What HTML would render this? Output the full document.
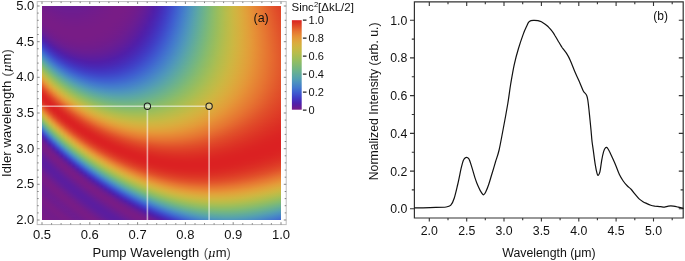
<!DOCTYPE html>
<html><head><meta charset="utf-8"><title>Figure</title>
<style>
html,body{margin:0;padding:0;background:#fff}
#fig{position:relative;width:685px;height:261px;overflow:hidden;background:#fff}
#hm{position:absolute;left:42px;top:6px;width:239px;height:214px}
#hm i{position:absolute;left:0;width:239px;height:1px;display:block}
</style></head><body><div id="fig"><div id="hm"><i style="top:0px;background:linear-gradient(90deg,#731c8a,#701c8d,#6e1d8f,#6c1d91,#6a1d92,#691d93,#691d93,#691d93,#691d93,#6a1d92,#6b1d91,#6c1d90,#6d1d8f,#6f1c8e,#711c8c,#721c8b,#741c89,#761c88,#771c87,#781c86,#781c86,#781c86,#761c88,#741c8a,#701c8d,#6b1d91,#651d96,#5d1d9d,#541ea5,#4d23ae,#482bb7,#4335c0,#4042c7,#3f52cc,#3f61d0,#4272ce,#4681c9,#4b8fc1,#529bb5,#5ba5a6,#65ad97,#70b387,#7cb878,#8bbb6a,#98bd5d,#a6be55,#b4bc4c,#c0ba47,#ccb742,#d5b13f,#dca93c,#e1a03a,#e49638,#e68b35,#e67f33,#e67431,#e5682f,#e35c2d,#e1522a,#e04929,#df4127)"></i><i style="top:1px;background:linear-gradient(90deg,#741c8a,#711c8c,#6f1c8e,#6d1d90,#6b1d91,#6a1d92,#6a1d92,#6a1d92,#6a1d92,#6b1d92,#6b1d91,#6d1d90,#6e1d8f,#701c8d,#711c8c,#731c8a,#741c89,#761c88,#771c87,#781c86,#781c86,#771c87,#761c88,#731c8a,#701c8d,#6b1d91,#651d97,#5d1d9e,#531ea6,#4d23ae,#472cb7,#4236c0,#4043c8,#3f52cd,#4062cf,#4272ce,#4681c8,#4b90c0,#539bb5,#5ba6a6,#65ad97,#70b487,#7db877,#8bbb6a,#98bd5d,#a6be55,#b4bc4c,#c0ba47,#ccb742,#d5b13f,#dca93c,#e1a03a,#e49638,#e68b35,#e68034,#e67531,#e5692f,#e35d2d,#e1532a,#e04a29,#df4227)"></i><i style="top:2px;background:linear-gradient(90deg,#741c89,#721c8b,#6f1c8d,#6e1d8f,#6c1d90,#6b1d91,#6b1d92,#6a1d92,#6b1d92,#6b1d91,#6c1d90,#6d1d8f,#6f1c8e,#701c8d,#721c8c,#731c8a,#751c89,#761c88,#771c87,#781c86,#781c86,#771c87,#761c88,#731c8a,#6f1c8e,#6a1d92,#641d98,#5c1d9e,#521ea7,#4c24af,#472cb8,#4237c1,#4044c8,#3f53cd,#4063cf,#4273cd,#4682c8,#4c90c0,#539cb4,#5ba6a6,#65ad96,#70b487,#7db877,#8bbb6a,#99bd5d,#a6be55,#b4bc4c,#c0ba47,#ccb742,#d4b13f,#dcaa3c,#e0a13a,#e49738,#e68c35,#e68034,#e67531,#e5692f,#e35e2d,#e1532a,#e04a29,#df4227)"></i><i style="top:3px;background:linear-gradient(90deg,#751c89,#731c8b,#701c8d,#6e1c8e,#6d1d90,#6c1d91,#6b1d91,#6b1d91,#6b1d91,#6c1d90,#6d1d90,#6e1d8f,#6f1c8e,#711c8c,#721c8b,#741c8a,#751c88,#761c87,#771c87,#781c86,#781c86,#771c87,#751c88,#731c8b,#6f1c8e,#6a1d93,#631d98,#5b1d9f,#521ea7,#4c24b0,#462db9,#4238c1,#4045c8,#3f54cd,#4064cf,#4274cd,#4682c8,#4c90c0,#539cb4,#5ba6a5,#65ad96,#70b486,#7db877,#8bbb6a,#99bd5d,#a6be55,#b4bc4c,#c0ba47,#ccb742,#d4b13f,#dbaa3c,#e0a13a,#e49738,#e68c36,#e68134,#e67631,#e56a2f,#e35f2d,#e1542b,#e04b29,#df4327)"></i><i style="top:4px;background:linear-gradient(90deg,#761c88,#731c8a,#711c8c,#6f1c8e,#6e1d8f,#6d1d90,#6c1d90,#6c1d90,#6c1d90,#6d1d90,#6d1d8f,#6e1c8e,#701c8d,#711c8c,#731c8b,#741c89,#751c88,#771c87,#781c86,#781c86,#781c86,#771c87,#751c89,#721c8b,#6e1c8e,#691d93,#621d99,#5a1ea0,#511ea8,#4b25b0,#462eb9,#4239c2,#4046c9,#3f55cd,#4065cf,#4275cd,#4783c8,#4c91bf,#539cb3,#5ca6a5,#65ae96,#71b486,#7db877,#8bbb6a,#99bd5d,#a6be55,#b4bc4c,#c0ba47,#ccb742,#d4b140,#dbaa3c,#e0a13a,#e49838,#e68c36,#e68134,#e67632,#e56b2f,#e35f2d,#e2552b,#e04b29,#df4328)"></i><i style="top:5px;background:linear-gradient(90deg,#761c87,#741c89,#721c8b,#701c8d,#6f1c8e,#6e1d8f,#6d1d90,#6d1d90,#6d1d90,#6d1d8f,#6e1d8f,#6f1c8e,#701c8d,#721c8c,#731c8a,#741c89,#761c88,#771c87,#781c86,#781c86,#781c86,#771c87,#751c89,#721c8b,#6e1d8f,#681d94,#621d9a,#591ea1,#501fa9,#4b26b1,#462fba,#4239c2,#4047c9,#3f56ce,#4066cf,#4275cd,#4784c7,#4c91bf,#549db3,#5ca7a4,#66ae95,#71b486,#7db877,#8bbc69,#99bd5d,#a6be55,#b4bc4c,#c0ba47,#ccb742,#d4b140,#dbaa3d,#e0a23a,#e49838,#e68d36,#e68234,#e67732,#e56b2f,#e3602d,#e2552b,#e04c29,#df4428)"></i><i style="top:6px;background:linear-gradient(90deg,#771c87,#751c89,#731c8b,#711c8c,#6f1c8d,#6e1c8e,#6e1d8f,#6e1d8f,#6e1d8f,#6e1d8f,#6f1c8e,#701c8d,#711c8c,#721c8b,#741c8a,#751c89,#761c88,#771c87,#781c86,#781c86,#781c86,#761c87,#741c89,#711c8c,#6d1d8f,#681d94,#611d9a,#591ea1,#501faa,#4a26b2,#452fbb,#423ac3,#4048c9,#3f57ce,#4066cf,#4376cd,#4784c7,#4d92be,#549db3,#5ca7a4,#66ae95,#71b486,#7db877,#8bbc69,#99bd5d,#a6be55,#b4bd4d,#c0bb47,#ccb742,#d4b140,#dbaa3d,#e0a23b,#e49838,#e68d36,#e68234,#e67732,#e56c30,#e4612d,#e2562b,#e04d29,#e04528)"></i><i style="top:7px;background:linear-gradient(90deg,#771c87,#751c88,#741c8a,#721c8b,#701c8d,#6f1c8e,#6f1c8e,#6e1c8e,#6e1c8e,#6f1c8e,#6f1c8d,#701c8d,#711c8c,#731c8b,#741c8a,#751c88,#761c87,#771c87,#781c86,#781c86,#771c86,#761c88,#741c89,#711c8c,#6d1d90,#671d95,#601d9b,#581ea2,#4f20aa,#4a27b3,#4530bb,#413bc3,#3f49ca,#3f58ce,#4067cf,#4377cd,#4785c7,#4d92be,#549eb2,#5ca7a4,#66ae94,#71b485,#7eb976,#8bbc69,#99bd5d,#a6be55,#b4bd4d,#c0bb47,#cbb742,#d4b140,#dbab3d,#e0a23b,#e49938,#e68e36,#e68334,#e67832,#e56d30,#e4612e,#e2572b,#e14d29,#e04528)"></i><i style="top:8px;background:linear-gradient(90deg,#781c86,#761c88,#741c89,#731c8b,#711c8c,#701c8d,#6f1c8e,#6f1c8e,#6f1c8e,#6f1c8d,#701c8d,#711c8c,#721c8b,#731c8a,#741c89,#761c88,#771c87,#771c86,#781c86,#781c86,#771c87,#761c88,#741c8a,#701c8d,#6c1d91,#661d96,#5f1d9c,#571ea3,#4f21ab,#4928b3,#4531bc,#413cc4,#3f4aca,#3f59ce,#4068cf,#4378cd,#4886c6,#4d93be,#549eb2,#5da7a3,#67ae94,#72b485,#7eb976,#8cbc69,#99bd5d,#a6be55,#b4bd4d,#c0bb47,#cbb742,#d3b240,#dbab3d,#e0a23b,#e39939,#e68e36,#e68334,#e67832,#e56d30,#e4622e,#e2572b,#e14e29,#e04628)"></i><i style="top:9px;background:linear-gradient(90deg,#781c86,#771c87,#751c89,#731c8a,#721c8b,#711c8c,#701c8d,#701c8d,#701c8d,#701c8d,#711c8c,#721c8c,#731c8b,#741c8a,#751c89,#761c88,#771c87,#781c86,#781c86,#781c86,#771c87,#761c88,#731c8a,#701c8d,#6b1d91,#651d96,#5e1d9c,#561ea4,#4e21ac,#4928b4,#4432bd,#413dc5,#3f4bca,#3f5acf,#4169ce,#4379cd,#4886c6,#4d93bd,#559eb1,#5da8a3,#67ae94,#72b485,#7eb976,#8cbc69,#99bd5d,#a6be54,#b4bd4d,#c0bb47,#cbb742,#d3b240,#dbab3d,#e0a33b,#e39a39,#e68f36,#e68434,#e67932,#e56e30,#e4632e,#e2582c,#e14e2a,#e04628)"></i><i style="top:10px;background:linear-gradient(90deg,#781c86,#771c87,#761c88,#741c89,#731c8b,#721c8c,#711c8c,#701c8d,#701c8d,#711c8c,#711c8c,#721c8b,#731c8a,#741c89,#751c88,#761c88,#771c87,#781c86,#781c86,#781c86,#771c87,#751c88,#731c8b,#6f1c8e,#6b1d92,#651d97,#5d1d9d,#551ea5,#4e22ad,#4829b5,#4433be,#413ec5,#3f4ccb,#3f5bcf,#416ace,#4379cd,#4887c5,#4e94bd,#559fb1,#5da8a2,#67af93,#72b584,#7eb976,#8cbc69,#99bd5d,#a6be54,#b4bd4d,#bfbb47,#cbb742,#d3b240,#dbab3d,#e0a33b,#e39a39,#e68f36,#e68434,#e67932,#e56e30,#e4632e,#e2592c,#e14f2a,#e04728)"></i><i style="top:11px;background:linear-gradient(90deg,#781c86,#771c86,#761c88,#751c89,#731c8a,#721c8b,#721c8c,#711c8c,#711c8c,#711c8c,#721c8b,#731c8b,#741c8a,#751c89,#761c88,#761c87,#771c87,#781c86,#781c86,#781c86,#771c87,#751c89,#721c8b,#6f1c8e,#6a1d92,#641d98,#5d1d9e,#541ea6,#4d22ad,#482ab6,#4333be,#413fc6,#3f4dcb,#3f5ccf,#416bce,#437acc,#4888c5,#4e94bc,#559fb0,#5ea8a2,#68af93,#72b584,#7fb975,#8cbc68,#99bd5d,#a7be54,#b4bd4d,#bfbb47,#cbb742,#d3b240,#daab3d,#dfa33b,#e39a39,#e68f36,#e68534,#e67a32,#e56f30,#e4642e,#e2592c,#e1502a,#e04728)"></i><i style="top:12px;background:linear-gradient(90deg,#781c86,#781c86,#771c87,#751c88,#741c89,#731c8a,#721c8b,#721c8b,#721c8b,#721c8b,#731c8b,#731c8a,#741c89,#751c89,#761c88,#771c87,#771c86,#781c86,#781c86,#781c86,#761c87,#751c89,#721c8b,#6e1d8f,#691d93,#631d98,#5c1d9f,#531ea6,#4d23ae,#482bb6,#4334bf,#4040c6,#3f4ecb,#3f5dd0,#416cce,#447bcc,#4988c5,#4e95bc,#56a0b0,#5ea8a1,#68af92,#73b583,#7fb975,#8cbc68,#99bd5c,#a7be54,#b4bd4d,#bfbb47,#cbb742,#d3b240,#daab3d,#dfa33b,#e39a39,#e69036,#e68534,#e67a32,#e57030,#e4642e,#e25a2c,#e1502a,#e04828)"></i><i style="top:13px;background:linear-gradient(90deg,#781c86,#781c86,#771c87,#761c88,#751c89,#741c8a,#731c8a,#731c8b,#731c8b,#731c8b,#731c8a,#741c8a,#751c89,#751c88,#761c88,#771c87,#781c86,#781c86,#781c86,#771c87,#761c88,#741c89,#711c8c,#6d1d8f,#681d94,#621d99,#5b1ea0,#521ea7,#4c24af,#472cb7,#4335c0,#4041c7,#3f4fcc,#3f5ed0,#416dce,#447ccc,#4989c4,#4f95bb,#56a0af,#5ea9a0,#68af92,#73b583,#7fb975,#8dbc68,#9abd5c,#a7be54,#b4bd4d,#bfbb47,#cbb743,#d3b240,#daac3d,#dfa33b,#e39b39,#e69036,#e68535,#e67b32,#e67030,#e4652e,#e35a2c,#e1512a,#e04929)"></i><i style="top:14px;background:linear-gradient(90deg,#771c87,#781c86,#771c86,#761c87,#751c88,#741c89,#741c8a,#731c8a,#731c8a,#731c8a,#741c8a,#741c89,#751c89,#761c88,#771c87,#771c87,#781c86,#781c86,#781c86,#771c87,#761c88,#741c8a,#711c8c,#6d1d90,#681d94,#611d9a,#5a1ea0,#511ea8,#4c24b0,#472cb8,#4236c0,#4042c7,#3f50cc,#3f5fd0,#416ece,#447ccb,#498ac4,#4f96bb,#56a0ae,#5fa9a0,#69af91,#73b583,#80b974,#8dbc68,#9abd5c,#a7be54,#b4bd4d,#bfbb47,#cbb743,#d3b240,#daac3d,#dfa43b,#e39b39,#e69036,#e68635,#e67b33,#e67130,#e4662e,#e35b2c,#e1512a,#e04929)"></i><i style="top:15px;background:linear-gradient(90deg,#771c87,#781c86,#781c86,#771c87,#761c88,#751c89,#741c89,#741c8a,#741c8a,#741c8a,#741c89,#751c89,#751c88,#761c88,#771c87,#771c86,#781c86,#781c86,#781c86,#771c87,#751c88,#731c8a,#701c8d,#6c1d90,#671d95,#601d9b,#591ea1,#501fa9,#4b25b1,#462db9,#4237c1,#4043c8,#3f51cc,#3f60d0,#416fce,#457dcb,#498ac3,#4f97ba,#57a1ae,#5fa99f,#69b091,#74b582,#80b974,#8dbc68,#9abd5c,#a7be54,#b4bc4c,#bfbb47,#cbb743,#d3b240,#daac3d,#dfa43b,#e39b39,#e69136,#e68635,#e67c33,#e67131,#e4662f,#e35c2c,#e1522a,#e04a29)"></i><i style="top:16px;background:linear-gradient(90deg,#761c88,#781c86,#781c86,#771c87,#761c87,#761c88,#751c89,#751c89,#741c89,#741c89,#751c89,#751c88,#761c88,#761c87,#771c87,#781c86,#781c86,#781c86,#781c86,#771c87,#751c89,#731c8b,#701c8d,#6b1d91,#661d96,#5f1d9b,#581ea2,#5020aa,#4b26b2,#462eba,#4238c2,#4044c8,#3f52cd,#3f61d0,#4270ce,#457eca,#4a8bc3,#4f97ba,#57a1ad,#5fa99f,#69b090,#74b582,#80b974,#8dbc67,#9abd5c,#a7be54,#b4bc4c,#bfbb47,#cbb743,#d3b240,#daac3d,#dfa43b,#e39b39,#e59137,#e68635,#e67c33,#e67231,#e4672f,#e35c2c,#e1532a,#e04a29)"></i><i style="top:17px;background:linear-gradient(90deg,#751c88,#781c86,#781c86,#781c86,#771c87,#761c88,#751c88,#751c89,#751c89,#751c89,#751c88,#761c88,#761c88,#771c87,#771c87,#781c86,#781c86,#781c86,#771c87,#761c87,#751c89,#721c8b,#6f1c8e,#6b1d92,#651d97,#5e1d9c,#571ea3,#4f20ab,#4a27b2,#452fbb,#4239c2,#4045c8,#3f54cd,#4062cf,#4271ce,#457fca,#4a8cc3,#5098b9,#57a2ac,#60aa9e,#6ab090,#74b581,#81b973,#8ebc67,#9abd5c,#a7be54,#b4bc4c,#bfbb47,#cab743,#d3b240,#daac3d,#dfa43b,#e39c39,#e59137,#e68735,#e67c33,#e67231,#e4672f,#e35d2d,#e1532a,#e04b29)"></i><i style="top:18px;background:linear-gradient(90deg,#741c89,#771c87,#781c86,#781c86,#771c87,#771c87,#761c88,#761c88,#751c88,#751c88,#761c88,#761c88,#771c87,#771c87,#781c86,#781c86,#781c86,#781c86,#771c87,#761c88,#741c89,#721c8c,#6e1d8f,#6a1d92,#641d97,#5d1d9d,#551ea4,#4f21ac,#4927b3,#4530bb,#423ac3,#4047c9,#3f55cd,#4063cf,#4272ce,#4580c9,#4a8dc2,#5098b9,#58a2ac,#60aa9e,#6ab08f,#75b681,#81b973,#8ebc67,#9bbd5c,#a7be54,#b4bc4c,#bfbb47,#cab743,#d3b240,#daac3d,#dfa43b,#e39c39,#e59237,#e68735,#e67d33,#e67331,#e5682f,#e35d2d,#e1542b,#e04b29)"></i><i style="top:19px;background:linear-gradient(90deg,#731c8a,#771c87,#781c86,#781c86,#781c86,#771c87,#761c87,#761c88,#761c88,#761c88,#761c88,#761c87,#771c87,#771c87,#781c86,#781c86,#781c86,#781c86,#771c87,#761c88,#741c8a,#711c8c,#6d1d8f,#691d93,#631d98,#5c1d9e,#541ea5,#4e22ac,#4928b4,#4431bc,#413bc4,#4048c9,#3f56ce,#4064cf,#4273cd,#4680c9,#4a8ec2,#5199b8,#58a2ab,#60aa9d,#6ab18f,#75b680,#81ba73,#8ebc67,#9bbd5b,#a8be54,#b4bc4c,#bfbb47,#cab743,#d3b240,#daac3d,#dfa43b,#e39c39,#e59237,#e68835,#e67d33,#e67331,#e5682f,#e35e2d,#e2542b,#e04c29)"></i><i style="top:20px;background:linear-gradient(90deg,#721c8b,#761c88,#781c86,#781c86,#781c86,#771c87,#771c87,#771c87,#761c87,#761c87,#771c87,#771c87,#771c87,#781c86,#781c86,#781c86,#781c86,#781c86,#771c87,#751c88,#731c8a,#701c8d,#6d1d90,#681d94,#621d99,#5b1d9f,#531ea6,#4d22ad,#4829b5,#4432bd,#413dc4,#3f49ca,#3f57ce,#4065cf,#4274cd,#4681c8,#4b8ec1,#5199b7,#59a3aa,#61aa9c,#6bb18e,#75b680,#82ba72,#8ebc66,#9bbd5b,#a8be54,#b4bc4c,#bfbb47,#cab743,#d2b240,#daac3d,#dfa53b,#e29c39,#e59237,#e68835,#e67e33,#e67431,#e5692f,#e35e2d,#e2552b,#e04c29)"></i><i style="top:21px;background:linear-gradient(90deg,#701c8d,#751c89,#771c87,#781c86,#781c86,#781c86,#771c87,#771c87,#771c87,#771c87,#771c87,#771c87,#771c87,#781c86,#781c86,#781c86,#781c86,#771c87,#761c87,#751c89,#731c8b,#701c8d,#6c1d91,#671d95,#611d9a,#5a1ea0,#521ea7,#4d23ae,#482ab6,#4333be,#413ec5,#3f4aca,#3f58ce,#4067cf,#4275cd,#4682c8,#4b8fc1,#519ab7,#59a3aa,#61ab9c,#6bb18e,#76b67f,#82ba72,#8fbc66,#9bbd5b,#a8be53,#b5bc4c,#bfbb47,#cab743,#d2b240,#daac3d,#dfa53b,#e29c39,#e59237,#e68835,#e67e33,#e67431,#e5692f,#e35f2d,#e2552b,#e14d29)"></i><i style="top:22px;background:linear-gradient(90deg,#6e1c8e,#741c8a,#771c87,#781c86,#781c86,#781c86,#781c86,#771c87,#771c87,#771c87,#771c87,#771c87,#781c86,#781c86,#781c86,#781c86,#781c86,#771c87,#761c88,#741c89,#721c8b,#6f1c8e,#6b1d91,#661d96,#601d9b,#591ea1,#511ea8,#4c24af,#472bb7,#4334bf,#413fc6,#3f4ccb,#3f59cf,#4068cf,#4376cd,#4783c8,#4b90c0,#529ab6,#59a4a9,#62ab9b,#6cb18d,#76b67f,#82ba72,#8fbc66,#9cbd5b,#a8be53,#b5bc4c,#c0bb47,#cab743,#d2b240,#daac3d,#dfa53b,#e29d39,#e59337,#e68835,#e67e33,#e67531,#e56a2f,#e3602d,#e2562b,#e14d29)"></i><i style="top:23px;background:linear-gradient(90deg,#6c1d90,#731c8b,#761c88,#771c86,#781c86,#781c86,#781c86,#781c86,#771c87,#771c87,#771c86,#781c86,#781c86,#781c86,#781c86,#781c86,#781c86,#771c87,#761c88,#741c8a,#721c8c,#6e1c8e,#6a1d92,#651d96,#5f1d9c,#581ea2,#501fa9,#4c25b0,#472cb8,#4335c0,#4040c6,#3f4dcb,#3f5bcf,#4169ce,#4377cd,#4784c7,#4c91c0,#529bb5,#5aa4a8,#62ab9a,#6cb28c,#77b67e,#83ba71,#8fbc65,#9cbd5b,#a8be53,#b5bc4c,#c0bb47,#cab743,#d2b240,#daac3d,#dea53b,#e29d39,#e59337,#e68935,#e67f33,#e67531,#e56a2f,#e4602d,#e2562b,#e14e29)"></i><i style="top:24px;background:linear-gradient(90deg,#6a1d92,#711c8c,#751c89,#771c87,#781c86,#781c86,#781c86,#781c86,#781c86,#781c86,#781c86,#781c86,#781c86,#781c86,#781c86,#781c86,#771c87,#771c87,#751c88,#731c8a,#711c8c,#6e1d8f,#691d93,#641d97,#5e1d9d,#571ea3,#5020aa,#4b26b1,#462db9,#4236c1,#4041c7,#3f4ecb,#3f5ccf,#416ace,#4378cd,#4785c7,#4c91bf,#539cb4,#5aa5a7,#63ac9a,#6db28c,#77b67e,#83ba71,#90bc65,#9cbd5b,#a9be53,#b5bc4c,#c0bb47,#cbb743,#d2b240,#d9ac3d,#dea53b,#e29d39,#e59337,#e68935,#e67f33,#e67531,#e56b2f,#e4612d,#e2572b,#e14e2a)"></i><i style="top:25px;background:linear-gradient(90deg,#671d94,#6f1c8d,#741c89,#761c87,#781c86,#781c86,#781c86,#781c86,#781c86,#781c86,#781c86,#781c86,#781c86,#781c86,#781c86,#781c86,#771c87,#761c88,#751c89,#731c8b,#701c8d,#6d1d90,#681d94,#631d98,#5d1d9e,#551ea4,#4f21ab,#4a27b2,#462eba,#4238c1,#4043c8,#3f50cc,#3f5dd0,#416cce,#4379cd,#4886c6,#4d92be,#539cb4,#5ba5a7,#63ac99,#6db28b,#78b77d,#84ba70,#90bc65,#9cbd5b,#a9be53,#b5bc4c,#c0ba47,#cbb743,#d2b240,#d9ac3d,#dea53b,#e29d39,#e59337,#e68935,#e67f33,#e67631,#e56b2f,#e4612e,#e2572b,#e14f2a)"></i><i style="top:26px;background:linear-gradient(90deg,#651d97,#6e1d8f,#731c8a,#761c88,#771c87,#781c86,#781c86,#781c86,#781c86,#781c86,#781c86,#781c86,#781c86,#781c86,#781c86,#771c86,#771c87,#761c88,#741c89,#721c8b,#6f1c8d,#6c1d91,#671d94,#621d99,#5c1d9f,#541ea5,#4e21ac,#4927b3,#452fbb,#4239c2,#4044c8,#3f51cc,#3f5fd0,#416dce,#447acc,#4887c5,#4d93be,#549db3,#5ba6a6,#64ac98,#6eb28a,#78b77d,#84ba70,#91bc64,#9dbd5a,#a9be53,#b5bc4c,#c0ba47,#cbb743,#d2b240,#d9ad3d,#dea53b,#e29d39,#e59437,#e68a35,#e68034,#e67631,#e56c30,#e4622e,#e2582c,#e14f2a)"></i><i style="top:27px;background:linear-gradient(90deg,#621d9a,#6c1d91,#711c8c,#751c89,#771c87,#781c86,#781c86,#781c86,#781c86,#781c86,#781c86,#781c86,#781c86,#781c86,#781c86,#771c87,#761c87,#751c88,#741c8a,#721c8c,#6f1c8e,#6b1d91,#661d95,#611d9a,#5a1ea0,#531ea6,#4e22ad,#4928b4,#4531bc,#423ac3,#4045c8,#3f53cd,#3f60d0,#416ece,#447bcc,#4888c5,#4d93bd,#549eb2,#5ba6a5,#64ad97,#6eb38a,#79b77c,#85bb6f,#91bc64,#9dbd5a,#aabd52,#b6bc4c,#c0ba47,#cbb743,#d2b240,#d9ad3d,#dea53b,#e29d39,#e59437,#e68a35,#e68034,#e67631,#e56c30,#e4622e,#e2582c,#e1502a)"></i><i style="top:28px;background:linear-gradient(90deg,#5e1d9d,#691d93,#701c8d,#741c8a,#761c88,#771c87,#781c86,#781c86,#781c86,#781c86,#781c86,#781c86,#781c86,#781c86,#771c87,#771c87,#761c88,#751c89,#731c8a,#711c8c,#6e1d8f,#6a1d92,#651d96,#601d9b,#591ea1,#521ea8,#4d23ae,#4829b5,#4432bd,#413bc4,#4047c9,#3f54cd,#3f61d0,#426fce,#447dcb,#4989c4,#4e94bc,#559eb1,#5ca7a4,#65ad97,#6fb389,#79b77b,#85bb6f,#91bc64,#9dbd5a,#aabd52,#b6bc4c,#c0ba47,#cbb742,#d2b240,#d9ad3d,#dea53b,#e29d3a,#e59437,#e68a35,#e68034,#e67732,#e56c30,#e4622e,#e2592c,#e1502a)"></i><i style="top:29px;background:linear-gradient(90deg,#5b1ea0,#671d95,#6e1d8f,#731c8b,#751c88,#771c87,#771c87,#781c86,#781c86,#781c86,#781c86,#781c86,#781c86,#781c86,#771c87,#771c87,#761c88,#741c89,#721c8b,#701c8d,#6d1d90,#691d93,#641d97,#5f1d9c,#581ea2,#511fa9,#4c24af,#482bb6,#4433be,#413dc4,#4048c9,#3f55ce,#4063cf,#4271ce,#457ecb,#498ac4,#4e95bc,#559fb0,#5ca7a3,#65ad96,#6fb388,#7ab77b,#86bb6e,#92bc63,#9ebd5a,#aabd52,#b6bc4b,#c0ba47,#cbb742,#d2b240,#d9ad3d,#dea53b,#e29d3a,#e59437,#e68a35,#e68134,#e67732,#e56d30,#e4632e,#e2592c,#e1512a)"></i><i style="top:30px;background:linear-gradient(90deg,#571ea3,#641d98,#6c1d90,#711c8c,#741c89,#761c88,#771c87,#771c87,#781c86,#781c86,#781c86,#781c86,#781c86,#771c87,#771c87,#761c88,#751c89,#741c8a,#721c8b,#6f1c8e,#6c1d90,#681d94,#631d98,#5d1d9d,#571ea3,#501faa,#4b25b0,#472cb7,#4334bf,#413ec5,#3f4aca,#3f57ce,#4064cf,#4272ce,#457fca,#498bc3,#4f96bb,#569fb0,#5da8a3,#66ae95,#70b388,#7ab77a,#86bb6e,#92bc63,#9ebd59,#aabd52,#b6bc4b,#c1ba47,#cbb742,#d2b240,#d9ad3d,#dea53b,#e29d3a,#e59437,#e68a35,#e68134,#e67732,#e56d30,#e4632e,#e25a2c,#e1512a)"></i><i style="top:31px;background:linear-gradient(90deg,#521ea7,#611d9a,#6a1d92,#701c8d,#731c8a,#751c88,#761c87,#771c87,#771c87,#781c86,#781c86,#771c86,#771c87,#771c87,#761c87,#761c88,#751c89,#731c8a,#711c8c,#6e1c8e,#6b1d91,#671d95,#621d99,#5c1d9e,#551ea4,#4f20ab,#4b26b1,#472db9,#4335c0,#403fc6,#3f4ccb,#3f58ce,#4066cf,#4273cd,#4580c9,#4a8cc3,#4f97ba,#56a0af,#5da8a2,#66ae94,#70b487,#7bb87a,#87bb6d,#93bc63,#9fbd59,#abbd52,#b7bc4b,#c1ba47,#cbb742,#d3b240,#d9ad3d,#dea53b,#e29d3a,#e59437,#e68b35,#e68134,#e67732,#e56d30,#e4642e,#e35a2c,#e1512a)"></i><i style="top:32px;background:linear-gradient(90deg,#4f20aa,#5d1d9d,#671d95,#6e1d8f,#721c8b,#741c89,#761c88,#771c87,#771c87,#771c87,#771c87,#771c87,#771c87,#771c87,#761c88,#751c89,#741c8a,#721c8b,#701c8d,#6d1d8f,#6a1d92,#661d96,#611d9a,#5b1ea0,#541ea6,#4e21ac,#4a27b3,#462eba,#4237c1,#4041c7,#3f4dcb,#3f5acf,#4067cf,#4275cd,#4681c9,#4a8dc2,#5097b9,#57a1ae,#5ea8a1,#67ae94,#71b486,#7bb879,#87bb6d,#93bc62,#9fbe59,#abbd51,#b7bc4b,#c1ba47,#cbb742,#d3b240,#d9ad3d,#dea53b,#e29e3a,#e59437,#e68b35,#e68134,#e67832,#e56e30,#e4642e,#e35a2c,#e1522a)"></i><i style="top:33px;background:linear-gradient(90deg,#4d23ae,#5a1ea1,#651d97,#6c1d91,#701c8d,#731c8a,#751c89,#761c88,#761c87,#771c87,#771c87,#771c87,#771c87,#761c88,#751c88,#751c89,#731c8a,#721c8c,#6f1c8e,#6c1d90,#691d93,#651d97,#5f1d9b,#591ea1,#521ea7,#4e22ad,#4928b4,#452fbb,#4238c2,#4042c7,#3f4fcc,#3f5bcf,#4169ce,#4376cd,#4682c8,#4b8ec2,#5098b9,#57a1ad,#5fa9a0,#68af93,#71b485,#7cb878,#88bb6c,#94bc62,#9fbe59,#acbd51,#b7bc4b,#c1ba46,#cbb742,#d3b240,#d9ac3d,#dea53b,#e29e3a,#e59537,#e68b35,#e68134,#e67832,#e56e30,#e4642e,#e35b2c,#e1522a)"></i><i style="top:34px;background:linear-gradient(90deg,#4a26b2,#561ea4,#621d99,#6a1d93,#6f1c8e,#721c8b,#741c8a,#751c88,#761c88,#761c88,#761c87,#761c87,#761c88,#761c88,#751c89,#741c8a,#731c8b,#711c8c,#6e1c8e,#6b1d91,#681d94,#631d98,#5e1d9d,#581ea2,#511ea8,#4d23ae,#4829b5,#4531bc,#423ac2,#4044c8,#3f50cc,#3f5dd0,#416ace,#4377cd,#4783c7,#4b8fc1,#5199b8,#58a2ac,#5fa99f,#68af92,#72b485,#7cb878,#88bb6c,#94bc61,#a0be58,#acbd51,#b7bc4b,#c1ba46,#ccb742,#d3b240,#d9ac3d,#dea53b,#e29e3a,#e59537,#e68b35,#e68234,#e67832,#e56e30,#e4652e,#e35b2c,#e1532a)"></i><i style="top:35px;background:linear-gradient(90deg,#482ab6,#511ea8,#5e1d9c,#671d95,#6d1d90,#711c8d,#731c8a,#741c89,#751c88,#761c88,#761c88,#761c88,#751c88,#751c89,#741c89,#731c8a,#721c8b,#701c8d,#6d1d8f,#6a1d92,#671d95,#621d99,#5d1d9e,#561ea3,#501fa9,#4c24af,#482ab6,#4432bd,#413bc3,#4046c9,#3f52cd,#3f5ed0,#416cce,#4379cd,#4784c7,#4c90c0,#519ab7,#58a3ab,#60aa9e,#69b091,#72b584,#7db877,#89bb6b,#95bc61,#a0be58,#acbd51,#b8bc4b,#c2ba46,#ccb742,#d3b240,#daac3d,#dea53b,#e29e3a,#e59537,#e68b35,#e68234,#e67832,#e56f30,#e4652e,#e35c2c,#e1532a)"></i><i style="top:36px;background:linear-gradient(90deg,#462eba,#4f21ab,#5b1d9f,#641d97,#6b1d92,#6f1c8e,#721c8c,#731c8a,#741c89,#751c89,#751c89,#751c89,#751c89,#741c89,#731c8a,#721c8b,#711c8c,#6f1c8e,#6c1d90,#691d93,#651d96,#611d9a,#5b1d9f,#551ea5,#4f20ab,#4b25b1,#472cb7,#4333be,#413cc4,#4047c9,#3f54cd,#3f60d0,#416dce,#437acc,#4885c6,#4c91bf,#529bb6,#59a3aa,#60aa9d,#6ab090,#73b583,#7eb976,#8abb6b,#95bd60,#a1be58,#adbd50,#b8bc4a,#c2ba46,#ccb742,#d3b240,#daac3d,#dea53b,#e29e3a,#e59537,#e68b35,#e68234,#e67932,#e56f30,#e4652e,#e35c2c,#e1532b)"></i><i style="top:37px;background:linear-gradient(90deg,#4333be,#4c24af,#571ea3,#621d9a,#691d93,#6d1d8f,#701c8d,#721c8b,#731c8a,#741c89,#741c89,#741c89,#741c89,#741c8a,#731c8b,#711c8c,#701c8d,#6e1d8f,#6b1d91,#681d94,#641d97,#5f1d9c,#5a1ea0,#531ea6,#4e21ac,#4a26b2,#472db9,#4335bf,#413ec5,#3f49ca,#3f55cd,#4062cf,#416fce,#447bcc,#4887c6,#4d92be,#539bb5,#59a4a9,#61ab9c,#6ab08f,#74b582,#7fb975,#8abb6a,#96bd60,#a1be58,#adbd50,#b8bc4a,#c2ba46,#ccb742,#d3b240,#daac3d,#dea53b,#e29e3a,#e59537,#e68b35,#e68234,#e67932,#e56f30,#e4662e,#e35c2d,#e1542b)"></i><i style="top:38px;background:linear-gradient(90deg,#4238c2,#4a27b3,#531ea6,#5e1d9c,#661d96,#6b1d91,#6f1c8e,#711c8c,#721c8b,#731c8a,#731c8a,#731c8a,#731c8a,#731c8b,#721c8b,#711c8d,#6f1c8e,#6d1d90,#6a1d92,#671d95,#631d99,#5e1d9d,#581ea2,#521ea7,#4e22ad,#4927b3,#462eba,#4236c0,#4040c6,#3f4bca,#3f57ce,#4063cf,#4270ce,#447ccb,#4888c5,#4d93be,#539cb4,#5aa5a8,#62ab9b,#6bb18e,#74b581,#7fb975,#8bbb6a,#96bd5f,#a2be57,#aebd50,#b9bc4a,#c2ba46,#ccb742,#d3b240,#daac3d,#dea53b,#e29e3a,#e59537,#e68b35,#e68234,#e67932,#e57030,#e4662f,#e35d2d,#e1542b)"></i><i style="top:39px;background:linear-gradient(90deg,#413ec5,#482bb7,#501faa,#5b1d9f,#631d98,#691d93,#6d1d90,#6f1c8e,#711c8c,#721c8b,#721c8b,#731c8b,#721c8b,#721c8b,#711c8c,#6f1c8d,#6e1d8f,#6c1d91,#691d93,#651d96,#611d9a,#5c1d9e,#571ea3,#501fa9,#4d23ae,#4929b5,#4530bb,#4238c1,#4041c7,#3f4dcb,#3f59ce,#4065cf,#4272ce,#457eca,#4989c4,#4e94bd,#549db3,#5ba5a7,#62ac9a,#6cb18d,#75b680,#80b974,#8cbc69,#97bd5f,#a2be57,#aebd4f,#b9bc4a,#c3ba46,#ccb742,#d3b240,#daac3d,#dea53b,#e29e3a,#e59537,#e68b35,#e68234,#e67932,#e57030,#e4662f,#e35d2d,#e2542b)"></i><i style="top:40px;background:linear-gradient(90deg,#4044c8,#452fbb,#4e22ad,#571ea3,#601d9b,#671d95,#6b1d91,#6e1d8f,#701c8d,#711c8c,#711c8c,#711c8c,#711c8c,#711c8c,#701c8d,#6e1c8e,#6d1d90,#6a1d92,#671d94,#641d98,#601d9b,#5b1ea0,#551ea5,#5020aa,#4c24b0,#482ab6,#4431bc,#4239c2,#4043c8,#3f4fcc,#3f5acf,#4067cf,#4273cd,#457fca,#498ac4,#4e95bc,#549eb2,#5ba6a5,#63ac99,#6cb28c,#76b680,#81b973,#8cbc68,#98bd5e,#a3be57,#afbd4f,#b9bc4a,#c3ba46,#cdb742,#d3b240,#daac3d,#dea53b,#e29e3a,#e59537,#e68c35,#e68234,#e67932,#e67030,#e4662f,#e35d2d,#e2552b)"></i><i style="top:41px;background:linear-gradient(90deg,#3f4bca,#4334bf,#4b25b1,#531ea6,#5d1d9d,#641d97,#691d93,#6c1d90,#6e1d8f,#6f1c8e,#701c8d,#701c8d,#701c8d,#701c8d,#6f1c8e,#6d1d8f,#6b1d91,#691d93,#661d96,#621d99,#5e1d9d,#591ea1,#531ea6,#4f21ab,#4b26b1,#472cb7,#4433be,#413bc3,#4045c8,#3f51cc,#3f5ccf,#4169ce,#4275cd,#4680c9,#4a8cc3,#4f96bb,#559fb0,#5ca7a4,#64ad98,#6db28b,#77b67f,#81ba73,#8dbc68,#98bd5e,#a3be56,#afbd4f,#babc4a,#c3ba45,#cdb642,#d4b140,#daac3d,#dea53b,#e29d3a,#e59537,#e68c35,#e68234,#e67932,#e67030,#e4672f,#e35d2d,#e2552b)"></i><i style="top:42px;background:linear-gradient(90deg,#3f53cd,#4239c2,#4929b5,#501faa,#5a1ea0,#611d9a,#661d95,#6a1d92,#6c1d90,#6e1d8f,#6f1c8e,#6f1c8e,#6f1c8e,#6e1c8e,#6d1d8f,#6c1d91,#6a1d92,#681d94,#651d97,#611d9a,#5c1d9e,#571ea2,#511ea8,#4e22ad,#4a27b3,#462db9,#4334bf,#413dc4,#4047c9,#3f52cd,#3f5ed0,#416ace,#4377cd,#4682c8,#4a8dc2,#4f97ba,#56a0af,#5da7a3,#65ad97,#6eb28a,#77b67e,#82ba72,#8ebc67,#99bd5d,#a4be56,#b0bd4f,#babc49,#c4ba45,#cdb642,#d4b140,#daac3d,#dfa53b,#e29d3a,#e59537,#e68c35,#e68334,#e67932,#e67030,#e4672f,#e35e2d,#e2552b)"></i><i style="top:43px;background:linear-gradient(90deg,#3f5acf,#413fc6,#462db9,#4e22ad,#561ea4,#5e1d9d,#641d98,#681d94,#6a1d92,#6c1d90,#6d1d8f,#6e1d8f,#6d1d8f,#6d1d90,#6c1d91,#6a1d92,#691d93,#661d96,#631d98,#5f1d9c,#5b1d9f,#561ea4,#501fa9,#4d23ae,#4928b4,#462fba,#4336c0,#413ec5,#3f49ca,#3f54cd,#3f60d0,#416cce,#4378cd,#4783c7,#4b8ec1,#5098b9,#56a1ae,#5da8a2,#65ad96,#6eb389,#78b77d,#83ba71,#8ebc67,#99bd5c,#a5be56,#b0bd4e,#bbbc49,#c4b945,#cdb642,#d4b140,#daac3d,#dfa53b,#e29d3a,#e59537,#e68c35,#e68334,#e67a32,#e67030,#e4672f,#e35e2d,#e2552b)"></i><i style="top:44px;background:linear-gradient(90deg,#4062cf,#4045c8,#4432bd,#4b25b1,#521ea7,#5b1d9f,#611d9a,#651d96,#681d94,#6a1d92,#6c1d91,#6c1d90,#6c1d90,#6b1d91,#6a1d92,#691d93,#671d95,#641d97,#611d9a,#5e1d9d,#591ea1,#541ea6,#4f20ab,#4c24b0,#482ab5,#4530bb,#4238c1,#4040c7,#3f4bca,#3f56ce,#4062cf,#416ece,#437acd,#4785c7,#4b90c0,#5199b8,#57a1ad,#5ea8a1,#66ae95,#6fb388,#79b77c,#84ba70,#8fbc66,#9abd5c,#a5be55,#b1bd4e,#bbbc49,#c4b945,#ceb642,#d4b140,#daab3d,#dfa53b,#e29d39,#e59537,#e68c35,#e68334,#e67a32,#e67130,#e4672f,#e35e2d,#e2562b)"></i><i style="top:45px;background:linear-gradient(90deg,#416ace,#3f4ccb,#4236c0,#4928b4,#4f20ab,#571ea3,#5e1d9d,#631d98,#661d95,#681d94,#6a1d92,#6a1d92,#6a1d92,#6a1d92,#691d93,#671d94,#651d96,#631d98,#601d9b,#5c1d9f,#571ea3,#521ea7,#4e21ac,#4b26b1,#472bb7,#4432bd,#4239c2,#4042c7,#3f4dcb,#3f58ce,#4064cf,#4270ce,#447bcc,#4886c6,#4c91bf,#519ab7,#58a2ac,#5fa9a0,#67af93,#70b387,#7ab77b,#85bb6f,#90bc65,#9bbd5b,#a6be55,#b1bd4e,#bbbb49,#c5b945,#ceb641,#d4b13f,#daab3d,#dfa43b,#e29d39,#e59537,#e68b35,#e68334,#e67a32,#e67130,#e4672f,#e35e2d,#e2562b)"></i><i style="top:46px;background:linear-gradient(90deg,#4272ce,#3f53cd,#413cc4,#472db8,#4d23ae,#531ea6,#5b1d9f,#601d9b,#641d98,#661d95,#681d94,#691d93,#691d93,#681d94,#671d95,#661d96,#641d98,#611d9a,#5e1d9d,#5a1ea0,#551ea4,#501fa9,#4d23ae,#4a27b3,#472db8,#4333be,#413bc3,#4044c8,#3f4fcc,#3f5acf,#4066cf,#4272ce,#447dcb,#4887c5,#4d92be,#529bb5,#59a3aa,#60aa9e,#68af92,#71b486,#7bb87a,#86bb6e,#91bc64,#9cbd5b,#a7be54,#b2bd4e,#bcbb49,#c5b945,#ceb641,#d5b13f,#dbab3d,#dfa43b,#e29d39,#e59437,#e68b35,#e68334,#e67a32,#e67130,#e5672f,#e35e2d,#e2562b)"></i><i style="top:47px;background:linear-gradient(90deg,#4379cd,#3f5bcf,#4042c7,#4531bc,#4b26b2,#501fa9,#571ea2,#5d1d9d,#611d9a,#641d97,#661d96,#671d95,#671d95,#661d95,#651d96,#641d97,#621d99,#5f1d9c,#5c1d9f,#581ea2,#531ea6,#4f20aa,#4c24af,#4928b4,#462eba,#4335c0,#413dc5,#4046c9,#3f51cc,#3f5ccf,#4068cf,#4273cd,#457eca,#4989c4,#4d93bd,#539cb4,#59a4a9,#60aa9d,#69b091,#72b485,#7bb879,#86bb6e,#91bc64,#9cbd5b,#a7be54,#b2bd4d,#bcbb49,#c6b945,#ceb541,#d5b13f,#dbab3d,#dfa43b,#e29d39,#e59437,#e68b35,#e68334,#e67a32,#e67130,#e5672f,#e35f2d,#e2562b)"></i><i style="top:48px;background:linear-gradient(90deg,#4680c9,#4062cf,#4048c9,#4336c0,#4829b5,#4e22ac,#541ea6,#5a1ea0,#5e1d9c,#611d9a,#631d98,#641d97,#651d97,#641d97,#641d98,#621d99,#601d9b,#5d1d9d,#5a1ea0,#561ea4,#511ea8,#4e21ac,#4b25b1,#482ab6,#4530bb,#4237c1,#403fc6,#3f49ca,#3f53cd,#3f5ed0,#416ace,#4275cd,#4680c9,#498ac3,#4e94bc,#549db3,#5aa5a8,#61ab9c,#6ab090,#72b584,#7cb878,#87bb6d,#92bc63,#9dbd5a,#a8be53,#b3bd4d,#bdbb48,#c6b944,#cfb541,#d5b03f,#dbab3d,#dfa43b,#e29d39,#e59437,#e68b35,#e68234,#e67a32,#e67130,#e5682f,#e35f2d,#e2562b)"></i><i style="top:49px;background:linear-gradient(90deg,#4888c5,#416ace,#3f50cc,#413bc3,#462db9,#4c25b0,#501fa9,#571ea3,#5b1d9f,#5f1d9c,#611d9a,#621d99,#631d99,#621d99,#621d9a,#601d9b,#5e1d9d,#5b1d9f,#581ea2,#541ea6,#501faa,#4d23ae,#4a27b2,#472cb8,#4432bd,#4239c2,#4041c7,#3f4bca,#3f55ce,#3f60d0,#416cce,#4377cd,#4681c8,#4a8cc3,#4f95bb,#549eb2,#5ba6a6,#62ab9b,#6bb18f,#73b583,#7db877,#88bb6c,#93bc62,#9ebd5a,#a9be53,#b4bd4d,#bdbb48,#c7b944,#cfb541,#d5b03f,#dbaa3d,#dfa43b,#e29d39,#e59437,#e68b35,#e68234,#e67a32,#e67130,#e5682f,#e35f2d,#e2562b)"></i><i style="top:50px;background:linear-gradient(90deg,#4b8fc1,#4272ce,#3f57ce,#4040c7,#4432bd,#4928b4,#4e21ac,#531ea6,#581ea2,#5c1d9e,#5e1d9c,#601d9b,#601d9b,#601d9b,#5f1d9b,#5e1d9d,#5c1d9f,#591ea1,#561ea4,#521ea8,#4f21ab,#4c24af,#4928b4,#462eb9,#4334bf,#413bc3,#4043c8,#3f4dcb,#3f57ce,#4062cf,#416ece,#4379cd,#4783c7,#4a8ec2,#4f97ba,#559fb0,#5ca6a5,#63ac99,#6bb18d,#74b581,#7eb976,#89bb6b,#94bc61,#9fbd59,#aabd52,#b4bc4c,#bebb48,#c7b844,#cfb541,#d5b03f,#dbaa3d,#dfa43b,#e29c39,#e59437,#e68b35,#e68234,#e67a32,#e67130,#e5682f,#e35f2d,#e2572b)"></i><i style="top:51px;background:linear-gradient(90deg,#4f96bb,#437acd,#3f5ed0,#4047c9,#4236c0,#472bb7,#4c24af,#501fa9,#551ea5,#591ea1,#5c1d9f,#5d1d9d,#5e1d9d,#5e1d9d,#5d1d9d,#5c1d9f,#5a1ea1,#571ea3,#531ea6,#501fa9,#4e22ad,#4b26b1,#482ab6,#452fbb,#4336c0,#413dc4,#4046c9,#3f50cc,#3f5acf,#4065cf,#4270ce,#447bcc,#4785c7,#4b8fc1,#5098b9,#56a0af,#5ca7a3,#64ad98,#6cb28c,#75b680,#7fb975,#8abb6a,#95bc61,#9fbe59,#aabd52,#b5bc4c,#bebb48,#c8b844,#cfb541,#d6b03f,#dbaa3c,#dfa33b,#e29c39,#e59437,#e68b35,#e68234,#e67a32,#e67130,#e5682f,#e35f2d,#e2572b)"></i><i style="top:52px;background:linear-gradient(90deg,#539cb5,#4681c9,#4066cf,#3f4ecb,#413cc4,#452fbb,#4a27b3,#4e22ac,#511ea8,#561ea4,#591ea1,#5a1ea0,#5b1d9f,#5b1d9f,#5b1ea0,#591ea1,#571ea3,#541ea5,#511ea8,#4f21ab,#4c24af,#4a27b3,#472cb8,#4431bd,#4238c1,#403fc6,#4048c9,#3f52cd,#3f5ccf,#4067cf,#4272ce,#447ccb,#4886c6,#4c90c0,#5199b8,#57a1ad,#5da8a2,#65ad96,#6db28b,#76b67f,#80b974,#8bbc69,#96bd60,#a0be58,#abbd51,#b6bc4c,#bfbb47,#c8b844,#d0b441,#d6af3f,#dbaa3c,#dfa33b,#e39c39,#e59337,#e68b35,#e68234,#e67932,#e67130,#e5682f,#e35f2d,#e2572b)"></i><i style="top:53px;background:linear-gradient(90deg,#57a1ad,#4888c5,#416dce,#3f55cd,#4041c7,#4334bf,#482bb6,#4c24b0,#4f20ab,#521ea7,#551ea4,#571ea2,#591ea1,#591ea1,#581ea2,#571ea3,#551ea5,#521ea7,#5020aa,#4e22ad,#4b25b1,#4929b5,#462eb9,#4333be,#423ac3,#4041c7,#3f4aca,#3f54cd,#3f5ed0,#4169ce,#4274cd,#457eca,#4888c5,#4d92be,#529ab6,#58a2ac,#5ea9a1,#66ae95,#6eb389,#77b67e,#81ba73,#8cbc69,#97bd5f,#a1be58,#acbd51,#b6bc4b,#bfbb47,#c9b843,#d0b441,#d6af3f,#dca93c,#e0a33b,#e39c39,#e59337,#e68a35,#e68234,#e67932,#e67130,#e5682f,#e35f2d,#e2572b)"></i><i style="top:54px;background:linear-gradient(90deg,#5ca7a5,#4b8fc1,#4275cd,#3f5ccf,#4048c9,#4239c2,#462fba,#4a27b3,#4d23ae,#5020aa,#521ea7,#541ea5,#561ea4,#561ea4,#551ea4,#541ea5,#521ea7,#501fa9,#4e21ac,#4c24af,#4a27b3,#482bb7,#4530bb,#4335c0,#413cc4,#4044c8,#3f4dcb,#3f56ce,#3f61d0,#416bce,#4376cd,#4680c9,#498ac4,#4d93bd,#539bb5,#59a3aa,#5fa99f,#67ae94,#6fb388,#78b77d,#82ba72,#8dbc68,#97bd5e,#a2be57,#adbd50,#b7bc4b,#c0ba47,#c9b843,#d0b441,#d7af3e,#dca93c,#e0a23b,#e39c39,#e59337,#e68a35,#e68234,#e67932,#e67130,#e5682f,#e35f2d,#e2572b)"></i><i style="top:55px;background:linear-gradient(90deg,#61ab9c,#4f96bb,#447ccb,#4063cf,#3f4fcc,#413ec5,#4433be,#482bb7,#4b26b1,#4e22ad,#5020aa,#511ea8,#521ea7,#531ea6,#531ea7,#511ea8,#501fa9,#4f21ab,#4d23ae,#4b25b1,#4929b5,#472db8,#4432bd,#4238c1,#413ec5,#4046c9,#3f50cc,#3f59cf,#4063cf,#416ece,#4378cd,#4682c8,#4a8cc3,#4e95bc,#549db3,#59a4a9,#60aa9e,#68af92,#70b487,#79b77b,#84ba70,#8ebc67,#98bd5d,#a3be57,#aebd50,#b8bc4b,#c1ba47,#cab843,#d1b441,#d7af3e,#dca93c,#e0a23b,#e39b39,#e59337,#e68a35,#e68234,#e67932,#e67130,#e5682f,#e35f2d,#e2572b)"></i><i style="top:56px;background:linear-gradient(90deg,#67af93,#539cb5,#4783c7,#416bce,#3f55ce,#4044c8,#4237c1,#462fba,#4928b4,#4c25b0,#4e22ad,#4f20ab,#501fa9,#501fa9,#501fa9,#5020aa,#4f21ab,#4d22ad,#4c25b0,#4a27b3,#482bb6,#462fba,#4334bf,#423ac3,#4041c7,#3f49ca,#3f52cd,#3f5bcf,#4065cf,#4270ce,#437acc,#4784c7,#4a8dc2,#4f96bb,#549eb2,#5aa5a7,#61ab9c,#69b091,#71b485,#7ab77a,#85bb6f,#8fbc66,#99bd5d,#a4be56,#afbd4f,#b8bc4a,#c1ba46,#cab843,#d1b341,#d7ae3e,#dca93c,#e0a23b,#e39b39,#e59237,#e68a35,#e68134,#e67932,#e67030,#e5672f,#e35f2d,#e2572b)"></i><i style="top:57px;background:linear-gradient(90deg,#6eb28a,#57a1ad,#498bc3,#4273cd,#3f5cd0,#3f4aca,#413cc4,#4433be,#472cb8,#4a27b3,#4c24b0,#4d22ad,#4e21ac,#4f21ab,#4f21ab,#4e21ac,#4d23ae,#4c24af,#4a26b2,#4829b5,#472db8,#4431bc,#4236c0,#413cc4,#4043c8,#3f4ccb,#3f55cd,#3f5ed0,#4068cf,#4272ce,#447ccb,#4885c6,#4b8fc1,#5097b9,#559fb0,#5ba6a5,#62ab9a,#6ab08f,#72b584,#7cb879,#86bb6e,#90bc65,#9abd5c,#a5be56,#afbd4f,#b9bc4a,#c2ba46,#cbb742,#d2b340,#d8ae3e,#dca83c,#e0a23a,#e39b39,#e59237,#e68a35,#e68134,#e67932,#e67030,#e5672f,#e35f2d,#e2572b)"></i><i style="top:58px;background:linear-gradient(90deg,#74b581,#5ca7a5,#4c91bf,#437acc,#4064cf,#3f51cc,#4042c7,#4237c1,#4530bb,#482bb6,#4a27b3,#4c25b0,#4d23af,#4d23ae,#4d23ae,#4d23af,#4c25b0,#4b26b2,#4928b4,#472bb7,#452fba,#4333be,#4239c2,#413fc6,#4046c9,#3f4ecb,#3f57ce,#3f60d0,#416ace,#4274cd,#457eca,#4887c5,#4c91c0,#5199b8,#56a0ae,#5ca7a4,#63ac99,#6bb18e,#73b582,#7db877,#87bb6d,#91bc64,#9bbd5b,#a6be55,#b0bd4e,#babc4a,#c2ba46,#ccb742,#d2b340,#d8ae3e,#dda83c,#e0a13a,#e39a39,#e59237,#e68935,#e68134,#e67932,#e67030,#e4672f,#e35f2d,#e2572b)"></i><i style="top:59px;background:linear-gradient(90deg,#7cb878,#61ab9c,#5098b9,#4681c9,#416bce,#3f58ce,#4048c9,#413cc4,#4334bf,#462eba,#482ab6,#4a27b3,#4b26b1,#4b25b1,#4b25b0,#4b25b1,#4a27b2,#4928b4,#482bb6,#462eb9,#4431bd,#4336c0,#413bc3,#4041c7,#3f49ca,#3f51cc,#3f5acf,#4063cf,#416dce,#4377cd,#4680c9,#4989c4,#4d92be,#529ab6,#57a1ad,#5da8a2,#64ad97,#6cb28c,#75b681,#7eb976,#88bb6c,#92bc63,#9cbd5b,#a7be54,#b1bd4e,#bbbc49,#c3ba46,#ccb742,#d2b240,#d8ad3e,#dda73c,#e0a13a,#e39a39,#e59137,#e68935,#e68134,#e67832,#e67030,#e4672f,#e35f2d,#e2572b)"></i><i style="top:60px;background:linear-gradient(90deg,#84bb70,#67ae94,#549db2,#4888c5,#4273cd,#3f5fd0,#3f4ecb,#4041c7,#4238c2,#4432bd,#462eb9,#482ab6,#4928b4,#4927b3,#4a27b3,#4928b4,#4929b5,#482bb6,#462db9,#4530bb,#4334bf,#4238c2,#413ec5,#4044c8,#3f4ccb,#3f54cd,#3f5cd0,#4066cf,#426fce,#4379cd,#4682c8,#4a8bc3,#4e94bd,#539cb5,#58a3ab,#5ea9a0,#66ae96,#6db28b,#76b680,#7fb975,#89bb6b,#93bc62,#9dbd5a,#a8be54,#b2bd4d,#bbbb49,#c4b945,#cdb742,#d3b240,#d9ad3e,#dda73c,#e1a13a,#e39939,#e59137,#e68935,#e68034,#e67832,#e57030,#e4672f,#e35f2d,#e2572b)"></i><i style="top:61px;background:linear-gradient(90deg,#8dbc68,#6db28b,#58a3ab,#4b8fc1,#437acc,#4066cf,#3f55cd,#4047c9,#413dc5,#4336c0,#4431bc,#462eb9,#472cb7,#482ab6,#482ab6,#482ab6,#472bb7,#462db9,#4530bb,#4433be,#4236c0,#413bc3,#4040c7,#4047c9,#3f4fcc,#3f57ce,#3f5fd0,#4068cf,#4272ce,#447bcc,#4784c7,#4a8dc2,#4f95bb,#549db3,#59a4a9,#5fa99f,#67ae94,#6fb389,#77b67e,#81b973,#8bbb6a,#95bc61,#9fbd59,#a9be53,#b3bd4d,#bcbb49,#c5b945,#cdb642,#d3b240,#d9ad3d,#dda73c,#e1a03a,#e39939,#e69136,#e68835,#e68034,#e67832,#e56f30,#e4672f,#e35e2d,#e2572b)"></i><i style="top:62px;background:linear-gradient(90deg,#96bd60,#74b582,#5da8a2,#4f95bb,#4681c9,#416dce,#3f5ccf,#3f4ecb,#4042c7,#413bc3,#4335c0,#4431bc,#462fba,#462db9,#472db8,#462db9,#462eba,#4530bb,#4432bd,#4335c0,#4239c2,#413ec5,#4043c8,#3f4aca,#3f52cc,#3f5acf,#4062cf,#416bce,#4275cd,#457dcb,#4886c6,#4b8fc1,#4f97ba,#559eb1,#5aa5a7,#61aa9d,#68af92,#70b387,#78b77c,#82ba72,#8cbc69,#96bd60,#a0be59,#aabd52,#b4bd4d,#bdbb48,#c5b945,#ceb642,#d4b140,#d9ac3d,#dea63c,#e1a03a,#e49938,#e69036,#e68835,#e68034,#e67832,#e56f30,#e4662f,#e35e2d,#e2562b)"></i><i style="top:63px;background:linear-gradient(90deg,#9ebd59,#7bb879,#62ac9a,#529bb5,#4888c5,#4275cd,#4063cf,#3f54cd,#4048c9,#403fc6,#4239c2,#4335c0,#4432bd,#4531bc,#4530bb,#4530bb,#4531bc,#4433be,#4335c0,#4238c2,#413cc4,#4041c7,#4047c9,#3f4dcb,#3f55cd,#3f5cd0,#4065cf,#416ece,#4377cd,#4580c9,#4988c5,#4c91bf,#5099b8,#56a0af,#5ba6a5,#62ab9b,#69b090,#71b486,#7ab77b,#83ba71,#8dbc68,#97bd5f,#a1be58,#abbd52,#b5bc4c,#bebb48,#c6b944,#ceb541,#d4b140,#daac3d,#dea63b,#e19f3a,#e49838,#e69036,#e68735,#e67f33,#e67732,#e56f30,#e4662f,#e35e2d,#e2562b)"></i><i style="top:64px;background:linear-gradient(90deg,#a7be54,#84ba70,#69b091,#57a1ae,#4b8fc1,#447ccc,#416ace,#3f5bcf,#3f4fcc,#4045c8,#413ec5,#4239c2,#4336c0,#4334bf,#4333be,#4333be,#4334bf,#4336c0,#4238c1,#413bc3,#403fc6,#4044c8,#3f4aca,#3f51cc,#3f58ce,#3f5fd0,#4068cf,#4271ce,#437acd,#4682c8,#498ac3,#4d93be,#529ab6,#57a1ad,#5ca7a3,#63ac99,#6bb18f,#72b584,#7bb879,#85bb6f,#8ebc66,#98bd5e,#a2be57,#acbd51,#b6bc4c,#bebb48,#c7b844,#cfb541,#d5b13f,#daac3d,#dea53b,#e19f3a,#e49838,#e68f36,#e68735,#e67f33,#e67732,#e56e30,#e4662f,#e35e2d,#e2562b)"></i><i style="top:65px;background:linear-gradient(90deg,#b1bd4e,#8cbc68,#6fb388,#5ba6a6,#4e95bc,#4682c8,#4271ce,#3f61d0,#3f55cd,#3f4bca,#4043c8,#413dc5,#423ac3,#4238c1,#4237c1,#4236c1,#4237c1,#4239c2,#413bc3,#413ec5,#4042c7,#4047c9,#3f4dcb,#3f54cd,#3f5bcf,#4063cf,#416bce,#4273cd,#447ccb,#4784c7,#4a8dc2,#4e94bc,#539cb5,#58a2ab,#5ea8a1,#64ad97,#6cb18d,#74b582,#7cb878,#86bb6e,#90bc65,#99bd5c,#a3be57,#adbd50,#b7bc4b,#bfbb47,#c8b844,#cfb541,#d5b03f,#daab3d,#dea53b,#e19e3a,#e49738,#e68f36,#e68735,#e67f33,#e67732,#e56e30,#e4662e,#e35d2d,#e2562b)"></i><i style="top:66px;background:linear-gradient(90deg,#babc4a,#95bc61,#76b67f,#60aa9d,#529bb6,#4989c4,#4378cd,#4068cf,#3f5bcf,#3f51cc,#4048c9,#4042c7,#413ec5,#413cc4,#423ac3,#423ac3,#413bc3,#413cc4,#413ec5,#4041c7,#4046c9,#3f4bca,#3f51cc,#3f57ce,#3f5ed0,#4066cf,#416ece,#4376cd,#457eca,#4886c6,#4b8fc1,#4f96bb,#549db3,#59a4a9,#5fa99f,#66ae95,#6db28b,#75b681,#7eb976,#87bb6d,#91bc64,#9bbd5c,#a4be56,#afbd4f,#b8bc4b,#c0ba47,#c9b843,#d0b441,#d6b03f,#dbab3d,#dfa53b,#e29e3a,#e49638,#e68e36,#e68635,#e67e33,#e67631,#e56e30,#e4652e,#e35d2d,#e2562b)"></i><i style="top:67px;background:linear-gradient(90deg,#c1ba46,#9ebd5a,#7db877,#66ae95,#56a0af,#4b90c0,#457fca,#426fce,#4062cf,#3f57ce,#3f4ecb,#4048c9,#4043c8,#4040c6,#413ec5,#413ec5,#413ec5,#4040c6,#4042c7,#4045c8,#3f49ca,#3f4fcc,#3f54cd,#3f5acf,#3f61d0,#4169ce,#4271ce,#4379cd,#4681c9,#4989c4,#4c91bf,#5098b9,#559fb1,#5aa5a7,#60aa9d,#67af93,#6fb389,#76b67f,#7fb975,#89bb6b,#92bc63,#9cbd5b,#a6be55,#b0bd4f,#b9bc4a,#c1ba46,#cab843,#d0b441,#d6af3f,#dbaa3d,#dfa43b,#e29d3a,#e49638,#e68e36,#e68635,#e67e33,#e67631,#e56d30,#e4652e,#e35d2d,#e2552b)"></i><i style="top:68px;background:linear-gradient(90deg,#cab843,#a6be54,#86bb6e,#6cb28c,#5aa5a7,#4f96bb,#4785c6,#4376cd,#4169ce,#3f5dd0,#3f54cd,#3f4dcb,#4048c9,#4045c8,#4043c8,#4042c7,#4042c7,#4044c8,#4046c9,#3f49ca,#3f4dcb,#3f52cd,#3f58ce,#3f5ed0,#4065cf,#416cce,#4274cd,#447ccc,#4783c7,#4a8bc3,#4d93be,#519ab7,#56a0af,#5ba6a5,#61ab9b,#69af91,#70b387,#78b77d,#81b973,#8abb6a,#94bc62,#9dbd5a,#a7be54,#b1bd4e,#babc4a,#c2ba46,#cbb743,#d1b441,#d7af3e,#dbaa3c,#dfa33b,#e29d39,#e49538,#e68d36,#e68534,#e67d33,#e67531,#e56d30,#e4652e,#e35d2d,#e2552b)"></i><i style="top:69px;background:linear-gradient(90deg,#d1b441,#b0bd4f,#8ebc67,#73b584,#5fa99f,#539bb5,#4a8cc3,#447dcb,#426fce,#4064cf,#3f5acf,#3f53cd,#3f4ecb,#3f4aca,#4047c9,#4046c9,#4047c9,#4048c9,#3f4aca,#3f4dcb,#3f51cc,#3f56ce,#3f5bcf,#3f61d0,#4068cf,#426fce,#4377cd,#457eca,#4886c6,#4a8ec2,#4e95bc,#529bb5,#57a2ac,#5da7a3,#63ac99,#6ab08f,#71b485,#79b77b,#82ba72,#8cbc69,#95bd60,#9fbd59,#a8be53,#b2bd4d,#bbbc49,#c3ba46,#cbb742,#d1b340,#d7ae3e,#dca93c,#dfa33b,#e29c39,#e59537,#e68d36,#e68534,#e67d33,#e67531,#e56c30,#e4642e,#e35c2c,#e2552b)"></i><i style="top:70px;background:linear-gradient(90deg,#d7af3e,#b9bc4a,#97bd5f,#7ab77b,#65ad96,#57a1ae,#4d92be,#4783c7,#4376cd,#416ace,#3f60d0,#3f59ce,#3f53cd,#3f4fcc,#3f4ccb,#3f4bca,#3f4bca,#3f4ccb,#3f4ecb,#3f51cc,#3f55cd,#3f59cf,#3f5fd0,#4065cf,#416cce,#4272ce,#437acd,#4681c9,#4988c5,#4b90c0,#4f97ba,#549db3,#59a3aa,#5ea8a1,#64ad97,#6bb18d,#73b583,#7bb879,#84ba70,#8dbc67,#97bd5f,#a0be58,#aabd52,#b3bd4d,#bcbb49,#c4b945,#ccb742,#d2b340,#d8ae3e,#dca83c,#e0a23b,#e39c39,#e59437,#e68c36,#e68434,#e67c33,#e67431,#e56c30,#e4642e,#e35c2c,#e2542b)"></i><i style="top:71px;background:linear-gradient(90deg,#dca93c,#c0ba47,#9fbe59,#82ba72,#6bb18e,#5ba6a6,#5098b9,#498ac4,#447dcb,#4271ce,#4067cf,#3f5fd0,#3f59ce,#3f54cd,#3f52cc,#3f50cc,#3f50cc,#3f51cc,#3f53cd,#3f55ce,#3f59cf,#3f5dd0,#4062cf,#4068cf,#416fce,#4276cd,#447dcb,#4783c7,#498bc3,#4d92be,#5099b8,#559fb1,#5aa5a8,#5fa99f,#66ae95,#6db28b,#74b581,#7db877,#86bb6e,#8fbc66,#98bd5e,#a1be58,#abbd51,#b4bc4c,#bdbb48,#c5b945,#cdb642,#d3b240,#d8ae3e,#dda83c,#e0a23a,#e39b39,#e59337,#e68b35,#e68434,#e67c33,#e67431,#e56b2f,#e4632e,#e35b2c,#e2542b)"></i><i style="top:72px;background:linear-gradient(90deg,#e0a23b,#c9b843,#a8be53,#8abb6a,#71b485,#60aa9e,#549db2,#4c90c0,#4783c8,#4377cd,#416dce,#4065cf,#3f5ed0,#3f5acf,#3f57ce,#3f55cd,#3f55cd,#3f55cd,#3f57ce,#3f59cf,#3f5dd0,#3f61d0,#4066cf,#416cce,#4272ce,#4379cd,#457fca,#4886c6,#4a8dc2,#4e94bd,#529ab6,#56a0ae,#5ba6a5,#61ab9c,#67af93,#6eb389,#76b67f,#7eb976,#87bb6d,#91bc65,#9abd5c,#a3be57,#adbd51,#b6bc4c,#bebb48,#c6b944,#ceb642,#d3b240,#d9ad3e,#dda73c,#e0a13a,#e39b39,#e59337,#e68b35,#e68334,#e67b32,#e67331,#e56b2f,#e4632e,#e35b2c,#e1542b)"></i><i style="top:73px;background:linear-gradient(90deg,#e39b39,#d0b441,#b2bd4e,#92bc63,#78b77d,#65ad96,#58a3ab,#4f96bb,#4989c4,#457ecb,#4274cd,#416bce,#4064cf,#3f5fd0,#3f5ccf,#3f5acf,#3f59cf,#3f5acf,#3f5bcf,#3f5ed0,#3f61d0,#4065cf,#416ace,#4270ce,#4376cd,#447ccb,#4682c8,#4989c4,#4b90c0,#4f96bb,#539cb4,#58a2ac,#5da7a3,#62ac9a,#69b091,#70b487,#78b77d,#80b974,#89bb6b,#92bc63,#9bbd5b,#a4be56,#aebd50,#b7bc4b,#bfbb47,#c7b844,#ceb541,#d4b140,#d9ac3d,#dda73c,#e1a03a,#e39a39,#e59237,#e68a35,#e68234,#e67a32,#e67331,#e56a2f,#e4622e,#e35a2c,#e1532b)"></i><i style="top:74px;background:linear-gradient(90deg,#e59237,#d6b03f,#babc4a,#9bbd5c,#80b974,#6bb18e,#5ca7a3,#529bb5,#4b90c1,#4784c7,#437acc,#4271ce,#416ace,#4065cf,#3f61d0,#3f5fd0,#3f5ed0,#3f5ed0,#3f60d0,#4062cf,#4065cf,#4169ce,#416ece,#4273cd,#4379cd,#457fca,#4785c6,#4a8cc3,#4d92be,#5098b9,#559eb1,#59a4a9,#5ea9a1,#64ad98,#6bb18e,#72b485,#79b77b,#82ba72,#8bbb6a,#94bc62,#9dbd5a,#a6be55,#afbd4f,#b8bc4a,#c0ba47,#c8b844,#cfb541,#d5b13f,#daac3d,#dea63b,#e1a03a,#e39939,#e59137,#e68935,#e68234,#e67a32,#e67231,#e56a2f,#e4622e,#e25a2c,#e1532a)"></i><i style="top:75px;background:linear-gradient(90deg,#e68835,#dbaa3d,#c2ba46,#a3be56,#88bb6c,#71b485,#61ab9b,#56a1ae,#4e95bc,#498ac4,#4580c9,#4378cd,#4270ce,#416bce,#4067cf,#4064cf,#4063cf,#4063cf,#4064cf,#4067cf,#416ace,#416dce,#4272ce,#4377cd,#447ccb,#4682c8,#4888c5,#4b8fc1,#4e94bc,#529ab6,#56a0af,#5ba5a7,#60aa9e,#66ae95,#6cb28c,#73b583,#7bb879,#84ba70,#8dbc68,#95bd60,#9ebd59,#a7be54,#b1bd4e,#b9bc4a,#c1ba46,#c9b843,#d0b441,#d5b03f,#daab3d,#dea53b,#e19f3a,#e49838,#e69136,#e68935,#e68134,#e67932,#e67131,#e5692f,#e4612e,#e2592c,#e1522a)"></i><i style="top:76px;background:linear-gradient(90deg,#e67f33,#dfa43b,#cab843,#adbd51,#90bc65,#78b77d,#67af93,#5ba5a7,#529ab6,#4c90c0,#4886c6,#457dcb,#4376cd,#4271ce,#416dce,#416ace,#4068cf,#4068cf,#4169ce,#416bce,#416ece,#4271ce,#4376cd,#447bcc,#4580c9,#4785c6,#4a8bc3,#4c91bf,#4f97ba,#539cb4,#57a2ac,#5ca7a4,#61ab9c,#67af93,#6eb38a,#75b680,#7db877,#86bb6e,#8ebc67,#97bd5f,#a0be58,#a9be53,#b2bd4d,#bbbc49,#c2ba46,#cab743,#d1b441,#d6af3f,#dbab3d,#dfa53b,#e19e3a,#e49738,#e69036,#e68835,#e68034,#e67832,#e67130,#e5682f,#e4612d,#e2592c,#e1522a)"></i><i style="top:77px;background:linear-gradient(90deg,#e67531,#e29c39,#d1b441,#b5bc4c,#98bd5d,#80b974,#6db28b,#5fa99f,#56a0b0,#4f95bb,#4a8cc3,#4783c8,#447ccb,#4377cd,#4272ce,#416fce,#416ece,#416dce,#416ece,#4270ce,#4272ce,#4276cd,#437acd,#457eca,#4783c8,#4888c5,#4b8ec2,#4d93bd,#5199b8,#559eb1,#59a3aa,#5ea8a2,#63ac99,#69b090,#70b387,#77b67e,#7fb975,#87bb6d,#90bc65,#99bd5d,#a1be58,#abbd52,#b4bd4d,#bcbb49,#c3ba45,#ccb742,#d1b340,#d7af3e,#dbaa3c,#dfa43b,#e29e3a,#e49738,#e68f36,#e68735,#e67f33,#e67832,#e67030,#e5682f,#e3602d,#e2582c,#e1512a)"></i><i style="top:78px;background:linear-gradient(90deg,#e56a2f,#e59437,#d7af3e,#bdbb48,#a1be58,#88bb6c,#73b583,#64ad97,#5aa4a8,#529bb6,#4c91bf,#4989c4,#4682c8,#447ccb,#4378cd,#4275cd,#4273cd,#4272ce,#4273cd,#4274cd,#4377cd,#437acd,#457dcb,#4681c8,#4886c6,#4a8bc3,#4c91bf,#4f96bb,#529bb5,#56a0af,#5aa5a7,#5fa99f,#65ad97,#6bb18e,#72b485,#79b77c,#81b973,#89bb6b,#92bc63,#9bbd5c,#a3be57,#acbd51,#b5bc4c,#bdbb48,#c5b945,#cdb742,#d2b340,#d7ae3e,#dca93c,#dfa33b,#e29d39,#e49638,#e68e36,#e68635,#e67f33,#e67732,#e56f30,#e4672f,#e35f2d,#e2582c,#e1512a)"></i><i style="top:79px;background:linear-gradient(90deg,#e35f2d,#e68a35,#dca93c,#c5b945,#aabd52,#90bc65,#7ab77a,#6ab08f,#5ea8a1,#56a0b0,#4f97ba,#4b8fc1,#4887c5,#4681c8,#447dcb,#437acc,#4378cd,#4377cd,#4377cd,#4379cd,#447bcc,#457dcb,#4681c9,#4785c7,#4989c4,#4b8fc1,#4d93bd,#5098b9,#549db2,#58a2ac,#5ca7a4,#61ab9c,#67ae94,#6db28b,#73b583,#7bb87a,#83ba71,#8bbc69,#94bc62,#9cbd5b,#a5be55,#aebd50,#b7bc4b,#bebb48,#c6b944,#cdb642,#d3b240,#d8ae3e,#dca83c,#e0a23b,#e29c39,#e59537,#e68d36,#e68535,#e67e33,#e67631,#e56e30,#e4662f,#e35f2d,#e2572b,#e1502a)"></i><i style="top:80px;background:linear-gradient(90deg,#e2552b,#e68134,#e0a33b,#cdb642,#b3bd4d,#98bd5e,#82ba72,#70b387,#63ac99,#5aa4a9,#539cb4,#4e94bd,#4a8dc2,#4887c6,#4682c8,#457fca,#447dcb,#447ccb,#447ccb,#447dcb,#457fca,#4681c9,#4784c7,#4988c5,#4a8dc2,#4c91bf,#4f96bb,#529bb6,#569fb0,#59a4a9,#5ea8a1,#63ac99,#69b091,#6fb389,#75b680,#7db877,#85bb6f,#8dbc67,#96bd60,#9ebd5a,#a7be54,#b0bd4f,#b8bc4a,#c0bb47,#c7b844,#ceb541,#d4b140,#d9ad3d,#dda73c,#e0a23a,#e39b39,#e59437,#e68c36,#e68534,#e67d33,#e67631,#e56d30,#e4662e,#e35e2d,#e2562b,#e1502a)"></i><i style="top:81px;background:linear-gradient(90deg,#e04b29,#e67732,#e39c39,#d3b240,#bbbc49,#a0be58,#89bb6b,#76b67f,#68af92,#5ea8a1,#56a0ae,#5199b8,#4d92be,#4a8cc3,#4887c5,#4784c7,#4681c8,#4680c9,#4680c9,#4681c9,#4683c8,#4785c6,#4888c5,#4a8cc3,#4c90c0,#4e94bc,#5099b8,#549db3,#57a2ad,#5ba6a6,#60aa9e,#65ad97,#6bb18f,#71b486,#77b67e,#7fb975,#87bb6d,#8fbc66,#98bd5e,#a0be58,#a9be53,#b1bd4e,#babc4a,#c1ba46,#c9b843,#cfb541,#d5b13f,#daac3d,#dda73c,#e0a13a,#e39b39,#e59337,#e68b35,#e68434,#e67c33,#e67531,#e56d30,#e4652e,#e35d2d,#e2562b,#e14f2a)"></i><i style="top:82px;background:linear-gradient(90deg,#df4328,#e56c30,#e59337,#d9ad3e,#c2ba46,#a9be53,#91bc64,#7db877,#6eb38a,#62ac9a,#5aa5a7,#549eb2,#4f97ba,#4c91bf,#4a8dc2,#4989c4,#4886c6,#4785c6,#4785c7,#4785c6,#4887c6,#4989c4,#4a8cc3,#4b8fc1,#4d93bd,#4f97ba,#529bb5,#569fb0,#59a4a9,#5da8a3,#62ab9b,#67ae94,#6db28c,#73b584,#7ab77b,#81ba73,#89bb6b,#91bc64,#99bd5c,#a2be57,#abbd52,#b3bd4d,#bbbc49,#c2ba46,#cab843,#d0b441,#d5b03f,#daab3d,#dea63b,#e1a03a,#e39939,#e59237,#e68a35,#e68334,#e67b33,#e67431,#e56c30,#e4642e,#e35c2d,#e2552b,#e14f2a)"></i><i style="top:83px;background:linear-gradient(90deg,#de3b26,#e4612e,#e68935,#dda73c,#cbb743,#b2bd4e,#99bd5d,#85bb6f,#74b582,#68af92,#5ea9a0,#58a2ac,#539cb4,#4f96bb,#4c92bf,#4b8ec2,#4a8bc3,#498ac4,#4989c4,#498ac4,#498bc3,#4a8dc2,#4b90c0,#4d93be,#4f96bb,#519ab7,#549eb2,#57a2ad,#5ba6a6,#5fa99f,#63ac98,#69b091,#6fb389,#75b681,#7cb878,#83ba71,#8bbc69,#93bc62,#9bbd5b,#a4be56,#acbd51,#b5bc4c,#bcbb48,#c4b945,#ccb742,#d1b341,#d6af3f,#dbab3d,#dea53b,#e19f3a,#e49838,#e69136,#e68935,#e68234,#e67a32,#e67331,#e56b2f,#e4632e,#e35b2c,#e2542b,#e14e29)"></i><i style="top:84px;background:linear-gradient(90deg,#dd3525,#e2572b,#e68033,#e1a03a,#d1b441,#babc4a,#a2be57,#8dbc68,#7bb87a,#6db28b,#63ac99,#5ba6a5,#56a0af,#529bb6,#4f96bb,#4d93be,#4c90c0,#4b8fc1,#4b8ec2,#4b8ec2,#4b8fc1,#4c91bf,#4d93be,#4f96bb,#5199b8,#539cb4,#56a0af,#59a4a9,#5da7a3,#61aa9c,#66ae95,#6bb18e,#71b486,#77b67e,#7eb976,#86bb6e,#8dbc67,#95bd60,#9dbd5a,#a6be55,#aebd4f,#b6bc4b,#bebb48,#c5b945,#cdb742,#d2b340,#d7af3e,#dbaa3c,#dfa43b,#e29e3a,#e49738,#e69036,#e68835,#e68134,#e67932,#e67231,#e56a2f,#e4622e,#e35b2c,#e1542b,#e14d29)"></i><i style="top:85px;background:linear-gradient(90deg,#dc2f24,#e14d29,#e67631,#e49938,#d7af3e,#c1ba46,#aabd52,#94bc61,#82ba72,#73b583,#68af92,#60aa9e,#5aa4a8,#559fb0,#529bb6,#5097ba,#4e94bc,#4d93be,#4d92be,#4d92be,#4d93be,#4e94bc,#4f96bb,#5199b8,#539cb4,#559fb0,#58a2ab,#5ba6a6,#5fa9a0,#63ac99,#68af92,#6db28b,#73b583,#79b77b,#80b974,#88bb6c,#90bc65,#98bd5e,#9fbe59,#a8be54,#b0bd4e,#b8bc4a,#bfbb47,#c7b944,#ceb642,#d3b240,#d8ae3e,#dca93c,#dfa33b,#e29d39,#e49638,#e68f36,#e68735,#e68034,#e67832,#e67130,#e5692f,#e4612e,#e25a2c,#e1532a,#e04d29)"></i><i style="top:86px;background:linear-gradient(90deg,#dc2a23,#e04528,#e56b2f,#e68f36,#dca93c,#cab843,#b3bd4d,#9cbd5b,#89bb6b,#79b77b,#6eb28a,#64ad97,#5ea8a1,#59a3aa,#559fb0,#529bb5,#5099b8,#4f97ba,#4f96bb,#4f96bb,#4f96ba,#5098b9,#5199b7,#539cb4,#559eb1,#57a1ad,#5aa5a8,#5da8a2,#61aa9c,#65ad96,#6ab18f,#6fb388,#75b680,#7cb879,#83ba71,#8abb6a,#92bc63,#9abd5c,#a1be58,#aabd52,#b2bd4d,#babc4a,#c1ba47,#c8b843,#cfb541,#d4b140,#d9ad3d,#dda83c,#e0a23b,#e29c39,#e59537,#e68e36,#e68635,#e67f33,#e67732,#e57030,#e5682f,#e4602d,#e2592c,#e1522a,#e04c29)"></i><i style="top:87px;background:linear-gradient(90deg,#db2623,#de3d26,#e4612d,#e68635,#dfa33b,#d0b441,#bbbc49,#a4be56,#91bc64,#80b974,#73b583,#6ab090,#62ab9b,#5ca7a3,#59a3aa,#569fb0,#539db3,#529bb6,#519ab7,#5199b7,#519ab7,#529bb5,#539cb3,#559fb1,#57a1ad,#59a4a9,#5ca7a4,#5fa99f,#63ac99,#68af93,#6db28c,#72b485,#78b77d,#7eb976,#85bb6f,#8dbc68,#94bc61,#9cbd5b,#a4be56,#acbd51,#b4bc4c,#bbbb49,#c2ba46,#cab843,#d0b441,#d5b03f,#daac3d,#dda73c,#e0a13a,#e39b39,#e59437,#e68c36,#e68534,#e67e33,#e67632,#e56f30,#e4672f,#e35f2d,#e2582c,#e1512a,#e04b29)"></i><i style="top:88px;background:linear-gradient(90deg,#db2322,#dd3625,#e2562b,#e67c33,#e39c39,#d6b03f,#c2ba46,#adbd50,#99bd5d,#88bb6c,#7ab77b,#6fb388,#67ae94,#61aa9d,#5ca7a4,#59a3aa,#57a1ae,#559fb1,#549db2,#549db3,#549db3,#559eb1,#56a0af,#57a1ad,#59a4a9,#5ba6a5,#5ea9a0,#62ab9b,#66ae95,#6ab08f,#6fb389,#74b582,#7ab77a,#81b973,#88bb6c,#8fbc66,#97bd5f,#9ebd5a,#a6be55,#aebd4f,#b6bc4c,#bdbb48,#c4b945,#ccb742,#d1b441,#d6b03f,#dbab3d,#dea63b,#e1a03a,#e39a39,#e59337,#e68b35,#e68434,#e67c33,#e67531,#e56d30,#e4662e,#e35e2d,#e2572b,#e1502a,#e04b29)"></i><i style="top:89px;background:linear-gradient(90deg,#db2222,#dc3024,#e04d29,#e67331,#e59337,#dbab3d,#cab843,#b5bc4c,#a1be58,#8fbc66,#80b974,#75b681,#6cb18d,#65ad96,#60aa9e,#5ca7a4,#5aa4a8,#58a2ac,#57a1ad,#56a0ae,#56a1ae,#57a1ad,#58a2ab,#5aa4a9,#5ba6a5,#5ea8a1,#61aa9d,#64ad97,#68af92,#6db28c,#71b485,#77b67e,#7db877,#83ba71,#8abb6a,#92bc64,#99bd5d,#a0be58,#a8be53,#b0bd4e,#b8bc4b,#bfbb47,#c6b944,#cdb642,#d2b340,#d7af3e,#dbaa3d,#dfa53b,#e19f3a,#e49938,#e59137,#e68a35,#e68334,#e67b33,#e67431,#e56c30,#e4652e,#e35d2d,#e2562b,#e1502a,#e04a29)"></i><i style="top:90px;background:linear-gradient(90deg,#db2122,#dc2b23,#df4428,#e5682f,#e68a35,#dfa43b,#d0b441,#bdbb48,#a9be53,#97bd5f,#88bb6d,#7bb87a,#71b486,#6ab08f,#64ad97,#60aa9e,#5da8a3,#5ba6a6,#5aa4a8,#59a4a9,#59a4a9,#5aa4a8,#5ba5a7,#5ca7a4,#5ea8a1,#60aa9d,#63ac99,#67ae94,#6bb18e,#6fb388,#74b582,#79b77b,#7fb975,#86bb6e,#8dbc68,#94bc61,#9bbd5b,#a3be57,#abbd52,#b2bd4d,#babc4a,#c0ba47,#c8b844,#ceb641,#d3b240,#d8ae3e,#dca93c,#dfa43b,#e29e3a,#e49738,#e69036,#e68935,#e68234,#e67a32,#e67331,#e56b2f,#e4632e,#e35c2c,#e2552b,#e14f2a,#e04929)"></i><i style="top:91px;background:linear-gradient(90deg,#db2222,#db2723,#de3d26,#e35d2d,#e68134,#e29d3a,#d6b03f,#c4b945,#b1bd4e,#9ebd59,#8fbc66,#82ba72,#77b67e,#6fb389,#69b091,#64ad98,#61aa9d,#5ea9a0,#5da8a3,#5ca7a4,#5ca7a4,#5ca7a4,#5da8a2,#5fa9a0,#61aa9d,#63ac99,#66ae95,#6ab090,#6db28b,#72b485,#77b67f,#7cb878,#82ba72,#89bb6b,#90bc65,#97bd5f,#9ebd5a,#a5be55,#adbd50,#b4bc4c,#bbbb49,#c2ba46,#c9b843,#cfb541,#d4b140,#d9ad3d,#dda83c,#e0a23b,#e29d39,#e49638,#e68f36,#e68735,#e68034,#e67932,#e67231,#e56a2f,#e4622e,#e35b2c,#e2542b,#e14e29,#e04828)"></i><i style="top:92px;background:linear-gradient(90deg,#db2422,#db2422,#dd3625,#e1532a,#e67732,#e49538,#dbaa3d,#ccb742,#b9bc4a,#a6be55,#96bd5f,#89bb6c,#7db877,#74b582,#6eb28a,#69b091,#65ad97,#62ab9b,#60aa9d,#5fa99f,#5fa99f,#5fa99f,#60aa9e,#61ab9b,#63ac99,#66ae95,#69b091,#6cb28c,#70b487,#74b581,#79b77b,#7fb975,#85bb6f,#8cbc69,#92bc63,#99bd5d,#a0be58,#a7be54,#afbd4f,#b7bc4b,#bdbb48,#c4b945,#cbb742,#d0b441,#d5b03f,#daac3d,#dda73c,#e0a13a,#e39c39,#e59537,#e68d36,#e68635,#e67f33,#e67832,#e67030,#e5692f,#e4612e,#e25a2c,#e1532a,#e14d29,#e04728)"></i><i style="top:93px;background:linear-gradient(90deg,#db2723,#db2222,#dc3024,#e04a29,#e56d30,#e68c36,#dfa43b,#d2b340,#c0ba47,#afbd4f,#9ebd5a,#90bc65,#84ba70,#7ab77a,#73b584,#6db28b,#69b091,#66ae95,#64ad98,#63ac9a,#62ab9a,#62ac9a,#63ac99,#65ad97,#67ae94,#69b091,#6cb18d,#6fb388,#73b583,#77b67e,#7cb878,#82ba72,#88bb6c,#8ebc66,#95bc61,#9cbd5b,#a3be57,#aabd52,#b2bd4e,#b9bc4a,#bfbb47,#c6b944,#cdb742,#d2b340,#d6af3f,#dbab3d,#dea63b,#e1a03a,#e39a39,#e59337,#e68c36,#e68534,#e67e33,#e67732,#e56f30,#e4672f,#e3602d,#e2592c,#e1522a,#e04c29,#e04728)"></i><i style="top:94px;background:linear-gradient(90deg,#dc2b23,#db2122,#dc2b23,#df4227,#e4632e,#e68334,#e29e3a,#d7af3e,#c8b844,#b6bc4b,#a5be55,#97bd5f,#8bbb6a,#80b974,#78b77d,#72b584,#6eb28a,#6ab18f,#68af92,#67ae94,#66ae95,#66ae95,#67ae94,#68af92,#6ab090,#6cb28d,#6fb389,#72b584,#76b67f,#7ab77a,#7fb975,#85bb6f,#8bbc69,#91bc64,#98bd5e,#9ebd59,#a5be55,#adbd50,#b4bd4d,#bbbc49,#c1ba46,#c8b844,#ceb641,#d3b240,#d7ae3e,#dcaa3c,#dfa43b,#e19f3a,#e49938,#e59237,#e68a35,#e68334,#e67c33,#e67531,#e56d30,#e4662f,#e35f2d,#e2572b,#e1512a,#e04b29,#e04628)"></i><i style="top:95px;background:linear-gradient(90deg,#dc3124,#db2122,#db2723,#de3b26,#e2582c,#e67a32,#e49538,#dca93c,#ceb541,#bebb48,#adbd50,#9ebd5a,#92bc64,#87bb6d,#7eb976,#77b67e,#72b584,#6fb389,#6cb28c,#6bb18f,#6ab090,#6ab090,#6ab08f,#6bb18e,#6db28b,#6fb388,#72b485,#75b680,#79b77c,#7eb876,#83ba71,#88bb6c,#8ebc67,#94bc61,#9abd5c,#a1be58,#a8be54,#afbd4f,#b6bc4b,#bdbb48,#c3ba46,#cab843,#cfb541,#d4b140,#d9ad3e,#dca83c,#dfa33b,#e29e3a,#e49738,#e69036,#e68935,#e68234,#e67b32,#e67431,#e56c30,#e4652e,#e35d2d,#e2562b,#e1502a,#e04a29,#e04528)"></i><i style="top:96px;background:linear-gradient(90deg,#dd3725,#db2322,#db2422,#dd3425,#e14f2a,#e67030,#e68d36,#dfa33b,#d4b140,#c5b945,#b5bc4c,#a6be55,#99bd5d,#8ebc67,#85bb6f,#7db877,#77b67e,#73b583,#71b486,#6fb389,#6eb28a,#6db28b,#6eb28a,#6fb389,#70b487,#72b584,#75b680,#79b77c,#7cb878,#81b973,#86bb6e,#8bbc69,#91bc64,#97bd5f,#9dbd5a,#a4be56,#abbd52,#b2bd4e,#b8bc4a,#bfbb48,#c5b945,#ccb742,#d1b441,#d5b03f,#daac3d,#dda73c,#e0a23b,#e29c39,#e49638,#e68f36,#e68735,#e68034,#e67932,#e67231,#e56b2f,#e4632e,#e35c2c,#e2552b,#e14f2a,#e04929,#df4428)"></i><i style="top:97px;background:linear-gradient(90deg,#df3f27,#db2623,#db2222,#dc2f24,#e04628,#e4652e,#e68434,#e29c39,#d9ad3d,#ccb742,#bcbb49,#aebd50,#a0be59,#94bc61,#8bbc69,#83ba71,#7db877,#78b77c,#75b680,#73b583,#72b485,#71b486,#71b485,#72b584,#74b582,#76b67f,#79b77c,#7cb878,#80b974,#84bb70,#89bb6b,#8fbc66,#94bc61,#9abd5c,#a0be58,#a6be54,#aebd50,#b4bc4c,#bbbc49,#c1ba47,#c7b844,#cdb642,#d2b340,#d6af3f,#dbab3d,#dea63b,#e1a03a,#e39b39,#e59437,#e68d36,#e68635,#e67f33,#e67832,#e67130,#e5692f,#e4622e,#e35b2c,#e1542b,#e14e29,#e04828,#df4328)"></i><i style="top:98px;background:linear-gradient(90deg,#e04828,#dc2a23,#db2122,#dc2a23,#df3e27,#e35b2c,#e67a32,#e59437,#dda73c,#d2b340,#c3ba46,#b5bc4c,#a7be54,#9bbd5b,#92bc64,#89bb6b,#83ba71,#7eb976,#7ab77a,#78b77d,#76b67f,#75b680,#75b680,#76b67f,#78b77d,#7ab77b,#7cb878,#80b974,#84ba70,#88bb6c,#8dbc68,#92bc63,#97bd5f,#9dbd5a,#a3be57,#a9be53,#b0bd4e,#b7bc4b,#bdbb48,#c3ba46,#c9b843,#cfb541,#d3b240,#d8ae3e,#dca93c,#dfa43b,#e19f3a,#e39939,#e59237,#e68b35,#e68434,#e67d33,#e67632,#e56f30,#e5682f,#e4602d,#e2592c,#e1522a,#e04d29,#e04728,#df4227)"></i><i style="top:99px;background:linear-gradient(90deg,#e1532a,#dc2f24,#db2122,#db2623,#de3826,#e1512a,#e67130,#e68b35,#e0a13a,#d7af3e,#cbb743,#bcbb49,#afbd4f,#a2be57,#98bd5e,#90bc65,#89bb6b,#84ba70,#7fb975,#7cb878,#7bb87a,#7ab77b,#7ab77b,#7ab77a,#7bb879,#7eb876,#80b974,#83ba71,#87bb6d,#8bbc69,#90bc65,#95bd60,#9abd5c,#a0be58,#a6be55,#adbd51,#b3bd4d,#b9bc4a,#bfbb47,#c5b945,#cbb742,#d0b441,#d5b13f,#d9ad3d,#dca83c,#dfa33b,#e29e3a,#e49738,#e69136,#e68a35,#e68334,#e67c33,#e67531,#e56d30,#e4662f,#e35f2d,#e2582b,#e1512a,#e04b29,#e04628,#df4127)"></i><i style="top:100px;background:linear-gradient(90deg,#e35f2d,#dd3625,#db2322,#db2322,#dc3224,#e04929,#e4662f,#e68334,#e39a39,#dbaa3c,#d0b441,#c3ba46,#b6bc4c,#aabd52,#9fbd59,#96bd5f,#8fbc66,#89bb6b,#85bb6f,#82ba72,#80b974,#7eb976,#7eb976,#7fb975,#80b974,#82ba72,#84ba70,#87bb6d,#8bbb6a,#8fbc66,#94bc62,#98bd5d,#9ebd5a,#a3be57,#a9be53,#b0bd4f,#b6bc4c,#bbbb49,#c1ba46,#c7b844,#cdb642,#d2b340,#d6af3f,#daac3d,#dda73c,#e0a23a,#e29c39,#e49638,#e68f36,#e68835,#e68134,#e67a32,#e67331,#e56c30,#e4642e,#e35d2d,#e2562b,#e1502a,#e04a29,#e04528,#df4027)"></i><i style="top:101px;background:linear-gradient(90deg,#e56c30,#df3d27,#db2623,#db2222,#dc2c24,#df4127,#e35c2d,#e67932,#e59237,#dfa43b,#d5b03f,#cab843,#bdbb48,#b1bd4e,#a6be55,#9dbd5a,#95bd60,#8fbc66,#8bbb6a,#87bb6d,#85bb6f,#83ba71,#83ba71,#83ba71,#84ba70,#86bb6e,#88bb6c,#8bbc69,#8fbc66,#93bc63,#97bd5f,#9cbd5b,#a1be58,#a6be55,#acbd51,#b2bd4d,#b8bc4a,#bebb48,#c3ba45,#cab843,#cfb541,#d3b240,#d7ae3e,#dbaa3d,#dea53b,#e1a03a,#e39b39,#e59437,#e68d36,#e68635,#e67f33,#e67932,#e67231,#e56a2f,#e4632e,#e35c2c,#e2552b,#e14f2a,#e04929,#df4428,#df3f27)"></i><i style="top:102px;background:linear-gradient(90deg,#e67832,#e04628,#dc2a23,#db2122,#db2823,#de3a26,#e1522a,#e67030,#e68935,#e29d3a,#daac3d,#d0b441,#c3ba45,#b8bc4b,#adbd50,#a3be56,#9cbd5b,#95bd60,#90bc65,#8dbc68,#8abb6a,#88bb6c,#88bb6c,#88bb6c,#89bb6c,#8abb6a,#8cbc68,#8fbc66,#93bc63,#96bd5f,#9bbd5c,#9fbe59,#a4be56,#aabd52,#b0bd4f,#b5bc4c,#bbbc49,#c0ba47,#c6b944,#ccb742,#d0b441,#d5b13f,#d9ad3d,#dca93c,#dfa43b,#e19e3a,#e49938,#e59237,#e68b35,#e68534,#e67e33,#e67732,#e57030,#e5682f,#e4612e,#e25a2c,#e1532b,#e14d29,#e04828,#df4327,#df3e27)"></i><i style="top:103px;background:linear-gradient(90deg,#e68434,#e1502a,#dc2f24,#db2222,#db2523,#dd3425,#e04a29,#e4662e,#e68034,#e49638,#dea63b,#d5b13f,#cab743,#bebb48,#b4bc4c,#aabd52,#a2be57,#9bbd5b,#96bd5f,#92bc63,#8fbc66,#8ebc67,#8dbc68,#8dbc68,#8dbc67,#8fbc66,#91bc64,#93bc62,#96bd5f,#9abd5c,#9ebd5a,#a2be57,#a8be54,#adbd50,#b3bd4d,#b8bc4a,#bdbb48,#c3ba46,#c8b843,#ceb642,#d2b340,#d6af3f,#daac3d,#dda73c,#e0a23b,#e29d39,#e49738,#e69036,#e68935,#e68334,#e67c33,#e67531,#e56e30,#e4662f,#e35f2d,#e2582c,#e1522a,#e04c29,#e04728,#df4227,#de3d26)"></i><i style="top:104px;background:linear-gradient(90deg,#e69036,#e35c2c,#dd3525,#db2322,#db2222,#dc2e24,#df4227,#e35c2c,#e67732,#e68e36,#e1a03a,#daac3d,#d0b441,#c5b945,#bbbc49,#b1bd4e,#a9be53,#a1be58,#9cbd5b,#98bd5e,#95bc61,#93bc63,#92bc64,#91bc64,#92bc63,#93bc62,#95bc61,#97bd5e,#9abd5c,#9ebd5a,#a2be57,#a6be55,#abbd51,#b0bd4e,#b6bc4c,#bbbc49,#c0ba47,#c5b945,#cbb742,#cfb541,#d3b240,#d8ae3e,#dbaa3d,#dea53b,#e1a03a,#e39b39,#e59537,#e68e36,#e68835,#e68134,#e67a32,#e67331,#e56c30,#e4652e,#e35e2d,#e2572b,#e1502a,#e04b29,#e04528,#df4127,#de3c26)"></i><i style="top:105px;background:linear-gradient(90deg,#e39c39,#e5682f,#de3d26,#db2723,#db2122,#dc2923,#de3b26,#e1522a,#e56d30,#e68534,#e49938,#dda73c,#d5b13f,#ccb742,#c1ba47,#b8bc4b,#b0bd4f,#a8be53,#a2be57,#9ebd5a,#9abd5c,#98bd5e,#97bd5f,#96bd5f,#96bd5f,#98bd5e,#99bd5d,#9bbd5b,#9ebd59,#a2be57,#a5be55,#aabd52,#afbd4f,#b4bd4d,#b9bc4a,#bdbb48,#c2ba46,#c8b844,#cdb642,#d1b341,#d5b03f,#d9ad3d,#dca83c,#dfa43b,#e19f3a,#e39939,#e59337,#e68c36,#e68635,#e67f33,#e67832,#e67131,#e56a2f,#e4632e,#e35c2c,#e2552b,#e14f2a,#e04929,#df4428,#df3f27,#de3b26)"></i><i style="top:106px;background:linear-gradient(90deg,#dea53b,#e67531,#e04628,#dc2b23,#db2122,#db2623,#dd3525,#e04a29,#e4632e,#e67c33,#e69136,#e0a13a,#daac3d,#d1b441,#c7b844,#bebb48,#b6bc4c,#afbd4f,#a8be53,#a3be56,#a0be59,#9dbd5a,#9cbd5b,#9bbd5b,#9bbd5b,#9cbd5b,#9dbd5a,#a0be59,#a2be57,#a6be55,#a9be53,#aebd50,#b2bd4d,#b7bc4b,#bbbb49,#c0ba47,#c5b945,#cbb743,#cfb541,#d3b240,#d7af3e,#daab3d,#dda73c,#e0a23b,#e29d39,#e49738,#e69136,#e68a35,#e68434,#e67d33,#e67632,#e56f30,#e5682f,#e4612e,#e25a2c,#e1532b,#e14d29,#e04828,#df4328,#df3e27,#de3a26)"></i><i style="top:107px;background:linear-gradient(90deg,#d8ad3e,#e68134,#e1502a,#dc3024,#db2222,#db2322,#dc2f24,#df4227,#e25a2c,#e67331,#e68835,#e39b39,#dda73c,#d5b03f,#cdb642,#c4b945,#bcbb49,#b5bc4c,#afbd4f,#aabd52,#a5be55,#a3be57,#a1be58,#a0be58,#a0be58,#a1be58,#a2be57,#a4be56,#a6be54,#aabd52,#aebd50,#b1bd4e,#b6bc4c,#babc4a,#bebb48,#c3ba46,#c8b844,#cdb642,#d1b441,#d5b13f,#d8ad3e,#dca93c,#dea53b,#e1a03a,#e39b39,#e49538,#e68f36,#e68835,#e68234,#e67b32,#e67531,#e56d30,#e4662f,#e35f2d,#e2582c,#e1522a,#e04c29,#e04728,#df4227,#df3d27,#de3926)"></i><i style="top:108px;background:linear-gradient(90deg,#d0b441,#e68d36,#e35b2c,#dd3725,#db2523,#db2222,#dc2a23,#de3b26,#e1502a,#e5692f,#e68034,#e59337,#e0a13a,#daac3d,#d2b340,#cbb743,#c2ba46,#bbbc49,#b5bc4c,#b0bd4f,#acbd51,#a8be53,#a6be55,#a5be55,#a5be56,#a5be55,#a6be54,#a8be53,#abbd52,#aebd50,#b1bd4e,#b5bc4c,#b9bc4a,#bdbb48,#c1ba46,#c6b944,#cbb742,#cfb541,#d3b240,#d6af3f,#daac3d,#dda83c,#dfa33b,#e29e3a,#e39939,#e59337,#e68d36,#e68635,#e68033,#e67932,#e67231,#e56b2f,#e4642e,#e35d2d,#e2562b,#e1502a,#e04b29,#e04528,#df4027,#de3c26,#de3826)"></i><i style="top:109px;background:linear-gradient(90deg,#c7b944,#e39939,#e5682f,#df3e27,#dc2823,#db2122,#db2623,#dd3525,#e04828,#e3602d,#e67732,#e68b35,#e39b39,#dea63c,#d7af3e,#d0b441,#c8b844,#c1ba47,#bbbc49,#b6bc4c,#b1bd4e,#aebd4f,#acbd51,#aabd52,#aabd52,#aabd52,#abbd51,#adbd50,#afbd4f,#b2bd4d,#b5bc4c,#b9bc4a,#bcbb49,#c0ba47,#c4b945,#c9b843,#cdb642,#d1b441,#d4b13f,#d8ae3e,#dbaa3d,#dea63b,#e0a13a,#e29d39,#e49738,#e69136,#e68a35,#e68434,#e67d33,#e67732,#e67030,#e5692f,#e4622e,#e35b2c,#e2542b,#e14e2a,#e04929,#df4428,#df3f27,#de3b26,#dd3725)"></i><i style="top:110px;background:linear-gradient(90deg,#bbbb49,#e0a33b,#e67531,#e04728,#dc2d24,#db2222,#db2422,#dc2f24,#df4127,#e2562b,#e56e30,#e68234,#e59337,#e0a13a,#dbaa3d,#d4b140,#ceb641,#c7b944,#c0ba47,#bbbc49,#b7bc4b,#b4bd4d,#b1bd4e,#b0bd4f,#afbd4f,#afbd4f,#b0bd4e,#b2bd4e,#b3bd4d,#b6bc4c,#b9bc4a,#bcbb49,#bfbb47,#c3ba46,#c7b844,#ccb742,#cfb541,#d3b240,#d6af3f,#daac3d,#dca83c,#dfa43b,#e19f3a,#e39b39,#e59437,#e68e36,#e68835,#e68234,#e67b33,#e67531,#e56e30,#e4672f,#e3602d,#e2592c,#e1532a,#e14d29,#e04828,#df4327,#df3e27,#de3a26,#dd3625)"></i><i style="top:111px;background:linear-gradient(90deg,#afbd4f,#daac3d,#e68134,#e1512a,#dd3325,#db2322,#db2222,#dc2a23,#de3a26,#e14d29,#e4642e,#e67a32,#e68c35,#e39b39,#dea53b,#d9ad3e,#d2b340,#cdb742,#c6b944,#c0ba47,#bcbb49,#b9bc4a,#b7bc4b,#b5bc4c,#b4bc4c,#b4bd4d,#b5bc4c,#b6bc4c,#b8bc4b,#babc4a,#bcbb49,#bfbb47,#c3ba46,#c6b944,#cbb743,#ceb641,#d1b340,#d5b13f,#d8ae3e,#dbaa3d,#dea63c,#e0a23b,#e29d3a,#e49838,#e59237,#e68c36,#e68635,#e67f33,#e67932,#e67331,#e56b2f,#e4652e,#e35e2d,#e2572b,#e1512a,#e04b29,#e04628,#df4127,#de3d26,#de3926,#dd3525)"></i><i style="top:112px;background:linear-gradient(90deg,#a2be57,#d2b240,#e68d36,#e35d2d,#de3926,#db2623,#db2122,#db2723,#dd3425,#e04628,#e35b2c,#e67130,#e68334,#e59337,#e19f3a,#dca83c,#d7af3e,#d1b441,#ccb742,#c6b944,#c1ba46,#bebb48,#bcbb49,#babc4a,#b9bc4a,#b9bc4a,#b9bc4a,#babc4a,#bcbb49,#bdbb48,#c0ba47,#c3ba46,#c6b944,#cab843,#cdb642,#d0b441,#d3b240,#d7af3e,#daac3d,#dca83c,#dfa43b,#e1a03a,#e39b39,#e49638,#e69036,#e68a35,#e68334,#e67d33,#e67732,#e67030,#e5692f,#e4622e,#e35b2c,#e2552b,#e14f2a,#e04a29,#e04428,#df4027,#de3b26,#dd3725,#dd3425)"></i><i style="top:113px;background:linear-gradient(90deg,#95bc61,#cab843,#e49938,#e56a2f,#df4127,#dc2a23,#db2122,#db2422,#dc2f24,#df3f27,#e1522a,#e5682f,#e67b33,#e68b35,#e39939,#dfa33b,#dbab3d,#d5b03f,#d0b441,#ccb742,#c7b844,#c3ba46,#c0ba47,#bebb48,#bdbb48,#bdbb48,#bdbb48,#bebb48,#bfbb47,#c1ba46,#c3ba45,#c6b944,#cab843,#cdb642,#d0b441,#d2b240,#d5b03f,#d9ad3e,#dbaa3c,#dea63c,#e0a23b,#e29e3a,#e49938,#e59337,#e68d36,#e68735,#e68134,#e67b32,#e67531,#e56e30,#e4672f,#e3602d,#e2592c,#e1532a,#e14d29,#e04828,#df4328,#df3e27,#de3a26,#dd3625,#dd3325)"></i><i style="top:114px;background:linear-gradient(90deg,#88bb6c,#bebb48,#e0a23b,#e67732,#e04b29,#dc3024,#db2322,#db2222,#dc2a23,#de3826,#e04a29,#e35e2d,#e67331,#e68434,#e59237,#e29e3a,#dea63b,#d9ac3d,#d4b13f,#d0b441,#ccb742,#c9b843,#c5b945,#c3ba46,#c2ba46,#c1ba46,#c1ba46,#c2ba46,#c3ba46,#c5b945,#c7b844,#cab843,#cdb642,#cfb541,#d2b340,#d5b13f,#d8ae3e,#daab3d,#dda83c,#dfa43b,#e1a03a,#e39c39,#e49638,#e69136,#e68b35,#e68534,#e67f33,#e67832,#e67231,#e56b2f,#e4642e,#e35e2d,#e2572b,#e1512a,#e04b29,#e04628,#df4127,#de3d26,#de3926,#dd3525,#dc3224)"></i><i style="top:115px;background:linear-gradient(90deg,#7bb879,#b2bd4d,#dbab3d,#e68334,#e2552b,#dd3625,#db2523,#db2122,#db2623,#dd3225,#df4227,#e2552b,#e5692f,#e67b33,#e68a35,#e49738,#e0a13a,#dda83c,#d9ad3e,#d4b140,#d0b441,#cdb642,#cbb743,#c8b843,#c7b944,#c6b944,#c6b944,#c6b944,#c7b844,#c9b843,#cbb742,#cdb642,#cfb541,#d2b340,#d4b140,#d7af3e,#daac3d,#dca93c,#dea63b,#e0a23a,#e29e3a,#e39939,#e59437,#e68e36,#e68835,#e68234,#e67c33,#e67631,#e56f30,#e5692f,#e4622e,#e35b2c,#e2552b,#e14f2a,#e04a29,#e04528,#df4027,#de3c26,#de3826,#dd3425,#dc3124)"></i><i style="top:116px;background:linear-gradient(90deg,#70b387,#a5be55,#d3b240,#e68f36,#e4622e,#df3d27,#dc2923,#db2122,#db2422,#dc2d24,#de3c26,#e14d29,#e4602d,#e67331,#e68334,#e69036,#e39b39,#e0a33b,#dca93c,#d8ae3e,#d4b13f,#d1b340,#cfb541,#cdb642,#ccb742,#cbb743,#cab843,#cbb743,#ccb742,#cdb642,#ceb541,#d0b441,#d2b340,#d4b140,#d6af3f,#d9ad3d,#dbaa3d,#dda73c,#dfa33b,#e19f3a,#e39b39,#e49638,#e69136,#e68b35,#e68535,#e68033,#e67a32,#e67431,#e56d30,#e4662f,#e35f2d,#e2592c,#e1532a,#e14d29,#e04828,#df4328,#df3e27,#de3a26,#dd3625,#dd3325,#dc3024)"></i><i style="top:117px;background:linear-gradient(90deg,#66ae95,#98bd5e,#cab843,#e39a39,#e56e30,#e04628,#dc2e24,#db2322,#db2222,#dc2923,#dd3625,#e04528,#e2572b,#e56a2f,#e67b32,#e68835,#e59437,#e29e3a,#dfa43b,#dcaa3c,#d8ad3e,#d5b03f,#d3b240,#d1b441,#cfb541,#ceb541,#ceb641,#ceb541,#cfb541,#d0b441,#d1b441,#d2b240,#d4b13f,#d6af3f,#d9ad3e,#dbab3d,#dda83c,#dfa43b,#e0a13a,#e29d39,#e49938,#e59337,#e68e36,#e68835,#e68334,#e67d33,#e67732,#e67130,#e56a2f,#e4642e,#e35d2d,#e2572b,#e1512a,#e04b29,#e04628,#df4127,#de3d26,#de3926,#dd3525,#dc3224,#dc2f24)"></i><i style="top:118px;background:linear-gradient(90deg,#5ca7a3,#8bbc69,#bfbb48,#dfa43b,#e67b32,#e1502a,#dd3425,#db2523,#db2122,#db2623,#dc3024,#df3e27,#e14f2a,#e4612e,#e67331,#e68134,#e68d36,#e49738,#e19f3a,#dea53b,#dcaa3c,#d9ad3d,#d6af3f,#d4b140,#d3b240,#d2b340,#d1b341,#d1b340,#d2b340,#d2b240,#d4b140,#d5b03f,#d7af3e,#d9ad3e,#dbab3d,#dca83c,#dea53b,#e0a23b,#e29e3a,#e39b39,#e49638,#e69136,#e68b35,#e68635,#e68034,#e67a32,#e67531,#e56e30,#e5672f,#e4612e,#e35a2c,#e2542b,#e14e2a,#e04929,#e04428,#df4027,#de3b26,#dd3725,#dd3425,#dc3124,#dc2e24)"></i><i style="top:119px;background:linear-gradient(90deg,#559eb1,#7eb976,#b3bd4d,#daac3d,#e68635,#e35b2c,#de3b26,#dc2923,#db2122,#db2322,#dc2c24,#de3826,#e04728,#e2582c,#e56a2f,#e67932,#e68635,#e69136,#e39a39,#e1a03a,#dea53b,#dca93c,#daac3d,#d8ae3e,#d6af3f,#d5b03f,#d4b13f,#d4b13f,#d5b13f,#d5b03f,#d6af3f,#d8ae3e,#d9ad3d,#dbab3d,#dca83c,#dea63b,#e0a33b,#e19f3a,#e39c39,#e49738,#e59337,#e68e36,#e68835,#e68334,#e67d33,#e67832,#e67231,#e56b2f,#e4652e,#e35e2d,#e2582c,#e1522a,#e04c29,#e04728,#df4327,#df3e27,#de3a26,#dd3625,#dd3325,#dc2f24,#dc2c24)"></i><i style="top:120px;background:linear-gradient(90deg,#4e94bc,#72b584,#a6be55,#d2b340,#e59237,#e5682f,#df4328,#dc2d24,#db2322,#db2222,#db2823,#dd3325,#df4027,#e1502a,#e4612e,#e67130,#e67e33,#e68935,#e59337,#e39b39,#e1a03a,#dfa53b,#dda83c,#dbab3d,#daac3d,#d8ad3e,#d8ae3e,#d7ae3e,#d8ae3e,#d8ae3e,#d9ad3d,#daac3d,#dbaa3c,#dda83c,#dea63b,#dfa33b,#e1a03a,#e29d39,#e49938,#e59437,#e69036,#e68a35,#e68535,#e68034,#e67a32,#e67531,#e56f30,#e5682f,#e4622e,#e35b2c,#e2552b,#e1502a,#e04a29,#e04528,#df4127,#de3c26,#de3826,#dd3525,#dc3124,#dc2e24,#dc2b23)"></i><i style="top:121px;background:linear-gradient(90deg,#4988c5,#68af92,#99bd5d,#c9b843,#e29d3a,#e67531,#e04d29,#dd3325,#db2523,#db2122,#db2523,#dc2e24,#de3a26,#e04828,#e2582c,#e5682f,#e67732,#e68234,#e68c36,#e59537,#e39b39,#e1a03a,#dfa43b,#dda73c,#dca93c,#dbaa3d,#dbab3d,#daab3d,#daab3d,#dbab3d,#dbaa3c,#dca93c,#dda73c,#dea53b,#e0a33b,#e1a03a,#e29d39,#e39a39,#e49638,#e59137,#e68c36,#e68735,#e68234,#e67d33,#e67832,#e67231,#e56b2f,#e4652e,#e35f2d,#e2592c,#e1532a,#e14d29,#e04828,#df4328,#df3f27,#de3b26,#dd3725,#dd3325,#dc3024,#dc2d24,#dc2a23)"></i><i style="top:122px;background:linear-gradient(90deg,#447ccb,#5ea9a0,#8cbc69,#bdbb48,#dea63c,#e68034,#e2572b,#de3a26,#dc2923,#db2122,#db2222,#dc2923,#dd3425,#df4227,#e1502a,#e3602d,#e56e30,#e67b32,#e68534,#e68e36,#e49538,#e39b39,#e19f3a,#e0a23b,#dfa53b,#dea63c,#dda73c,#dda83c,#dda83c,#dda83c,#dda73c,#dea63b,#dfa43b,#e0a23b,#e1a03a,#e29d39,#e39a39,#e49638,#e59237,#e68e36,#e68935,#e68434,#e67f33,#e67a32,#e67531,#e56f30,#e5682f,#e4622e,#e35c2c,#e2562b,#e1502a,#e04b29,#e04628,#df4227,#df3d27,#de3926,#dd3525,#dd3225,#dc2f24,#dc2c24,#dc2a23)"></i><i style="top:123px;background:linear-gradient(90deg,#416ece,#57a1ae,#7fb975,#b1bd4e,#d7ae3e,#e68c36,#e4632e,#df4227,#dc2d24,#db2322,#db2122,#db2623,#dc2f24,#de3b26,#e04929,#e2572b,#e4662f,#e67431,#e67e33,#e68735,#e68f36,#e49538,#e39b39,#e29e3a,#e1a13a,#e0a23b,#dfa43b,#dfa43b,#dfa53b,#dfa43b,#dfa43b,#e0a23b,#e0a13a,#e19f3a,#e29d39,#e39a39,#e49738,#e59337,#e68f36,#e68a35,#e68635,#e68134,#e67c33,#e67732,#e67131,#e56b2f,#e4652e,#e35f2d,#e2592c,#e1532b,#e14e29,#e04929,#df4428,#df4027,#de3c26,#de3826,#dd3425,#dc3124,#dc2e24,#dc2b23,#dc2923)"></i><i style="top:124px;background:linear-gradient(90deg,#3f60d0,#4f97ba,#73b583,#a4be56,#cfb541,#e49838,#e67030,#e04b29,#dd3325,#db2623,#db2122,#db2322,#dc2b23,#dd3625,#df4227,#e14f2a,#e35e2d,#e56b2f,#e67732,#e68034,#e68835,#e68f36,#e59537,#e39939,#e29c39,#e29e3a,#e1a03a,#e1a13a,#e0a13a,#e0a13a,#e1a03a,#e19f3a,#e29e3a,#e39c39,#e39939,#e49638,#e59337,#e68f36,#e68b35,#e68735,#e68334,#e67e33,#e67932,#e67431,#e56e30,#e5682f,#e4622e,#e35c2c,#e2562b,#e1512a,#e04c29,#e04728,#df4227,#df3e27,#de3a26,#dd3625,#dd3325,#dc2f24,#dc2d24,#dc2a23,#db2823)"></i><i style="top:125px;background:linear-gradient(90deg,#3f52cd,#4a8bc3,#69b091,#97bd5f,#c5b945,#e0a23a,#e67c33,#e2552b,#de3a26,#dc2923,#db2222,#db2222,#db2723,#dc3124,#de3c26,#e04828,#e2552b,#e4632e,#e56f30,#e67932,#e68234,#e68935,#e68f36,#e59337,#e49738,#e39a39,#e39c39,#e29d39,#e29d39,#e29d39,#e29d39,#e39c39,#e39a39,#e49838,#e49538,#e59337,#e68f36,#e68c35,#e68835,#e68434,#e67f33,#e67a32,#e67631,#e67030,#e56b2f,#e4652e,#e35f2d,#e2592c,#e1542b,#e14e2a,#e04929,#e04528,#df4027,#de3c26,#de3826,#dd3525,#dc3124,#dc2e24,#dc2b23,#dc2923,#db2723)"></i><i style="top:126px;background:linear-gradient(90deg,#4044c8,#457fca,#5fa99f,#8abb6a,#babc4a,#dbaa3d,#e68835,#e4612e,#df4127,#dc2e24,#db2422,#db2122,#db2422,#dc2c24,#dd3625,#df4227,#e14e29,#e35b2c,#e4672f,#e67231,#e67b32,#e68234,#e68835,#e68d36,#e59137,#e59437,#e49738,#e49838,#e49938,#e49938,#e49838,#e49738,#e49638,#e59437,#e59137,#e68f36,#e68b35,#e68835,#e68434,#e68034,#e67c33,#e67732,#e67231,#e56d30,#e4672f,#e4622e,#e35c2c,#e2562b,#e1512a,#e04c29,#e04728,#df4327,#df3e27,#de3a26,#dd3625,#dd3325,#dc3024,#dc2d24,#dc2a23,#dc2823,#db2623)"></i><i style="top:127px;background:linear-gradient(90deg,#4238c2,#4271ce,#57a1ad,#7db877,#aebd50,#d4b140,#e59337,#e56d30,#e04a29,#dd3425,#db2623,#db2122,#db2222,#dc2823,#dc3124,#de3c26,#e04728,#e1532a,#e35f2d,#e56a2f,#e67431,#e67c33,#e68234,#e68735,#e68c35,#e68f36,#e59137,#e59337,#e59437,#e59437,#e59437,#e59337,#e59237,#e69036,#e68d36,#e68b35,#e68835,#e68434,#e68134,#e67c33,#e67832,#e67431,#e56f30,#e5692f,#e4642e,#e35e2d,#e2592c,#e1532a,#e14e29,#e04929,#e04528,#df4027,#de3c26,#de3826,#dd3525,#dc3224,#dc2f24,#dc2c24,#dc2923,#db2723,#db2523)"></i><i style="top:128px;background:linear-gradient(90deg,#462fba,#4063cf,#5097ba,#72b485,#a0be58,#ccb742,#e29e3a,#e67932,#e2542b,#de3a26,#dc2a23,#db2222,#db2122,#db2523,#dc2d24,#dd3625,#df4127,#e04c29,#e2572b,#e4622e,#e56c30,#e67531,#e67c33,#e68134,#e68635,#e68935,#e68c36,#e68e36,#e68f36,#e68f36,#e68f36,#e68e36,#e68d36,#e68b35,#e68935,#e68735,#e68434,#e68034,#e67d33,#e67932,#e67531,#e67030,#e56b2f,#e4662e,#e4602d,#e35b2c,#e2562b,#e1502a,#e04c29,#e04728,#df4327,#df3e27,#de3a26,#dd3725,#dd3325,#dc3024,#dc2d24,#dc2b23,#dc2823,#db2623,#db2523)"></i><i style="top:129px;background:linear-gradient(90deg,#4a26b2,#3f55cd,#4a8cc3,#67af93,#94bc62,#c0ba47,#dda73c,#e68534,#e3602d,#df4227,#dc2f24,#db2523,#db2122,#db2322,#dc2923,#dc3124,#de3b26,#e04528,#e1502a,#e35b2c,#e4652e,#e56e30,#e67531,#e67b32,#e68034,#e68434,#e68635,#e68835,#e68a35,#e68a35,#e68a35,#e68a35,#e68935,#e68735,#e68534,#e68334,#e68034,#e67c33,#e67932,#e67531,#e67130,#e56c30,#e4672f,#e4622e,#e35d2d,#e2582b,#e1522a,#e14e29,#e04929,#e04528,#df4027,#de3c26,#de3826,#dd3525,#dc3224,#dc2f24,#dc2c24,#dc2923,#db2723,#db2523,#db2422)"></i><i style="top:130px;background:linear-gradient(90deg,#5020aa,#4047c9,#457fca,#5ea8a1,#87bb6d,#b5bc4c,#d7af3e,#e69136,#e56c30,#e04b29,#dd3525,#db2823,#db2222,#db2222,#db2623,#dc2d24,#dd3525,#df3f27,#e04929,#e1532a,#e35d2d,#e4662f,#e56e30,#e67531,#e67a32,#e67e33,#e68134,#e68334,#e68534,#e68535,#e68535,#e68534,#e68434,#e68334,#e68134,#e67e33,#e67c33,#e67932,#e67531,#e67131,#e56d30,#e5682f,#e4632e,#e35e2d,#e2592c,#e2542b,#e14f2a,#e04b29,#e04628,#df4227,#df3e27,#de3a26,#dd3725,#dd3325,#dc3024,#dc2d24,#dc2b23,#dc2823,#db2623,#db2523,#db2322)"></i><i style="top:131px;background:linear-gradient(90deg,#571ea3,#413bc3,#4272ce,#56a0af,#7ab77a,#a8be54,#cfb541,#e39c39,#e67832,#e2552b,#de3c26,#dc2c24,#db2322,#db2122,#db2322,#dc2923,#dc3124,#de3926,#df4328,#e04c29,#e2562b,#e35f2d,#e4672f,#e56e30,#e67431,#e67832,#e67b33,#e67e33,#e67f33,#e68034,#e68134,#e68034,#e68033,#e67e33,#e67c33,#e67a32,#e67832,#e67531,#e67130,#e56d30,#e5692f,#e4642e,#e3602d,#e35b2c,#e2562b,#e1512a,#e04d29,#e04828,#df4428,#df4027,#de3c26,#de3826,#dd3525,#dc3224,#dc2f24,#dc2c24,#dc2923,#db2723,#db2523,#db2422,#db2322)"></i><i style="top:132px;background:linear-gradient(90deg,#5f1d9b,#4531bc,#4064cf,#4f96bb,#6fb389,#9bbd5b,#c5b945,#dfa53b,#e68434,#e4612d,#df4428,#dc3124,#db2623,#db2122,#db2222,#db2623,#dc2c24,#dd3425,#de3d26,#e04628,#e14f2a,#e2572b,#e3602d,#e4672f,#e56d30,#e67231,#e67531,#e67832,#e67a32,#e67b33,#e67c33,#e67b33,#e67b32,#e67a32,#e67832,#e67631,#e67331,#e67030,#e56d30,#e5692f,#e4652e,#e4602d,#e35c2c,#e2572b,#e1522a,#e14e29,#e04a29,#e04628,#df4127,#df3e27,#de3a26,#dd3625,#dd3325,#dc3024,#dc2d24,#dc2b23,#dc2823,#db2623,#db2523,#db2322,#db2222)"></i><i style="top:133px;background:linear-gradient(90deg,#661d96,#4928b4,#3f55ce,#498bc3,#65ad97,#8ebc67,#babc4a,#d9ad3d,#e68f36,#e56d30,#e04d29,#dd3725,#dc2a23,#db2322,#db2122,#db2322,#dc2923,#dc3024,#de3826,#df4027,#e04828,#e1512a,#e2582c,#e3602d,#e4662e,#e56b2f,#e56f30,#e67231,#e67531,#e67631,#e67732,#e67732,#e67631,#e67531,#e67431,#e67131,#e56f30,#e56c30,#e5682f,#e4652e,#e4612d,#e35c2d,#e2582c,#e1542b,#e14f2a,#e04b29,#e04728,#df4328,#df3f27,#de3b26,#de3826,#dd3525,#dc3124,#dc2f24,#dc2c24,#dc2923,#db2723,#db2523,#db2422,#db2322,#db2222)"></i><i style="top:134px;background:linear-gradient(90deg,#6c1d91,#4f21ac,#4048c9,#457eca,#5ca7a5,#81ba73,#aebd50,#d1b340,#e39b39,#e67932,#e2572b,#df3e27,#dc2e24,#db2523,#db2122,#db2222,#db2623,#dc2c24,#dd3325,#de3b26,#df4327,#e04a29,#e1522a,#e2592c,#e35f2d,#e4642e,#e5682f,#e56c30,#e56e30,#e67030,#e67130,#e67131,#e67130,#e67030,#e56e30,#e56c30,#e56a2f,#e4672f,#e4642e,#e4602d,#e35c2d,#e2582c,#e2542b,#e1502a,#e04c29,#e04828,#df4428,#df4027,#de3d26,#de3926,#dd3625,#dd3325,#dc3024,#dc2d24,#dc2a23,#dc2823,#db2623,#db2523,#db2322,#db2222,#db2222)"></i><i style="top:135px;background:linear-gradient(90deg,#701c8d,#561ea4,#413bc3,#4270ce,#549eb2,#75b680,#a0be58,#c8b844,#dfa43b,#e68434,#e4632e,#e04628,#dd3425,#db2823,#db2222,#db2122,#db2322,#dc2823,#dc2f24,#dd3625,#de3d26,#e04428,#e04b29,#e1522a,#e2582c,#e35d2d,#e4622e,#e4662e,#e5682f,#e56a2f,#e56b2f,#e56c30,#e56b2f,#e56b2f,#e5692f,#e5672f,#e4652e,#e4622e,#e35f2d,#e35c2c,#e2582c,#e2552b,#e1512a,#e14d29,#e04929,#e04528,#df4227,#df3e27,#de3a26,#dd3725,#dd3425,#dc3124,#dc2e24,#dc2c24,#dc2923,#db2723,#db2523,#db2422,#db2322,#db2222,#db2122)"></i><i style="top:136px;background:linear-gradient(90deg,#741c8a,#5e1d9d,#4531bc,#4062cf,#4d93bd,#6bb18e,#94bc62,#bdbb48,#daac3d,#e68f36,#e56f30,#e14f2a,#de3a26,#dc2c24,#db2422,#db2122,#db2222,#db2523,#dc2b23,#dc3124,#de3826,#df3f27,#e04628,#e04c29,#e1522a,#e2572b,#e35c2c,#e35f2d,#e4622e,#e4642e,#e4662e,#e4662f,#e4662f,#e4652e,#e4642e,#e4632e,#e4602d,#e35e2d,#e35b2c,#e2582b,#e2542b,#e1512a,#e14d29,#e04a29,#e04628,#df4227,#df3f27,#de3c26,#de3826,#dd3525,#dd3225,#dc2f24,#dc2d24,#dc2a23,#db2823,#db2623,#db2422,#db2322,#db2222,#db2122,#db2122)"></i><i style="top:137px;background:linear-gradient(90deg,#761c88,#651d97,#4928b4,#3f54cd,#4887c5,#61aa9c,#87bb6d,#b1bd4e,#d2b240,#e39b39,#e67a32,#e35a2c,#df4127,#dc3124,#db2723,#db2222,#db2122,#db2322,#db2823,#dc2d24,#dd3325,#de3a26,#df4027,#e04628,#e04c29,#e1512a,#e2552b,#e2592c,#e35c2c,#e35e2d,#e3602d,#e4612d,#e4612d,#e4602d,#e35f2d,#e35e2d,#e35c2c,#e2592c,#e2572b,#e1542b,#e1502a,#e14d29,#e04a29,#e04728,#df4328,#df4027,#de3c26,#de3926,#dd3625,#dd3325,#dc3024,#dc2e24,#dc2b23,#dc2923,#db2723,#db2523,#db2422,#db2322,#db2222,#db2122,#db2122)"></i><i style="top:138px;background:linear-gradient(90deg,#781c86,#6b1d91,#4e21ac,#4046c9,#447bcc,#59a3aa,#7ab77a,#a4be56,#cab843,#dfa33b,#e68535,#e4662e,#e04a29,#dd3725,#dc2b23,#db2422,#db2122,#db2222,#db2523,#dc2a23,#dc2f24,#dd3525,#de3b26,#df4127,#e04628,#e04b29,#e14f2a,#e1532a,#e2562b,#e2582c,#e35a2c,#e35b2c,#e35b2c,#e35b2c,#e35a2c,#e2592c,#e2572b,#e2552b,#e1522a,#e1502a,#e14d29,#e04a29,#e04728,#df4328,#df4027,#de3d26,#de3a26,#dd3725,#dd3425,#dc3124,#dc2e24,#dc2c24,#dc2a23,#db2823,#db2623,#db2422,#db2322,#db2222,#db2122,#db2122,#db2122)"></i><i style="top:139px;background:linear-gradient(90deg,#781c86,#701c8d,#551ea4,#423ac3,#416dce,#519ab7,#6fb388,#98bd5e,#bfbb47,#daac3d,#e69136,#e67231,#e1532b,#df3e27,#dc2f24,#db2623,#db2222,#db2122,#db2322,#db2723,#dc2b23,#dc3124,#dd3625,#de3c26,#df4127,#e04628,#e04a29,#e14d29,#e1502a,#e1532a,#e2552b,#e2562b,#e2562b,#e2562b,#e2552b,#e2542b,#e1522a,#e1502a,#e14e2a,#e04c29,#e04929,#e04628,#df4428,#df4127,#df3e27,#de3b26,#de3826,#dd3525,#dd3225,#dc2f24,#dc2d24,#dc2a23,#dc2823,#db2623,#db2523,#db2322,#db2222,#db2222,#db2122,#db2122,#db2122)"></i><i style="top:140px;background:linear-gradient(90deg,#781c86,#731c8a,#5e1d9d,#4530bb,#3f5ed0,#4b8fc1,#65ad96,#8bbc69,#b4bd4d,#d3b240,#e39c39,#e67d33,#e35e2d,#e04628,#dd3525,#dc2a23,#db2422,#db2122,#db2222,#db2422,#dc2823,#dc2d24,#dd3225,#dd3725,#de3c26,#df4127,#e04528,#e04828,#e04b29,#e14e29,#e14f2a,#e1502a,#e1512a,#e1512a,#e1502a,#e1502a,#e14e2a,#e04c29,#e04a29,#e04828,#e04628,#df4328,#df4027,#df3e27,#de3b26,#de3826,#dd3525,#dd3325,#dc3024,#dc2e24,#dc2b23,#dc2923,#db2723,#db2523,#db2422,#db2322,#db2222,#db2122,#db2122,#db2122,#db2122)"></i><i style="top:141px;background:linear-gradient(90deg,#771c87,#761c88,#651d97,#4a27b3,#3f50cc,#4682c8,#5ca7a4,#7eb976,#a7be54,#cab743,#dfa43b,#e68835,#e56a2f,#e14e2a,#de3b26,#dc2e24,#db2623,#db2222,#db2122,#db2222,#db2523,#dc2a23,#dc2e24,#dd3325,#dd3725,#de3c26,#df4027,#df4328,#e04628,#e04929,#e04a29,#e04c29,#e04c29,#e04c29,#e04c29,#e04b29,#e04a29,#e04929,#e04728,#e04528,#df4227,#df4027,#df3d27,#de3b26,#de3826,#dd3625,#dd3325,#dc3124,#dc2e24,#dc2c24,#dc2a23,#db2823,#db2623,#db2422,#db2322,#db2222,#db2222,#db2122,#db2122,#db2122,#db2222)"></i><i style="top:142px;background:linear-gradient(90deg,#751c89,#771c87,#6b1d91,#4f21ab,#4043c8,#4275cd,#559eb1,#73b583,#9abd5c,#bfbb47,#daac3d,#e59337,#e67631,#e2592c,#df4327,#dd3325,#dc2923,#db2422,#db2122,#db2122,#db2322,#db2723,#dc2b23,#dc2f24,#dd3325,#dd3725,#de3b26,#df3f27,#df4127,#df4428,#e04628,#e04728,#e04828,#e04828,#e04828,#e04728,#e04628,#e04528,#df4328,#df4127,#df3f27,#de3d26,#de3b26,#de3826,#dd3625,#dd3325,#dc3124,#dc2f24,#dc2c24,#dc2a23,#dc2823,#db2623,#db2523,#db2422,#db2322,#db2222,#db2122,#db2122,#db2122,#db2122,#db2222)"></i><i style="top:143px;background:linear-gradient(90deg,#731c8a,#781c86,#701c8d,#561ea3,#4237c1,#4067cf,#4e94bc,#69af91,#8dbc67,#b4bc4c,#d2b340,#e29d3a,#e68134,#e4642e,#e04b29,#de3a26,#dc2e24,#db2623,#db2222,#db2122,#db2222,#db2422,#db2823,#dc2c24,#dc3024,#dd3325,#dd3725,#de3a26,#de3d26,#df3f27,#df4127,#df4327,#df4328,#df4428,#df4428,#df4328,#df4227,#df4127,#df4027,#df3e27,#de3c26,#de3a26,#de3826,#dd3625,#dd3325,#dc3124,#dc2f24,#dc2d24,#dc2b23,#dc2923,#db2723,#db2523,#db2422,#db2322,#db2222,#db2122,#db2122,#db2122,#db2122,#db2222,#db2322)"></i><i style="top:144px;background:linear-gradient(90deg,#701c8d,#781c86,#731c8a,#5f1d9c,#462eb9,#3f59cf,#4988c5,#5fa99f,#81b973,#a8be54,#cab843,#dea63b,#e68c35,#e57030,#e2542b,#df4027,#dd3325,#dc2923,#db2422,#db2122,#db2122,#db2322,#db2523,#dc2823,#dc2c24,#dc3024,#dd3325,#dd3625,#de3926,#de3b26,#de3d26,#df3e27,#df3f27,#df4027,#df4027,#df3f27,#df3f27,#df3e27,#de3c26,#de3b26,#de3926,#dd3725,#dd3525,#dd3325,#dc3124,#dc2f24,#dc2d24,#dc2b23,#dc2923,#db2723,#db2623,#db2422,#db2322,#db2222,#db2222,#db2122,#db2122,#db2122,#db2222,#db2222,#db2422)"></i><i style="top:145px;background:linear-gradient(90deg,#6e1d8f,#771c87,#761c88,#661d96,#4b25b1,#3f4bca,#447ccb,#57a1ad,#75b681,#9bbd5b,#bfbb47,#d8ae3e,#e49638,#e67b32,#e35f2d,#e04828,#de3826,#dc2d24,#db2623,#db2222,#db2122,#db2222,#db2322,#db2623,#dc2923,#dc2c24,#dc2f24,#dd3225,#dd3525,#dd3725,#de3926,#de3a26,#de3b26,#de3c26,#de3c26,#de3c26,#de3b26,#de3a26,#de3926,#de3826,#dd3625,#dd3525,#dd3325,#dc3124,#dc2f24,#dc2d24,#dc2b23,#dc2923,#db2823,#db2623,#db2523,#db2322,#db2222,#db2222,#db2122,#db2122,#db2122,#db2122,#db2222,#db2322,#db2422)"></i><i style="top:146px;background:linear-gradient(90deg,#6b1d92,#751c88,#771c87,#6b1d91,#501fa9,#413ec5,#416ece,#5098b9,#6bb18e,#8fbc66,#b4bd4d,#d1b441,#e1a03a,#e68535,#e56a2f,#e1512a,#df3f27,#dd3225,#dc2a23,#db2422,#db2222,#db2122,#db2222,#db2422,#db2623,#dc2923,#dc2c24,#dc2f24,#dc3124,#dd3325,#dd3525,#dd3725,#de3826,#de3826,#de3926,#de3826,#de3826,#dd3725,#dd3625,#dd3525,#dd3425,#dd3225,#dc3024,#dc2f24,#dc2d24,#dc2b23,#dc2923,#db2823,#db2623,#db2523,#db2422,#db2322,#db2222,#db2122,#db2122,#db2122,#db2122,#db2222,#db2322,#db2422,#db2523)"></i><i style="top:147px;background:linear-gradient(90deg,#681d94,#731c8a,#781c86,#701c8d,#591ea1,#4333be,#3f60d0,#4a8dc2,#61ab9c,#82ba72,#a7be54,#c8b844,#dca83c,#e69036,#e67631,#e35b2c,#e04728,#de3826,#dc2e24,#db2723,#db2322,#db2122,#db2122,#db2222,#db2422,#db2723,#dc2923,#dc2c24,#dc2e24,#dc3024,#dd3225,#dd3325,#dd3425,#dd3525,#dd3525,#dd3525,#dd3525,#dd3425,#dd3325,#dd3225,#dc3124,#dc3024,#dc2e24,#dc2d24,#dc2b23,#dc2923,#db2823,#db2623,#db2523,#db2422,#db2322,#db2222,#db2122,#db2122,#db2122,#db2122,#db2222,#db2222,#db2322,#db2523,#db2723)"></i><i style="top:148px;background:linear-gradient(90deg,#651d97,#711c8c,#781c86,#741c8a,#611d9a,#482ab6,#3f52cd,#4680c9,#59a3aa,#76b67f,#9bbd5c,#bdbb48,#d6af3f,#e39b39,#e68034,#e4662f,#e14f2a,#df3f27,#dd3225,#dc2a23,#db2523,#db2222,#db2122,#db2122,#db2322,#db2422,#db2723,#dc2923,#dc2b23,#dc2d24,#dc2f24,#dc3024,#dc3124,#dc3224,#dd3225,#dd3225,#dd3225,#dc3124,#dc3124,#dc3024,#dc2f24,#dc2d24,#dc2c24,#dc2b23,#dc2923,#db2823,#db2623,#db2523,#db2422,#db2322,#db2222,#db2222,#db2122,#db2122,#db2122,#db2222,#db2222,#db2322,#db2422,#db2623,#db2823)"></i><i style="top:149px;background:linear-gradient(90deg,#621d99,#6e1d8f,#771c87,#761c88,#671d95,#4d23ae,#4044c8,#4273cd,#529ab6,#6cb18d,#8ebc67,#b2bd4e,#cfb541,#dfa33b,#e68b35,#e67231,#e2592c,#e04628,#de3826,#dc2e24,#db2823,#db2422,#db2222,#db2122,#db2222,#db2322,#db2523,#db2623,#dc2823,#dc2a23,#dc2c24,#dc2d24,#dc2e24,#dc2f24,#dc2f24,#dc2f24,#dc2f24,#dc2f24,#dc2e24,#dc2d24,#dc2c24,#dc2b23,#dc2a23,#dc2923,#db2723,#db2623,#db2523,#db2422,#db2322,#db2222,#db2222,#db2122,#db2122,#db2122,#db2122,#db2222,#db2322,#db2422,#db2523,#db2723,#dc2923)"></i><i style="top:150px;background:linear-gradient(90deg,#601d9b,#6b1d91,#751c88,#771c86,#6d1d90,#531ea6,#4238c2,#4065cf,#4b90c0,#62ab9b,#82ba72,#a5be55,#c5b945,#daab3d,#e49638,#e67d33,#e4642e,#e14e29,#df3e27,#dd3325,#dc2b23,#db2623,#db2322,#db2122,#db2122,#db2222,#db2322,#db2422,#db2623,#db2823,#dc2923,#dc2a23,#dc2b23,#dc2c24,#dc2c24,#dc2d24,#dc2d24,#dc2c24,#dc2c24,#dc2b23,#dc2a23,#dc2923,#dc2823,#db2723,#db2623,#db2523,#db2422,#db2322,#db2222,#db2222,#db2122,#db2122,#db2122,#db2122,#db2222,#db2322,#db2422,#db2523,#db2723,#dc2923,#dc2b23)"></i><i style="top:151px;background:linear-gradient(90deg,#5e1d9d,#681d94,#731c8a,#781c86,#711c8c,#5c1d9f,#462eba,#3f57ce,#4783c7,#5aa4a8,#76b67f,#99bd5d,#bbbc49,#d3b240,#e19f3a,#e68735,#e56f30,#e2582b,#e04628,#de3926,#dc2f24,#dc2923,#db2422,#db2222,#db2122,#db2122,#db2222,#db2322,#db2422,#db2523,#db2723,#db2823,#dc2923,#dc2a23,#dc2a23,#dc2a23,#dc2a23,#dc2a23,#dc2a23,#dc2923,#dc2823,#db2723,#db2623,#db2623,#db2523,#db2422,#db2322,#db2222,#db2222,#db2122,#db2122,#db2122,#db2122,#db2222,#db2222,#db2322,#db2523,#db2623,#dc2823,#dc2a23,#dc2d24)"></i><i style="top:152px;background:linear-gradient(90deg,#5d1d9e,#651d96,#711c8c,#781c86,#741c89,#631d98,#4a26b2,#3f49ca,#4377cd,#539bb5,#6cb18d,#8dbc68,#afbd4f,#ccb742,#dda73c,#e59237,#e67a32,#e4622e,#e14e29,#df3f27,#dd3425,#dc2c24,#db2723,#db2422,#db2222,#db2122,#db2122,#db2222,#db2322,#db2422,#db2523,#db2623,#db2723,#db2723,#db2823,#dc2823,#dc2823,#db2823,#db2823,#db2723,#db2623,#db2623,#db2523,#db2422,#db2422,#db2322,#db2222,#db2222,#db2122,#db2122,#db2122,#db2122,#db2222,#db2222,#db2322,#db2422,#db2623,#db2823,#dc2a23,#dc2c24,#dc2f24)"></i><i style="top:153px;background:linear-gradient(90deg,#5b1d9f,#631d99,#6e1d8f,#771c87,#771c87,#6a1d93,#5020aa,#413cc4,#4068cf,#4c91bf,#62ab9a,#81b973,#a2be57,#c1ba46,#d7ae3e,#e39c39,#e68434,#e56d30,#e2572b,#e04628,#de3a26,#dc3124,#dc2a23,#db2623,#db2322,#db2222,#db2122,#db2122,#db2222,#db2222,#db2322,#db2422,#db2523,#db2523,#db2623,#db2623,#db2623,#db2623,#db2623,#db2523,#db2523,#db2422,#db2422,#db2322,#db2322,#db2222,#db2222,#db2122,#db2122,#db2122,#db2122,#db2222,#db2222,#db2322,#db2422,#db2623,#db2723,#dc2923,#dc2c24,#dc2e24,#dc3124)"></i><i style="top:154px;background:linear-gradient(90deg,#5b1d9f,#601d9b,#6b1d91,#751c89,#781c86,#6f1c8e,#581ea2,#4432bd,#3f5acf,#4785c6,#5aa5a8,#75b681,#96bd5f,#b7bc4b,#d0b441,#dfa43b,#e68e36,#e67832,#e4612e,#e14e2a,#df4027,#dd3625,#dc2e24,#dc2923,#db2523,#db2322,#db2122,#db2122,#db2122,#db2222,#db2222,#db2322,#db2322,#db2422,#db2422,#db2422,#db2523,#db2523,#db2422,#db2422,#db2422,#db2322,#db2322,#db2222,#db2222,#db2122,#db2122,#db2122,#db2122,#db2122,#db2222,#db2222,#db2322,#db2422,#db2523,#db2723,#dc2923,#dc2b23,#dc2e24,#dc3024,#dd3325)"></i><i style="top:155px;background:linear-gradient(90deg,#5b1d9f,#5e1d9c,#681d94,#731c8b,#781c86,#731c8b,#601d9b,#4929b5,#3f4dcb,#4379cd,#539cb5,#6bb18e,#8abb6a,#abbd52,#c7b844,#daac3d,#e49938,#e68234,#e56c30,#e2572b,#e04728,#de3b26,#dd3325,#dc2c24,#db2723,#db2422,#db2222,#db2122,#db2122,#db2122,#db2122,#db2222,#db2222,#db2322,#db2322,#db2322,#db2322,#db2322,#db2322,#db2322,#db2322,#db2222,#db2222,#db2222,#db2122,#db2122,#db2122,#db2122,#db2122,#db2222,#db2222,#db2322,#db2422,#db2523,#db2723,#dc2823,#dc2b23,#dc2d24,#dc3024,#dd3325,#dd3625)"></i><i style="top:156px;background:linear-gradient(90deg,#5b1d9f,#5d1d9e,#651d96,#701c8d,#771c86,#751c88,#671d95,#4e22ad,#403fc6,#416bce,#4c91bf,#61ab9c,#7eb976,#9fbd59,#bdbb48,#d3b240,#e0a13a,#e68c36,#e67732,#e4622e,#e14f2a,#df4227,#de3826,#dc3024,#dc2a23,#db2723,#db2422,#db2222,#db2122,#db2122,#db2122,#db2122,#db2122,#db2222,#db2222,#db2222,#db2222,#db2222,#db2222,#db2222,#db2222,#db2222,#db2122,#db2122,#db2122,#db2122,#db2122,#db2122,#db2222,#db2222,#db2322,#db2422,#db2523,#db2623,#dc2823,#dc2a23,#dc2d24,#dc2f24,#dd3225,#dd3525,#de3926)"></i><i style="top:157px;background:linear-gradient(90deg,#5c1d9e,#5b1d9f,#621d99,#6d1d8f,#761c88,#771c87,#6c1d90,#541ea5,#4335bf,#3f5cd0,#4885c6,#59a4a9,#73b583,#93bc63,#b2bd4e,#ccb742,#dca93c,#e49638,#e68134,#e56c30,#e2592c,#e04929,#df3e27,#dd3525,#dc2e24,#dc2923,#db2623,#db2422,#db2222,#db2222,#db2122,#db2122,#db2122,#db2122,#db2122,#db2122,#db2122,#db2222,#db2122,#db2122,#db2122,#db2122,#db2122,#db2122,#db2122,#db2122,#db2122,#db2222,#db2222,#db2322,#db2422,#db2523,#db2623,#db2823,#dc2a23,#dc2c24,#dc2f24,#dc3124,#dd3525,#de3826,#de3c26)"></i><i style="top:158px;background:linear-gradient(90deg,#5e1d9d,#5b1d9f,#601d9b,#6a1d92,#741c89,#781c86,#711c8c,#5d1d9e,#472bb7,#3f4fcc,#4379cd,#529bb5,#69b091,#87bb6d,#a6be55,#c1ba46,#d6b03f,#e19f3a,#e68b35,#e67732,#e4632e,#e1512a,#df4428,#de3a26,#dd3325,#dc2d24,#dc2923,#db2623,#db2422,#db2222,#db2222,#db2122,#db2122,#db2122,#db2122,#db2122,#db2122,#db2122,#db2122,#db2122,#db2122,#db2122,#db2122,#db2122,#db2122,#db2122,#db2222,#db2222,#db2322,#db2422,#db2523,#db2623,#db2823,#dc2a23,#dc2c24,#dc2e24,#dc3124,#dd3425,#dd3725,#de3b26,#df3f27)"></i><i style="top:159px;background:linear-gradient(90deg,#601d9b,#5b1d9f,#5e1d9d,#671d94,#721c8b,#781c86,#741c89,#641d97,#4c24af,#4041c7,#416bce,#4c91bf,#60aa9e,#7bb87a,#9abd5c,#b7bc4b,#cfb541,#dda73c,#e59537,#e68034,#e56d30,#e35a2c,#e04c29,#df4027,#de3826,#dc3124,#dc2c24,#dc2823,#db2623,#db2422,#db2322,#db2222,#db2122,#db2122,#db2122,#db2122,#db2122,#db2122,#db2122,#db2122,#db2122,#db2122,#db2122,#db2122,#db2222,#db2222,#db2222,#db2322,#db2422,#db2523,#db2623,#db2823,#dc2a23,#dc2c24,#dc2e24,#dc3124,#dd3425,#dd3725,#de3a26,#df3e27,#df4227)"></i><i style="top:160px;background:linear-gradient(90deg,#621d99,#5b1d9f,#5c1d9e,#651d97,#6f1c8d,#771c87,#761c87,#6a1d92,#521ea7,#4236c0,#3f5dd0,#4785c7,#58a2ab,#70b487,#8ebc67,#acbd51,#c6b945,#d8ae3e,#e29e3a,#e68a35,#e67732,#e4642e,#e1542b,#e04728,#df3d27,#dd3625,#dc3024,#dc2c24,#dc2823,#db2623,#db2422,#db2322,#db2222,#db2222,#db2222,#db2122,#db2122,#db2122,#db2122,#db2122,#db2122,#db2122,#db2222,#db2222,#db2222,#db2322,#db2322,#db2422,#db2523,#db2723,#db2823,#dc2a23,#dc2c24,#dc2e24,#dc3024,#dd3325,#dd3625,#de3a26,#df3d27,#df4127,#e04628)"></i><i style="top:161px;background:linear-gradient(90deg,#641d97,#5c1d9e,#5b1d9f,#621d99,#6d1d90,#761c88,#781c86,#6f1c8e,#5a1ea0,#472db8,#3f50cc,#4379cd,#5199b7,#66ae94,#82ba72,#a0be59,#bcbb49,#d1b441,#dea63b,#e59437,#e68134,#e56f30,#e35d2d,#e14f2a,#df4428,#de3b26,#dd3425,#dc2f24,#dc2b23,#dc2823,#db2623,#db2523,#db2422,#db2322,#db2222,#db2222,#db2222,#db2222,#db2222,#db2222,#db2222,#db2222,#db2222,#db2322,#db2322,#db2422,#db2523,#db2623,#db2723,#dc2823,#dc2a23,#dc2c24,#dc2e24,#dc3024,#dd3325,#dd3625,#de3926,#de3d26,#df4127,#e04528,#e04a29)"></i><i style="top:162px;background:linear-gradient(90deg,#671d95,#5e1d9d,#5b1d9f,#601d9b,#6a1d93,#731c8a,#781c86,#731c8a,#621d99,#4b25b0,#4042c7,#416bce,#4b8fc1,#5ea8a1,#77b67f,#94bc61,#b1bd4e,#c9b843,#d9ad3d,#e29d3a,#e68b35,#e67932,#e4672f,#e2572b,#e04b29,#df4127,#de3926,#dd3325,#dc2f24,#dc2b23,#dc2923,#db2723,#db2523,#db2422,#db2422,#db2322,#db2322,#db2322,#db2322,#db2322,#db2322,#db2322,#db2322,#db2422,#db2422,#db2523,#db2623,#db2723,#dc2923,#dc2a23,#dc2c24,#dc2e24,#dc3024,#dd3325,#dd3625,#de3926,#de3d26,#df4027,#e04428,#e04929,#e14e29)"></i><i style="top:163px;background:linear-gradient(90deg,#6a1d92,#601d9b,#5b1d9f,#5e1d9d,#671d95,#711c8c,#781c86,#761c88,#691d93,#501fa9,#4237c1,#3f5dd0,#4783c8,#56a0ae,#6db28c,#88bb6c,#a5be56,#bfbb48,#d2b340,#dea53b,#e59437,#e68234,#e67131,#e4612d,#e1522a,#e04828,#df3f27,#de3826,#dd3325,#dc2f24,#dc2c24,#dc2923,#db2823,#db2623,#db2523,#db2523,#db2422,#db2422,#db2422,#db2422,#db2422,#db2422,#db2523,#db2523,#db2623,#db2723,#db2823,#dc2923,#dc2b23,#dc2c24,#dc2e24,#dc3124,#dd3325,#dd3625,#de3926,#de3c26,#df4027,#df4428,#e04828,#e14d29,#e1522a)"></i><i style="top:164px;background:linear-gradient(90deg,#6c1d90,#621d99,#5b1d9f,#5c1d9e,#641d98,#6e1c8e,#761c87,#771c87,#6e1d8f,#591ea1,#462eb9,#3f4fcc,#4377cd,#4f97ba,#63ac99,#7db877,#99bd5d,#b4bc4c,#cbb742,#daac3d,#e29d3a,#e68c36,#e67b32,#e56a2f,#e35b2c,#e14f2a,#e04528,#df3e27,#de3826,#dd3325,#dc2f24,#dc2c24,#dc2a23,#dc2923,#db2723,#db2723,#db2623,#db2623,#db2523,#db2523,#db2623,#db2623,#db2623,#db2723,#db2823,#dc2923,#dc2a23,#dc2b23,#dc2d24,#dc2f24,#dc3124,#dd3325,#dd3625,#de3926,#de3c26,#df4027,#df4428,#e04828,#e04d29,#e1512a,#e2572b)"></i><i style="top:165px;background:linear-gradient(90deg,#6f1c8e,#641d97,#5c1d9e,#5b1d9f,#611d9a,#6b1d91,#751c89,#781c86,#721c8b,#611d9a,#4b26b1,#4042c7,#4169ce,#4a8cc2,#5ba6a6,#72b484,#8ebc67,#a9be53,#c1ba47,#d3b240,#dea53b,#e49538,#e68434,#e67531,#e4652e,#e2572b,#e04c29,#df4428,#de3d26,#dd3725,#dd3325,#dc3024,#dc2d24,#dc2b23,#dc2a23,#dc2923,#dc2823,#db2823,#db2723,#db2723,#db2823,#db2823,#dc2823,#dc2923,#dc2a23,#dc2b23,#dc2c24,#dc2e24,#dc3024,#dc3224,#dd3425,#dd3625,#de3926,#de3c26,#df4027,#df4428,#e04828,#e04c29,#e1512a,#e2562b,#e35c2c)"></i><i style="top:166px;background:linear-gradient(90deg,#711c8c,#671d95,#5e1d9d,#5b1d9f,#5f1d9c,#681d94,#721c8b,#781c86,#751c89,#671d94,#501fa9,#4237c1,#3f5bcf,#4680c9,#549db2,#68af91,#82ba72,#9dbd5a,#b7bc4b,#ccb742,#daac3d,#e29e3a,#e68e36,#e67e33,#e56e30,#e4602d,#e1542b,#e04a29,#df4327,#de3d26,#de3826,#dd3425,#dc3124,#dc2f24,#dc2d24,#dc2c24,#dc2b23,#dc2a23,#dc2a23,#dc2a23,#dc2a23,#dc2a23,#dc2b23,#dc2b23,#dc2c24,#dc2d24,#dc2f24,#dc3124,#dd3225,#dd3425,#dd3725,#de3a26,#de3d26,#df4027,#df4428,#e04828,#e04c29,#e1512a,#e2562b,#e35c2c,#e4622e)"></i><i style="top:167px;background:linear-gradient(90deg,#741c8a,#6a1d92,#601d9b,#5b1d9f,#5d1d9d,#651d96,#701c8d,#771c87,#771c87,#6d1d90,#581ea2,#462db9,#3f4ecb,#4274cd,#4e94bd,#60aa9e,#77b67e,#92bc63,#acbd51,#c2ba46,#d3b240,#dea63b,#e49738,#e68735,#e67832,#e56a2f,#e35c2d,#e1512a,#e04929,#df4227,#de3d26,#de3826,#dd3525,#dd3225,#dc3024,#dc2f24,#dc2e24,#dc2d24,#dc2c24,#dc2c24,#dc2c24,#dc2d24,#dc2d24,#dc2e24,#dc2f24,#dc3024,#dc3224,#dd3325,#dd3525,#de3826,#de3a26,#de3d26,#df4027,#df4428,#e04828,#e04c29,#e1502a,#e2562b,#e35b2c,#e4612e,#e4672f)"></i><i style="top:168px;background:linear-gradient(90deg,#751c88,#6d1d90,#621d99,#5c1d9f,#5c1d9f,#631d99,#6d1d90,#751c88,#781c86,#711c8c,#601d9b,#4b26b1,#4041c7,#4066cf,#4988c5,#58a2ab,#6db28b,#86bb6e,#a0be58,#b9bc4a,#cdb742,#d9ac3d,#e19f3a,#e69036,#e68134,#e67331,#e4662e,#e25a2c,#e1502a,#e04828,#df4227,#df3d27,#de3a26,#dd3725,#dd3425,#dd3225,#dc3124,#dc3024,#dc3024,#dc2f24,#dc2f24,#dc3024,#dc3024,#dc3124,#dd3225,#dd3325,#dd3525,#dd3725,#de3926,#de3b26,#df3e27,#df4127,#e04428,#e04828,#e04c29,#e1502a,#e2552b,#e35b2c,#e4612d,#e4672f,#e56d30)"></i><i style="top:169px;background:linear-gradient(90deg,#771c87,#6f1c8e,#651d97,#5d1d9e,#5b1d9f,#601d9b,#6a1d92,#731c8a,#781c86,#741c89,#671d95,#501fa9,#4336c0,#3f58ce,#447dcb,#519ab7,#64ac98,#7bb879,#95bc61,#aebd50,#c3ba46,#d3b240,#dda73c,#e39939,#e68a35,#e67c33,#e56f30,#e4632e,#e2582c,#e14f2a,#e04828,#df4328,#df3f27,#de3b26,#de3826,#dd3625,#dd3525,#dd3425,#dd3325,#dd3325,#dd3225,#dd3325,#dd3325,#dd3425,#dd3525,#dd3725,#de3826,#de3a26,#de3c26,#df3f27,#df4227,#e04528,#e04929,#e04d29,#e1512a,#e2562b,#e35b2c,#e4602d,#e4662f,#e56c30,#e67331)"></i><i style="top:170px;background:linear-gradient(90deg,#781c86,#721c8c,#681d94,#5e1d9c,#5b1d9f,#5e1d9d,#671d95,#711c8c,#771c87,#771c87,#6c1d90,#581ea2,#472db8,#3f4bca,#4270ce,#4b90c0,#5ca6a5,#71b486,#8abb6b,#a2be57,#babc4a,#ccb742,#d9ad3e,#e0a13a,#e59337,#e68534,#e67832,#e56c30,#e4612d,#e2572b,#e14f2a,#e04929,#df4428,#df4027,#de3d26,#de3b26,#de3926,#dd3725,#dd3725,#dd3625,#dd3625,#dd3625,#dd3725,#de3826,#de3926,#de3a26,#de3c26,#df3e27,#df4027,#df4328,#e04628,#e04929,#e14d29,#e1512a,#e2562b,#e35b2c,#e4602d,#e4662f,#e56c30,#e67231,#e67832)"></i><i style="top:171px;background:linear-gradient(90deg,#781c86,#741c8a,#6a1d92,#601d9a,#5b1d9f,#5d1d9e,#641d97,#6e1d8f,#761c88,#781c86,#711c8c,#601d9b,#4b25b0,#413ec5,#4062cf,#4784c7,#559eb1,#67af93,#7eb976,#97bd5f,#afbd4f,#c3ba46,#d2b340,#dca83c,#e39c39,#e68e36,#e68134,#e67531,#e56a2f,#e35f2d,#e2572b,#e1502a,#e04a29,#e04628,#df4227,#df3f27,#df3d27,#de3c26,#de3b26,#de3a26,#de3a26,#de3a26,#de3b26,#de3c26,#de3d26,#df3e27,#df4027,#df4227,#e04528,#e04728,#e04b29,#e14e29,#e1522a,#e2572b,#e35b2c,#e4612d,#e4662f,#e56c30,#e67231,#e67832,#e67d33)"></i><i style="top:172px;background:linear-gradient(90deg,#781c86,#751c88,#6d1d90,#631d98,#5c1d9e,#5b1d9f,#611d9a,#6b1d91,#741c8a,#781c86,#741c89,#671d95,#501fa9,#4334bf,#3f55cd,#4378cd,#4e95bc,#5fa9a0,#74b582,#8cbc69,#a3be56,#babc4a,#ccb742,#d7ae3e,#dfa33b,#e49738,#e68a35,#e67e33,#e67331,#e5682f,#e35f2d,#e2572b,#e1512a,#e04c29,#e04828,#e04528,#df4227,#df4127,#df3f27,#df3f27,#df3e27,#df3e27,#df3f27,#df4027,#df4127,#df4327,#e04428,#e04728,#e04929,#e04c29,#e14f2a,#e1532b,#e2582b,#e35c2c,#e4612e,#e4672f,#e56c30,#e67231,#e67832,#e67d33,#e68334)"></i><i style="top:173px;background:linear-gradient(90deg,#771c86,#771c87,#701c8d,#661d96,#5d1d9d,#5b1d9f,#5f1d9c,#681d94,#711c8c,#771c86,#761c87,#6c1d90,#591ea1,#472bb7,#4047c9,#416bce,#498ac4,#58a2ac,#6ab18f,#81b973,#99bd5d,#afbd4f,#c2ba46,#d1b341,#dbaa3d,#e19f3a,#e59337,#e68635,#e67b33,#e67131,#e5672f,#e35f2d,#e2582c,#e1522a,#e14e29,#e04a29,#e04828,#e04628,#e04428,#df4328,#df4328,#df4328,#df4328,#e04428,#e04628,#e04728,#e04929,#e04b29,#e14e29,#e1512a,#e2552b,#e2592c,#e35d2d,#e4622e,#e4672f,#e56d30,#e67231,#e67832,#e67d33,#e68334,#e68835)"></i><i style="top:174px;background:linear-gradient(90deg,#771c87,#781c86,#721c8b,#681d94,#5f1d9c,#5b1d9f,#5d1d9d,#651d97,#6f1c8e,#761c88,#781c86,#711c8c,#611d9a,#4c24af,#413cc4,#3f5dd0,#457eca,#5199b8,#61ab9b,#76b67f,#8ebc67,#a4be56,#b9bc4a,#cab843,#d6b03f,#dea63b,#e39b39,#e68f36,#e68434,#e67a32,#e67030,#e5682f,#e4602d,#e25a2c,#e2552b,#e1512a,#e14e29,#e04b29,#e04a29,#e04929,#e04828,#e04828,#e04828,#e04929,#e04a29,#e04c29,#e14e29,#e1512a,#e1532b,#e2572b,#e35b2c,#e35f2d,#e4632e,#e5682f,#e56d30,#e67331,#e67832,#e67d33,#e68334,#e68835,#e68e36)"></i><i style="top:175px;background:linear-gradient(90deg,#761c88,#781c86,#741c89,#6b1d91,#611d9a,#5b1d9f,#5c1d9f,#621d99,#6c1d91,#741c89,#781c86,#741c89,#671d95,#521ea8,#4432bd,#3f50cc,#4272ce,#4b8fc1,#5aa5a8,#6db28c,#82ba72,#99bd5d,#afbd4f,#c0ba47,#cfb541,#d9ac3d,#e0a23b,#e49838,#e68c36,#e68234,#e67932,#e67030,#e5682f,#e4622e,#e35c2c,#e2582b,#e2542b,#e1512a,#e1502a,#e14e2a,#e14e29,#e14d29,#e14e29,#e14f2a,#e1502a,#e1512a,#e1542b,#e2562b,#e2592c,#e35d2d,#e4612d,#e4652e,#e5692f,#e56e30,#e67431,#e67832,#e67d33,#e68334,#e68835,#e68e36,#e59337)"></i><i style="top:176px;background:linear-gradient(90deg,#741c89,#781c86,#761c88,#6e1d8f,#641d98,#5d1d9e,#5b1d9f,#601d9b,#691d93,#721c8b,#781c86,#761c87,#6d1d90,#5a1ea0,#4929b5,#4043c8,#4064cf,#4784c7,#539cb4,#64ac98,#78b77d,#8ebc67,#a3be56,#b7bc4b,#c8b844,#d3b240,#dca93c,#e19f3a,#e59537,#e68a35,#e68134,#e67932,#e67130,#e56a2f,#e4642e,#e35f2d,#e35b2c,#e2582c,#e2562b,#e2552b,#e1542b,#e1532b,#e1542b,#e2542b,#e2562b,#e2572b,#e25a2c,#e35c2d,#e35f2d,#e4632e,#e4672f,#e56b2f,#e67030,#e67531,#e67932,#e67e33,#e68334,#e68835,#e68e36,#e59337,#e49938)"></i><i style="top:177px;background:linear-gradient(90deg,#731c8a,#771c87,#771c87,#701c8d,#671d95,#5e1d9d,#5b1d9f,#5e1d9d,#661d96,#6f1c8e,#761c87,#781c86,#711c8c,#621d99,#4e22ad,#4238c1,#3f57ce,#4378cd,#4d93bd,#5ca7a4,#6eb38a,#83ba71,#99bd5d,#adbd50,#bebb48,#cdb642,#d7af3e,#dea63b,#e29d39,#e59337,#e68935,#e68134,#e67932,#e67331,#e56c30,#e4672f,#e4632e,#e3602d,#e35d2d,#e35b2c,#e35a2c,#e25a2c,#e35a2c,#e35b2c,#e35c2c,#e35e2d,#e4602d,#e4632e,#e4662f,#e5692f,#e56d30,#e67231,#e67631,#e67a32,#e67f33,#e68434,#e68935,#e68e36,#e59337,#e49938,#e29e3a)"></i><i style="top:178px;background:linear-gradient(90deg,#721c8c,#771c87,#781c86,#731c8b,#691d93,#601d9b,#5b1d9f,#5c1d9e,#631d98,#6c1d90,#751c89,#781c86,#741c89,#681d94,#541ea6,#462fba,#3f4aca,#416bce,#4888c5,#559fb0,#65ad96,#79b77c,#8ebc67,#a2be57,#b5bc4c,#c4b945,#d1b441,#daac3d,#dfa43b,#e39b39,#e59137,#e68935,#e68134,#e67a32,#e67531,#e56f30,#e56b2f,#e4672f,#e4652e,#e4632e,#e4612e,#e4612e,#e4612e,#e4622e,#e4632e,#e4642e,#e4672f,#e5692f,#e56c30,#e67030,#e67431,#e67832,#e67c33,#e68034,#e68534,#e68a35,#e68f36,#e59437,#e49938,#e29e3a,#e0a23b)"></i><i style="top:179px;background:linear-gradient(90deg,#701c8d,#751c88,#781c86,#751c89,#6c1d90,#631d99,#5c1d9e,#5b1d9f,#611d9a,#691d93,#721c8b,#781c86,#761c87,#6d1d8f,#5c1d9e,#4a26b2,#413ec5,#3f5dd0,#447dcb,#4f96bb,#5da8a2,#6fb388,#83ba71,#98bd5e,#abbd52,#bcbb49,#cab843,#d4b140,#dbaa3c,#e0a23a,#e39a39,#e69136,#e68935,#e68234,#e67c33,#e67732,#e67331,#e56f30,#e56c30,#e56a2f,#e5692f,#e5682f,#e5682f,#e5682f,#e5692f,#e56b2f,#e56d30,#e67030,#e67331,#e67631,#e67a32,#e67e33,#e68234,#e68635,#e68b35,#e68f36,#e59437,#e39939,#e29e3a,#e0a23b,#dea63c)"></i><i style="top:180px;background:linear-gradient(90deg,#6f1c8e,#741c89,#781c86,#761c88,#6f1c8e,#651d96,#5d1d9d,#5b1d9f,#5e1d9c,#661d95,#701c8d,#761c87,#781c86,#721c8c,#631d98,#4f20ab,#4334bf,#3f51cc,#4270ce,#4a8cc3,#56a1ae,#66ae94,#79b77c,#8dbc68,#a0be58,#b2bd4d,#c1ba46,#ceb641,#d6af3f,#dda83c,#e1a03a,#e49938,#e69136,#e68a35,#e68434,#e67e33,#e67a32,#e67732,#e67431,#e67231,#e67030,#e56f30,#e56f30,#e56f30,#e67130,#e67231,#e67431,#e67732,#e67932,#e67c33,#e68034,#e68434,#e68735,#e68c36,#e69036,#e49538,#e39a39,#e29e3a,#e0a23b,#dda63c,#dbab3d)"></i><i style="top:181px;background:linear-gradient(90deg,#6e1c8e,#731c8b,#771c87,#771c87,#711c8c,#681d94,#5f1d9c,#5b1d9f,#5d1d9e,#641d98,#6d1d90,#751c89,#781c86,#751c89,#691d93,#561ea3,#472bb7,#4044c8,#4063cf,#4680c9,#5098b9,#5ea9a1,#6fb388,#82ba72,#96bd60,#a8be54,#b8bc4a,#c6b945,#d0b441,#d8ae3e,#dda73c,#e1a03a,#e49938,#e59237,#e68b35,#e68635,#e68234,#e67e33,#e67b32,#e67932,#e67732,#e67632,#e67631,#e67632,#e67732,#e67932,#e67a32,#e67d33,#e67f33,#e68234,#e68635,#e68935,#e68d36,#e59237,#e49638,#e39b39,#e19f3a,#e0a33b,#dda73c,#dbab3d,#d8ae3e)"></i><i style="top:182px;background:linear-gradient(90deg,#6e1d8f,#711c8c,#761c88,#781c86,#741c8a,#6b1d91,#611d9a,#5c1d9f,#5c1d9f,#611d9a,#6a1d92,#721c8b,#781c86,#771c87,#6e1c8e,#5e1d9c,#4c24af,#4239c2,#3f56ce,#4274cd,#4b8ec1,#57a2ad,#67ae94,#78b77d,#8bbc69,#9dbd5a,#afbd4f,#bdbb48,#cab843,#d2b340,#d9ad3d,#dea63b,#e19f3a,#e39939,#e59337,#e68e36,#e68935,#e68534,#e68234,#e68034,#e67e33,#e67d33,#e67d33,#e67d33,#e67e33,#e67f33,#e68134,#e68334,#e68535,#e68835,#e68c36,#e69036,#e59337,#e49838,#e39c39,#e19f3a,#dfa33b,#dda73c,#dbab3d,#d7ae3e,#d4b140)"></i><i style="top:183px;background:linear-gradient(90deg,#6e1d8f,#701c8d,#751c89,#781c86,#751c88,#6e1d8f,#641d97,#5d1d9e,#5b1d9f,#5f1d9c,#671d95,#701c8d,#761c87,#781c86,#721c8b,#651d96,#511ea8,#452fbb,#3f49ca,#4067cf,#4783c8,#5199b7,#5fa9a0,#6fb389,#81b973,#93bc62,#a4be56,#b4bc4c,#c1ba47,#ccb742,#d4b140,#daac3d,#dea63b,#e1a03a,#e39b39,#e49538,#e69036,#e68c36,#e68935,#e68735,#e68534,#e68434,#e68334,#e68434,#e68434,#e68535,#e68735,#e68935,#e68c35,#e68f36,#e59237,#e49538,#e39939,#e29d39,#e1a03a,#dfa43b,#dda83c,#daab3d,#d7ae3e,#d3b240,#d0b441)"></i><i style="top:184px;background:linear-gradient(90deg,#6e1d8f,#6f1c8e,#741c8a,#781c86,#771c87,#701c8d,#671d95,#5f1d9c,#5b1d9f,#5d1d9e,#641d98,#6d1d90,#751c89,#781c86,#751c88,#6b1d91,#5a1ea0,#4a27b3,#413dc5,#3f5acf,#4378cd,#4c90c0,#58a2ac,#66ae94,#77b67e,#89bb6b,#9abd5c,#aabd52,#b9bc4a,#c4b945,#ceb641,#d5b13f,#daac3d,#dea63b,#e0a13a,#e29c39,#e49838,#e59437,#e69036,#e68e36,#e68c36,#e68b35,#e68a35,#e68a35,#e68b35,#e68c36,#e68d36,#e69036,#e59237,#e59537,#e49838,#e39b39,#e29e3a,#e0a23a,#dea53b,#dca83c,#daac3d,#d7af3e,#d3b240,#cfb541,#cbb742)"></i><i style="top:185px;background:linear-gradient(90deg,#6f1c8e,#6e1d8f,#721c8b,#771c87,#781c86,#731c8b,#6a1d92,#611d9a,#5b1d9f,#5c1d9f,#611d9a,#6a1d92,#721c8b,#771c87,#771c87,#701c8d,#611d9a,#4f21ac,#4333be,#3f4ecb,#416bce,#4785c7,#519ab7,#5ea9a0,#6eb28a,#7fb975,#90bc65,#a0be58,#afbd4f,#bcbb49,#c6b944,#cfb541,#d5b03f,#daac3d,#dda73c,#e0a23b,#e29e3a,#e39b39,#e49738,#e59537,#e59337,#e59137,#e69136,#e69136,#e59137,#e59237,#e59437,#e49638,#e49838,#e39b39,#e29d3a,#e1a03a,#dfa33b,#dea63c,#dca93c,#d9ad3d,#d6af3f,#d3b240,#cfb541,#cbb742,#c6b945)"></i><i style="top:186px;background:linear-gradient(90deg,#701c8d,#6e1d8f,#711c8c,#761c88,#781c86,#751c89,#6d1d90,#631d98,#5c1d9e,#5b1d9f,#5f1d9c,#671d95,#701c8d,#761c88,#781c86,#731c8a,#681d94,#551ea4,#482bb7,#4041c7,#3f5ed0,#437acd,#4c91bf,#58a2ac,#65ae96,#75b681,#86bb6e,#96bd60,#a5be55,#b3bd4d,#bebb48,#c8b844,#d0b441,#d5b03f,#daac3d,#dda83c,#dfa43b,#e1a13a,#e29e3a,#e39c39,#e39a39,#e49838,#e49738,#e49738,#e49838,#e49938,#e39a39,#e39c39,#e29e3a,#e1a03a,#e0a23b,#dea53b,#dda83c,#dbab3d,#d8ad3e,#d5b03f,#d2b340,#cfb541,#cbb743,#c5b945,#c0ba47)"></i><i style="top:187px;background:linear-gradient(90deg,#711c8c,#6e1d8f,#701c8d,#741c89,#781c86,#761c88,#6f1c8e,#661d96,#5e1d9d,#5b1d9f,#5d1d9d,#641d97,#6d1d90,#741c89,#781c86,#761c88,#6d1d90,#5d1d9d,#4c24af,#4237c1,#3f51cc,#416dce,#4886c6,#519ab7,#5ea8a1,#6cb28c,#7cb878,#8cbc68,#9bbd5b,#a9be53,#b6bc4c,#c0ba47,#c9b843,#d0b441,#d4b13f,#d9ad3e,#dcaa3c,#dea63c,#dfa33b,#e0a13a,#e19f3a,#e29e3a,#e29e3a,#e29d3a,#e29e3a,#e29e3a,#e19f3a,#e0a13a,#e0a23b,#dfa53b,#dda73c,#dca93c,#daac3d,#d7ae3e,#d4b13f,#d1b340,#ceb641,#cab843,#c5b945,#bfbb47,#babc49)"></i><i style="top:188px;background:linear-gradient(90deg,#731c8b,#6e1c8e,#6f1c8e,#731c8a,#771c87,#771c87,#721c8b,#691d93,#601d9b,#5b1d9f,#5c1d9f,#611d9a,#6a1d92,#721c8b,#771c87,#771c87,#711c8c,#641d97,#511ea8,#462eba,#4045c8,#3f60d0,#447bcc,#4c91bf,#57a1ad,#64ad98,#72b584,#82ba72,#91bc64,#9fbe59,#adbd50,#b8bc4b,#c1ba47,#c9b843,#cfb541,#d4b240,#d7ae3e,#daac3d,#dca93c,#dda73c,#dea53b,#dfa43b,#e0a33b,#e0a33b,#e0a33b,#dfa33b,#dfa43b,#dea63b,#dda73c,#dca93c,#daab3d,#d8ad3e,#d6af3f,#d3b240,#d0b441,#cdb642,#c9b843,#c4b945,#bfbb47,#babc4a,#b4bc4c)"></i><i style="top:189px;background:linear-gradient(90deg,#741c89,#6f1c8e,#6e1d8f,#711c8c,#761c87,#781c86,#741c8a,#6c1d91,#631d99,#5c1d9e,#5b1d9f,#5f1d9c,#671d95,#6f1c8e,#761c88,#781c86,#741c89,#6a1d92,#5a1ea1,#4a26b2,#423ac3,#3f54cd,#416fce,#4886c6,#5199b7,#5da7a3,#6ab18f,#78b77c,#88bb6d,#96bd60,#a3be57,#afbd4f,#b9bc4a,#c1ba46,#c9b843,#ceb541,#d2b340,#d5b03f,#d8ae3e,#daac3d,#dbaa3c,#dca93c,#dda83c,#dda83c,#dda83c,#dca83c,#dca93c,#dbaa3d,#daac3d,#d8ad3e,#d7af3e,#d4b13f,#d2b340,#cfb541,#ccb742,#c8b844,#c3ba46,#bebb48,#b9bc4a,#b4bd4d,#aebd50)"></i><i style="top:190px;background:linear-gradient(90deg,#751c88,#701c8d,#6e1d8f,#701c8d,#751c89,#781c86,#761c88,#6e1c8e,#651d96,#5e1d9d,#5b1d9f,#5d1d9d,#641d98,#6c1d90,#741c8a,#781c86,#761c87,#6f1c8e,#611d9a,#4f20ab,#4531bc,#4048c9,#4062cf,#447ccc,#4c90c0,#56a0ae,#62ab9a,#70b388,#7eb976,#8cbc68,#99bd5d,#a5be55,#b1bd4e,#babc4a,#c1ba47,#c8b844,#cdb642,#d0b441,#d3b240,#d5b03f,#d7ae3e,#d8ad3e,#d9ad3d,#daac3d,#daac3d,#d9ad3d,#d8ad3e,#d7ae3e,#d6af3f,#d4b13f,#d2b240,#d0b441,#ceb642,#cab743,#c6b944,#c2ba46,#bdbb48,#b8bc4a,#b3bd4d,#adbd50,#a7be54)"></i><i style="top:191px;background:linear-gradient(90deg,#771c87,#721c8c,#6e1d8f,#6f1c8e,#741c8a,#781c86,#771c87,#711c8c,#681d94,#601d9b,#5b1d9f,#5c1d9f,#611d9a,#691d93,#711c8c,#771c87,#781c86,#731c8b,#671d95,#561ea4,#4929b4,#413cc4,#3f56ce,#4270ce,#4886c6,#5098b9,#5ba6a6,#68af93,#75b681,#82ba72,#90bc65,#9cbd5b,#a7be54,#b1bd4e,#b9bc4a,#c0ba47,#c6b944,#cbb742,#ceb541,#d1b441,#d2b240,#d4b140,#d5b13f,#d5b03f,#d5b03f,#d5b03f,#d4b140,#d3b240,#d2b340,#d0b441,#ceb641,#ccb742,#c8b844,#c4b945,#c0ba47,#bcbb49,#b7bc4b,#b2bd4d,#acbd51,#a6be55,#a0be59)"></i><i style="top:192px;background:linear-gradient(90deg,#771c87,#731c8a,#6f1c8e,#6e1d8f,#721c8b,#771c87,#781c86,#731c8a,#6b1d91,#621d99,#5c1d9e,#5b1d9f,#5f1d9c,#661d95,#6f1c8e,#751c88,#781c86,#751c88,#6d1d90,#5e1d9d,#4e22ad,#4433be,#3f4aca,#4063cf,#447bcc,#4b8fc1,#559fb1,#60aa9e,#6cb28c,#79b77c,#86bb6e,#93bc63,#9ebd5a,#a8be53,#b1bd4e,#b9bc4a,#bebb48,#c3ba45,#c8b844,#cbb742,#ceb642,#cfb541,#d0b441,#d1b441,#d1b441,#d0b441,#d0b441,#cfb541,#cdb642,#ccb742,#c9b843,#c6b945,#c2ba46,#bebb48,#babc49,#b6bc4c,#b1bd4e,#abbd51,#a5be55,#9fbe59,#99bd5d)"></i><i style="top:193px;background:linear-gradient(90deg,#781c86,#751c89,#701c8d,#6e1d8f,#711c8c,#761c88,#781c86,#751c88,#6e1d8f,#651d97,#5e1d9d,#5b1d9f,#5d1d9d,#641d98,#6c1d91,#731c8a,#781c86,#771c87,#711c8c,#651d97,#531ea6,#482bb6,#413ec5,#3f57ce,#4270ce,#4785c7,#4f97ba,#59a4a9,#64ad97,#71b486,#7db877,#89bb6b,#95bc61,#9fbd59,#a8be53,#b0bd4e,#b7bc4b,#bcbb49,#c1ba47,#c4b945,#c7b844,#c9b843,#cbb742,#ccb742,#ccb742,#ccb742,#cbb742,#c9b843,#c8b844,#c5b945,#c2ba46,#bfbb47,#bcbb49,#b9bc4a,#b4bc4c,#b0bd4f,#aabd52,#a4be56,#9fbd59,#99bd5d,#93bc63)"></i><i style="top:194px;background:linear-gradient(90deg,#781c86,#761c88,#711c8c,#6e1d8f,#6f1c8d,#741c89,#781c86,#771c87,#711c8c,#681d94,#601d9b,#5b1d9f,#5c1d9f,#611d9a,#691d93,#711c8c,#761c87,#781c86,#741c89,#6a1d92,#5b1d9f,#4c24af,#4334bf,#3f4bca,#4063cf,#447acc,#4a8ec2,#539db3,#5da8a2,#69b091,#74b582,#80b974,#8cbc69,#96bd60,#9fbe59,#a7be54,#afbd4f,#b5bc4c,#babc4a,#bdbb48,#c0ba47,#c2ba46,#c4b945,#c5b945,#c5b945,#c5b945,#c4b945,#c3ba46,#c1ba46,#bfbb47,#bdbb48,#babc4a,#b6bc4b,#b2bd4d,#aebd50,#a8be53,#a3be57,#9ebd5a,#98bd5e,#92bc63,#8cbc69)"></i><i style="top:195px;background:linear-gradient(90deg,#781c86,#771c87,#721c8b,#6e1c8e,#6f1c8e,#731c8b,#771c87,#781c86,#731c8a,#6b1d92,#621d99,#5c1d9e,#5b1d9f,#5f1d9c,#661d96,#6e1d8f,#751c89,#781c86,#761c88,#6f1c8e,#621d99,#511ea8,#472cb8,#403fc6,#3f57ce,#416fce,#4783c7,#4e94bc,#57a1ad,#61ab9c,#6cb28c,#77b67e,#82ba72,#8dbc68,#96bd5f,#9fbd59,#a6be55,#adbd50,#b2bd4d,#b6bc4b,#babc4a,#bcbb49,#bdbb48,#bebb48,#bfbb47,#bfbb47,#bebb48,#bdbb48,#bbbb49,#b9bc4a,#b6bc4b,#b3bd4d,#b0bd4f,#abbd51,#a6be54,#a1be58,#9cbd5b,#97bd5f,#91bc64,#8bbc69,#85bb6f)"></i><i style="top:196px;background:linear-gradient(90deg,#771c87,#781c86,#741c8a,#6f1c8e,#6e1d8f,#711c8c,#761c88,#781c86,#751c89,#6d1d8f,#651d97,#5e1d9d,#5b1d9f,#5d1d9e,#631d98,#6b1d91,#731c8b,#771c87,#781c86,#731c8b,#681d94,#591ea1,#4b25b1,#4336c0,#3f4bca,#4062cf,#4379cd,#4a8bc3,#519ab7,#5ba5a7,#65ad97,#6fb388,#79b77b,#84ba70,#8ebc67,#96bd60,#9dbd5a,#a4be56,#aabd52,#afbd4f,#b2bd4d,#b5bc4c,#b7bc4b,#b8bc4a,#b9bc4a,#b8bc4a,#b8bc4b,#b7bc4b,#b5bc4c,#b3bd4d,#b0bd4f,#acbd51,#a8be53,#a4be56,#a0be59,#9bbd5c,#96bd60,#90bc65,#8bbb6a,#85bb6f,#7fb975)"></i><i style="top:197px;background:linear-gradient(90deg,#761c88,#781c86,#751c88,#701c8d,#6e1d8f,#701c8d,#751c89,#781c86,#761c87,#701c8d,#671d94,#5f1d9b,#5b1d9f,#5c1d9f,#611d9a,#681d94,#701c8d,#761c88,#781c86,#751c88,#6d1d8f,#601d9b,#501faa,#462db9,#4040c6,#3f57ce,#416dce,#4681c9,#4c92bf,#559eb1,#5ea8a1,#67af93,#71b485,#7bb879,#85bb6f,#8dbc67,#95bd60,#9cbd5b,#a1be58,#a6be55,#aabd52,#adbd50,#afbd4f,#b1bd4e,#b2bd4e,#b2bd4e,#b1bd4e,#b0bd4f,#aebd50,#abbd51,#a8be53,#a5be55,#a1be58,#9dbd5a,#99bd5d,#94bc61,#8fbc66,#8abb6b,#84ba70,#7eb976,#78b77d)"></i><i style="top:198px;background:linear-gradient(90deg,#751c88,#781c86,#771c87,#721c8b,#6e1d8f,#6f1c8e,#731c8a,#771c87,#771c86,#731c8b,#6a1d92,#621d99,#5c1d9e,#5b1d9f,#5e1d9c,#651d96,#6d1d8f,#741c8a,#781c86,#771c87,#711c8c,#671d95,#571ea3,#4b26b2,#4336c0,#3f4bca,#3f61d0,#4376cd,#4888c5,#4f97ba,#58a2ac,#60aa9d,#6ab090,#73b583,#7cb878,#85bb6f,#8dbc68,#93bc62,#99bd5d,#9ebd5a,#a2be57,#a5be55,#a7be54,#a9be53,#aabd52,#aabd52,#a9be53,#a8be53,#a6be54,#a4be56,#a1be58,#9ebd5a,#9bbd5c,#97bd5f,#92bc63,#8dbc67,#88bb6c,#83ba71,#7db877,#78b77d,#72b584)"></i><i style="top:199px;background:linear-gradient(90deg,#741c89,#771c87,#771c87,#731c8a,#6f1c8e,#6e1d8f,#721c8c,#761c88,#781c86,#751c89,#6d1d8f,#651d97,#5e1d9d,#5b1d9f,#5d1d9e,#621d99,#6a1d92,#721c8c,#771c87,#781c86,#741c89,#6c1d91,#5f1d9c,#4f20ab,#462eb9,#403fc6,#3f55ce,#416bce,#457eca,#4b8ec1,#529bb6,#5aa5a7,#62ac9a,#6bb18d,#74b582,#7cb878,#84ba70,#8bbb6a,#91bc64,#96bd60,#9abd5c,#9dbd5a,#a0be59,#a1be58,#a2be57,#a2be57,#a2be57,#a1be58,#9fbe59,#9dbd5a,#9abd5c,#97bd5e,#94bc62,#90bc65,#8bbc69,#87bb6d,#82ba72,#7cb878,#77b67e,#72b485,#6db28b)"></i><i style="top:200px;background:linear-gradient(90deg,#731c8a,#771c87,#781c86,#751c89,#701c8d,#6e1d8f,#701c8d,#751c89,#781c86,#761c87,#701c8d,#671d94,#601d9b,#5b1d9f,#5c1d9f,#601d9b,#671d95,#6f1c8e,#751c89,#781c86,#761c87,#701c8d,#651d96,#561ea4,#4a26b2,#4336c0,#3f4aca,#3f5fd0,#4273cd,#4784c7,#4d93be,#559eb1,#5ca7a4,#64ad97,#6cb28c,#74b582,#7bb879,#83ba71,#89bb6c,#8ebc67,#92bc63,#95bd60,#98bd5e,#9abd5c,#9bbd5c,#9bbd5b,#9bbd5c,#9abd5c,#98bd5e,#96bd5f,#94bc62,#91bc65,#8dbc68,#89bb6b,#85bb6f,#80b974,#7bb879,#76b67f,#71b485,#6db28c,#68af93)"></i><i style="top:201px;background:linear-gradient(90deg,#731c8a,#761c88,#781c86,#761c88,#711c8c,#6e1d8f,#6f1c8e,#731c8a,#771c87,#771c87,#731c8b,#6a1d92,#621d99,#5c1d9e,#5b1d9f,#5e1d9d,#641d97,#6c1d90,#731c8a,#771c87,#781c86,#731c8a,#6b1d92,#5d1d9d,#4f21ab,#462eb9,#413fc6,#3f53cd,#4068cf,#437acc,#498ac4,#4f97ba,#57a1ae,#5ea8a1,#65ad96,#6db28b,#74b582,#7ab77a,#80b974,#86bb6e,#8abb6a,#8ebc67,#90bc65,#92bc63,#93bc62,#94bc61,#94bc62,#93bc63,#91bc64,#8fbc66,#8dbc68,#8abb6b,#86bb6e,#82ba72,#7eb976,#79b77b,#75b681,#70b487,#6cb18d,#67af93,#62ac9a)"></i><i style="top:202px;background:linear-gradient(90deg,#731c8a,#751c89,#781c86,#771c87,#731c8b,#6f1c8e,#6e1d8f,#721c8b,#761c87,#781c86,#751c89,#6d1d8f,#651d97,#5e1d9d,#5b1d9f,#5c1d9e,#621d99,#691d93,#701c8d,#761c88,#781c86,#761c88,#6f1c8e,#641d97,#551ea4,#4a27b2,#4336c0,#4048c9,#3f5ccf,#426fce,#4680c9,#4b8ec1,#519ab7,#58a2ab,#5fa9a0,#66ae95,#6db28c,#73b583,#79b77c,#7eb976,#82ba72,#86bb6e,#89bb6b,#8bbb6a,#8cbc69,#8dbc68,#8cbc68,#8cbc69,#8abb6a,#88bb6c,#86bb6e,#83ba71,#7fb975,#7cb879,#78b77d,#73b582,#6fb388,#6bb18e,#67ae94,#62ab9a,#5ea8a1)"></i><i style="top:203px;background:linear-gradient(90deg,#731c8a,#741c8a,#771c87,#781c86,#741c89,#701c8d,#6e1d8f,#701c8d,#751c89,#781c86,#761c88,#701c8d,#681d94,#601d9b,#5b1d9f,#5b1d9f,#5f1d9b,#661d96,#6e1d8f,#741c89,#781c86,#771c87,#731c8b,#6a1d93,#5d1d9e,#4f21ab,#462db9,#413dc5,#3f51cc,#4064cf,#4376cd,#4785c7,#4d92bf,#539cb4,#59a4a9,#5fa99f,#66ae95,#6cb18d,#71b485,#76b67f,#7ab77a,#7eb976,#81ba73,#83ba71,#85bb6f,#85bb6f,#85bb6f,#85bb6f,#83ba71,#81ba73,#7fb975,#7cb878,#79b77c,#75b680,#72b485,#6eb38a,#6ab08f,#66ae95,#62ab9b,#5da8a2,#5aa4a8)"></i><i style="top:204px;background:linear-gradient(90deg,#741c8a,#731c8a,#761c88,#781c86,#761c88,#711c8c,#6e1d8f,#6f1c8e,#741c8a,#771c86,#771c87,#731c8b,#6b1d92,#621d99,#5d1d9e,#5b1d9f,#5d1d9d,#631d98,#6b1d92,#721c8b,#771c87,#781c86,#751c88,#6e1d8f,#631d98,#551ea5,#4a26b2,#4334bf,#4046c9,#3f59ce,#416bce,#447bcc,#4989c4,#4e94bc,#549db2,#5aa4a8,#60aa9e,#65ad96,#6bb18e,#6fb388,#73b583,#77b67e,#7ab77b,#7cb878,#7db877,#7eb976,#7eb976,#7db877,#7cb878,#7bb87a,#78b77c,#76b680,#73b583,#70b387,#6cb28c,#69b091,#65ad97,#61aa9c,#5da8a2,#59a4a9,#56a0af)"></i><i style="top:205px;background:linear-gradient(90deg,#751c89,#731c8a,#751c89,#781c86,#771c87,#721c8b,#6e1c8e,#6e1c8e,#721c8b,#761c87,#781c86,#751c89,#6e1d8f,#651d97,#5e1d9d,#5b1d9f,#5c1d9e,#611d9a,#681d94,#6f1c8e,#751c89,#781c86,#771c87,#721c8b,#691d93,#5c1d9e,#4f21ab,#472db8,#413cc4,#3f4ecb,#3f60d0,#4271ce,#457fca,#4a8cc3,#4f96bb,#559eb1,#5aa5a8,#5fa99f,#64ad97,#69b091,#6db28b,#70b487,#73b583,#75b681,#76b67f,#77b67e,#77b67e,#77b67e,#76b67f,#74b581,#72b584,#70b487,#6db28b,#6ab18f,#67af93,#63ac98,#60aa9e,#5ca7a3,#59a4a9,#569fb0,#529bb6)"></i><i style="top:206px;background:linear-gradient(90deg,#761c88,#731c8a,#741c89,#771c87,#781c86,#741c89,#6f1c8e,#6e1d8f,#711c8c,#751c88,#781c86,#761c87,#701c8d,#681d94,#601d9b,#5c1d9f,#5b1d9f,#5f1d9c,#651d97,#6c1d90,#731c8b,#771c87,#781c86,#751c89,#6e1d8f,#631d99,#551ea5,#4b26b2,#4333be,#4043c8,#3f55cd,#4066cf,#4376cd,#4783c8,#4b8ec1,#5097ba,#559fb1,#5aa4a8,#5ea9a0,#63ac9a,#67ae94,#6ab08f,#6db28c,#6fb389,#70b487,#71b486,#71b486,#71b486,#70b387,#6fb389,#6db28b,#6bb18e,#68af92,#65ad96,#62ab9b,#5fa9a0,#5ca6a5,#58a3ab,#559fb0,#529ab6,#4f95bb)"></i><i style="top:207px;background:linear-gradient(90deg,#771c87,#731c8a,#731c8a,#761c87,#781c86,#751c88,#711c8c,#6e1d8f,#6f1c8e,#741c8a,#771c86,#771c87,#731c8b,#6b1d91,#631d98,#5d1d9e,#5b1d9f,#5d1d9e,#621d99,#691d93,#701c8d,#761c88,#781c86,#771c87,#711c8c,#681d94,#5c1d9e,#4f20ab,#472cb7,#423ac2,#3f4aca,#3f5bcf,#416bce,#437acd,#4785c6,#4c90c0,#5098b9,#559eb1,#59a4a9,#5da8a2,#61aa9d,#64ad98,#67ae94,#69b091,#6ab18f,#6bb18e,#6bb18d,#6bb18e,#6ab18f,#69b091,#67af93,#65ad96,#63ac99,#60aa9d,#5da8a2,#5ba5a7,#58a2ac,#559eb1,#519ab7,#4e95bb,#4c90c0)"></i><i style="top:208px;background:linear-gradient(90deg,#771c86,#741c89,#731c8a,#751c88,#781c86,#771c87,#721c8b,#6e1c8e,#6e1c8e,#721c8b,#761c87,#781c86,#751c89,#6e1d8f,#661d96,#5f1d9c,#5b1d9f,#5c1d9f,#601d9b,#661d95,#6e1d8f,#741c8a,#771c87,#781c86,#741c89,#6d1d8f,#631d99,#551ea4,#4b25b1,#4431bd,#4040c6,#3f51cc,#3f60d0,#4270ce,#447ccb,#4887c5,#4c91bf,#5098b9,#549eb2,#58a2ab,#5ba6a5,#5ea9a0,#61ab9c,#63ac99,#64ad97,#65ae96,#66ae95,#66ae95,#65ad96,#64ac98,#62ab9a,#60aa9d,#5ea9a0,#5ca7a4,#59a4a9,#57a1ae,#549db2,#5199b7,#4e95bc,#4b90c0,#498ac4)"></i><i style="top:209px;background:linear-gradient(90deg,#781c86,#751c88,#731c8a,#741c89,#771c87,#781c86,#741c8a,#6f1c8e,#6e1d8f,#711c8c,#751c88,#781c86,#761c87,#711c8c,#691d93,#611d9a,#5c1d9e,#5b1d9f,#5e1d9d,#641d98,#6b1d92,#711c8c,#761c88,#781c86,#761c87,#711c8c,#681d94,#5c1d9e,#5020aa,#482ab6,#4237c1,#4046c9,#3f56ce,#4065cf,#4273cd,#457eca,#4988c5,#4c91bf,#5097ba,#539db3,#57a1ae,#5aa4a9,#5ca7a4,#5ea8a1,#5fa99f,#60aa9d,#61aa9d,#60aa9d,#60aa9e,#5fa99f,#5ea8a2,#5ca7a4,#5aa5a8,#58a2ab,#569fb0,#539cb4,#5098b9,#4e94bd,#4b8fc1,#4989c4,#4783c7)"></i><i style="top:210px;background:linear-gradient(90deg,#781c86,#761c87,#731c8a,#731c8a,#761c87,#781c86,#751c88,#711c8d,#6e1d8f,#6f1c8e,#741c8a,#771c87,#771c86,#731c8a,#6c1d91,#631d98,#5d1d9d,#5b1d9f,#5c1d9e,#611d9a,#681d94,#6f1c8e,#741c89,#781c86,#781c86,#741c8a,#6d1d90,#631d99,#561ea4,#4c24af,#452fbb,#413cc4,#3f4ccb,#3f5bcf,#4169ce,#4275cd,#4580c9,#4989c4,#4c90c0,#4f96bb,#529bb5,#559fb1,#57a2ad,#59a4a9,#5aa5a7,#5ba6a5,#5ca7a4,#5ca7a4,#5ba6a5,#5ba5a7,#59a4a9,#58a2ab,#56a0af,#549eb2,#529bb6,#4f97ba,#4d93bd,#4b8fc1,#4989c4,#4783c7,#457dcb)"></i><i style="top:211px;background:linear-gradient(90deg,#781c86,#771c87,#741c89,#731c8a,#751c88,#781c86,#771c87,#721c8b,#6e1c8e,#6e1c8e,#721c8b,#761c87,#781c86,#751c89,#6e1c8e,#661d95,#5f1d9c,#5b1d9f,#5b1d9f,#5f1d9c,#651d97,#6c1d91,#721c8b,#771c87,#781c86,#761c88,#711c8c,#681d94,#5d1d9e,#501fa9,#4928b4,#4334bf,#4041c7,#3f51cc,#3f5ed0,#416cce,#4377cd,#4680c9,#4988c5,#4b90c1,#4e95bc,#5199b8,#539cb4,#559fb1,#56a0ae,#57a1ad,#58a2ac,#58a2ac,#57a2ac,#57a1ae,#569fb0,#549eb2,#529bb5,#5199b8,#4f95bb,#4d92bf,#4a8dc2,#4988c5,#4783c8,#447dcb,#4377cd)"></i><i style="top:212px;background:linear-gradient(90deg,#771c87,#781c86,#751c88,#731c8a,#741c89,#771c87,#771c86,#741c8a,#6f1c8e,#6e1d8f,#711c8c,#751c89,#781c86,#771c87,#711c8c,#691d93,#621d9a,#5c1d9e,#5b1d9f,#5d1d9d,#621d99,#691d93,#701c8d,#751c89,#781c86,#771c87,#741c8a,#6d1d90,#631d98,#571ea3,#4d23ae,#472db9,#4239c2,#4046c9,#3f55cd,#4062cf,#416ece,#4378cd,#4680c9,#4888c5,#4b8ec2,#4d92be,#4f96bb,#5199b8,#529bb5,#539cb4,#549db3,#549db3,#549db3,#539cb4,#529ab6,#5099b8,#4f96bb,#4d93bd,#4c90c0,#4a8cc3,#4887c5,#4682c8,#447dcb,#4377cd,#4270ce)"></i><i style="top:213px;background:linear-gradient(90deg,#761c88,#781c86,#761c88,#731c8a,#741c8a,#771c87,#781c86,#751c88,#701c8d,#6e1d8f,#6f1c8e,#741c8a,#771c87,#781c86,#741c8a,#6c1d90,#641d97,#5e1d9d,#5b1d9f,#5c1d9f,#601d9b,#661d96,#6d1d90,#731c8a,#771c87,#781c86,#761c88,#711c8c,#681d94,#5e1d9d,#511ea8,#4a27b2,#4431bd,#413dc5,#3f4bca,#3f58ce,#4064cf,#416fce,#4378cd,#4580c9,#4886c6,#4a8bc3,#4b90c0,#4d93be,#4e95bc,#4f97ba,#5098b9,#5098b9,#5098b9,#4f97ba,#4e95bb,#4d93bd,#4c91bf,#4b8ec2,#498ac4,#4886c6,#4681c9,#447ccb,#4376cd,#4270ce,#4169ce)"></i></div><svg width="685" height="261" viewBox="0 0 685 261" style="position:absolute;left:0;top:0"><rect x="37.2" y="1.6" width="249.0" height="223.0" fill="none" stroke="#bdbdbd" stroke-width="1"/><path d="M42.0 224.6v-2.4M42.0 1.6v2.4M51.6 224.6v-1.5M51.6 1.6v1.5M61.1 224.6v-1.5M61.1 1.6v1.5M70.7 224.6v-1.5M70.7 1.6v1.5M80.2 224.6v-1.5M80.2 1.6v1.5M89.8 224.6v-2.4M89.8 1.6v2.4M99.4 224.6v-1.5M99.4 1.6v1.5M108.9 224.6v-1.5M108.9 1.6v1.5M118.5 224.6v-1.5M118.5 1.6v1.5M128.0 224.6v-1.5M128.0 1.6v1.5M137.6 224.6v-2.4M137.6 1.6v2.4M147.2 224.6v-1.5M147.2 1.6v1.5M156.7 224.6v-1.5M156.7 1.6v1.5M166.3 224.6v-1.5M166.3 1.6v1.5M175.8 224.6v-1.5M175.8 1.6v1.5M185.4 224.6v-2.4M185.4 1.6v2.4M195.0 224.6v-1.5M195.0 1.6v1.5M204.5 224.6v-1.5M204.5 1.6v1.5M214.1 224.6v-1.5M214.1 1.6v1.5M223.6 224.6v-1.5M223.6 1.6v1.5M233.2 224.6v-2.4M233.2 1.6v2.4M242.8 224.6v-1.5M242.8 1.6v1.5M252.3 224.6v-1.5M252.3 1.6v1.5M261.9 224.6v-1.5M261.9 1.6v1.5M271.4 224.6v-1.5M271.4 1.6v1.5M281.0 224.6v-2.4M281.0 1.6v2.4M37.2 220.0h2.4M286.2 220.0h-2.4M37.2 212.9h1.5M286.2 212.9h-1.5M37.2 205.7h1.5M286.2 205.7h-1.5M37.2 198.6h1.5M286.2 198.6h-1.5M37.2 191.5h1.5M286.2 191.5h-1.5M37.2 184.3h2.4M286.2 184.3h-2.4M37.2 177.2h1.5M286.2 177.2h-1.5M37.2 170.1h1.5M286.2 170.1h-1.5M37.2 162.9h1.5M286.2 162.9h-1.5M37.2 155.8h1.5M286.2 155.8h-1.5M37.2 148.7h2.4M286.2 148.7h-2.4M37.2 141.5h1.5M286.2 141.5h-1.5M37.2 134.4h1.5M286.2 134.4h-1.5M37.2 127.3h1.5M286.2 127.3h-1.5M37.2 120.1h1.5M286.2 120.1h-1.5M37.2 113.0h2.4M286.2 113.0h-2.4M37.2 105.9h1.5M286.2 105.9h-1.5M37.2 98.7h1.5M286.2 98.7h-1.5M37.2 91.6h1.5M286.2 91.6h-1.5M37.2 84.5h1.5M286.2 84.5h-1.5M37.2 77.3h2.4M286.2 77.3h-2.4M37.2 70.2h1.5M286.2 70.2h-1.5M37.2 63.1h1.5M286.2 63.1h-1.5M37.2 55.9h1.5M286.2 55.9h-1.5M37.2 48.8h1.5M286.2 48.8h-1.5M37.2 41.7h2.4M286.2 41.7h-2.4M37.2 34.5h1.5M286.2 34.5h-1.5M37.2 27.4h1.5M286.2 27.4h-1.5M37.2 20.3h1.5M286.2 20.3h-1.5M37.2 13.1h1.5M286.2 13.1h-1.5M37.2 6.0h2.4M286.2 6.0h-2.4" stroke="#555" stroke-width="0.7" fill="none"/><path d="M42.0 106.2H206.1M147.4 109.2V220.0M209.1 109.2V220.0" stroke="#fff" stroke-opacity=".55" stroke-width="1.6" fill="none"/><circle cx="147.4" cy="106.2" r="3.15" fill="#fff" fill-opacity=".35" stroke="#1c1c1c" stroke-width="1.05"/><circle cx="209.1" cy="106.2" r="3.15" fill="#fff" fill-opacity=".35" stroke="#1c1c1c" stroke-width="1.05"/><g font-family="'Liberation Sans',Arial,sans-serif" font-size="13" fill="#111"><text x="42.0" y="239.2" text-anchor="middle">0.5</text><text x="89.8" y="239.2" text-anchor="middle">0.6</text><text x="137.6" y="239.2" text-anchor="middle">0.7</text><text x="185.4" y="239.2" text-anchor="middle">0.8</text><text x="233.2" y="239.2" text-anchor="middle">0.9</text><text x="281.0" y="239.2" text-anchor="middle">1.0</text><text x="34.3" y="224.0" text-anchor="end">2.0</text><text x="34.3" y="188.3" text-anchor="end">2.5</text><text x="34.3" y="152.7" text-anchor="end">3.0</text><text x="34.3" y="117.0" text-anchor="end">3.5</text><text x="34.3" y="81.3" text-anchor="end">4.0</text><text x="34.3" y="45.7" text-anchor="end">4.5</text><text x="34.3" y="10.0" text-anchor="end">5.0</text><text x="92.4" y="256.7" letter-spacing=".08">Pump Wavelength <tspan fill="#555" dx=".6">(</tspan><tspan font-family="'DejaVu Serif','Liberation Serif',serif" font-style="italic" font-size="11.5">μ</tspan>m<tspan fill="#555">)</tspan></text><text transform="translate(11.4 177) rotate(-90)" letter-spacing=".1">Idler wavelength <tspan fill="#555" dx=".6">(</tspan><tspan font-family="'DejaVu Serif','Liberation Serif',serif" font-style="italic" font-size="11.5">μ</tspan>m<tspan fill="#555">)</tspan></text><text x="253.5" y="22" font-size="12.5">(a)</text></g><defs><linearGradient id="cb" x1="0" y1="1" x2="0" y2="0"><stop offset="0.000" stop-color="#781c86"/><stop offset="0.025" stop-color="#691d93"/><stop offset="0.050" stop-color="#591ea1"/><stop offset="0.075" stop-color="#4d23ae"/><stop offset="0.100" stop-color="#472db9"/><stop offset="0.125" stop-color="#4239c2"/><stop offset="0.150" stop-color="#4046c9"/><stop offset="0.175" stop-color="#3f54cd"/><stop offset="0.200" stop-color="#3f61d0"/><stop offset="0.225" stop-color="#416ece"/><stop offset="0.250" stop-color="#447bcc"/><stop offset="0.275" stop-color="#4785c6"/><stop offset="0.300" stop-color="#4b8fc1"/><stop offset="0.325" stop-color="#5098b9"/><stop offset="0.350" stop-color="#56a0af"/><stop offset="0.375" stop-color="#5ca6a5"/><stop offset="0.400" stop-color="#62ab9a"/><stop offset="0.425" stop-color="#6ab090"/><stop offset="0.450" stop-color="#71b485"/><stop offset="0.475" stop-color="#7ab77b"/><stop offset="0.500" stop-color="#83ba71"/><stop offset="0.525" stop-color="#8cbc68"/><stop offset="0.550" stop-color="#96bd60"/><stop offset="0.575" stop-color="#a0be59"/><stop offset="0.600" stop-color="#aabd52"/><stop offset="0.625" stop-color="#b4bd4d"/><stop offset="0.650" stop-color="#bdbb48"/><stop offset="0.675" stop-color="#c6b944"/><stop offset="0.700" stop-color="#ceb541"/><stop offset="0.725" stop-color="#d5b03f"/><stop offset="0.750" stop-color="#dbaa3d"/><stop offset="0.775" stop-color="#e0a23b"/><stop offset="0.800" stop-color="#e39939"/><stop offset="0.825" stop-color="#e68e36"/><stop offset="0.850" stop-color="#e68134"/><stop offset="0.875" stop-color="#e67431"/><stop offset="0.900" stop-color="#e4632e"/><stop offset="0.925" stop-color="#e1522a"/><stop offset="0.950" stop-color="#df4227"/><stop offset="0.975" stop-color="#dc3224"/><stop offset="1.000" stop-color="#db2122"/></linearGradient></defs><rect x="291.9" y="20.2" width="9.8" height="89.5" fill="url(#cb)"/><path d="M302.9 110.2h3.6M302.9 92.2h3.6M302.9 74.2h3.6M302.9 56.2h3.6M302.9 38.2h3.6M302.9 20.2h3.6" stroke="#222" stroke-width="1.2" fill="none"/><g font-family="'Liberation Sans',Arial,sans-serif" font-size="11" fill="#111"><text x="308.6" y="114.1">0</text><text x="308.6" y="96.1">0.2</text><text x="308.6" y="78.1">0.4</text><text x="308.6" y="60.1">0.6</text><text x="308.6" y="42.1">0.8</text><text x="308.6" y="24.1">1.0</text><text x="291.5" y="10.5" font-size="11.5">Sinc<tspan font-size="7.5" dy="-4">2</tspan><tspan dy="4">[ΔkL/2]</tspan></text></g><path d="M414.4 1.9H683.2V218.0H414.4Z" fill="none" stroke="#333" stroke-width="1.2"/><path d="M429.3 218.0v3.6M429.3 1.9v4.2M448.0 218.0v2.2M448.0 1.9v2.4M466.7 218.0v3.6M466.7 1.9v4.2M485.3 218.0v2.2M485.3 1.9v2.4M504.0 218.0v3.6M504.0 1.9v4.2M522.7 218.0v2.2M522.7 1.9v2.4M541.4 218.0v3.6M541.4 1.9v4.2M560.1 218.0v2.2M560.1 1.9v2.4M578.8 218.0v3.6M578.8 1.9v4.2M597.4 218.0v2.2M597.4 1.9v2.4M616.1 218.0v3.6M616.1 1.9v4.2M634.8 218.0v2.2M634.8 1.9v2.4M653.5 218.0v3.6M653.5 1.9v4.2M672.2 218.0v2.2M672.2 1.9v2.4M414.4 208.8h-4.4M683.2 208.8h-4.4M414.4 189.9h-2.6M683.2 189.9h-2.6M414.4 171.1h-4.4M683.2 171.1h-4.4M414.4 152.2h-2.6M683.2 152.2h-2.6M414.4 133.4h-4.4M683.2 133.4h-4.4M414.4 114.5h-2.6M683.2 114.5h-2.6M414.4 95.6h-4.4M683.2 95.6h-4.4M414.4 76.8h-2.6M683.2 76.8h-2.6M414.4 57.9h-4.4M683.2 57.9h-4.4M414.4 39.1h-2.6M683.2 39.1h-2.6M414.4 20.2h-4.4M683.2 20.2h-4.4" stroke="#333" stroke-width="1.1" fill="none"/><path d="M414.4 207.9C417.0 207.8 424.7 207.8 430.0 207.6C435.3 207.4 442.7 207.4 446.2 207.0C449.7 206.6 449.5 206.6 450.8 205.2C452.1 203.8 453.1 201.8 454.2 198.3C455.3 194.9 456.5 189.5 457.7 184.5C458.9 179.5 460.2 172.4 461.1 168.4C462.1 164.4 462.6 162.1 463.4 160.3C464.2 158.5 464.8 157.9 465.7 157.6C466.6 157.3 467.7 157.3 468.7 158.7C469.7 160.1 470.5 162.9 471.5 166.1C472.5 169.2 473.8 174.1 474.9 177.6C476.0 181.1 477.2 184.2 478.4 186.8C479.5 189.4 480.9 191.9 481.8 193.2C482.7 194.5 483.1 195.0 483.7 194.8C484.3 194.6 484.9 193.8 485.7 192.1C486.5 190.4 487.6 187.7 488.7 184.5C489.8 181.3 491.0 176.8 492.2 173.0C493.4 169.2 494.5 165.3 495.6 161.5C496.8 157.7 497.9 155.2 499.1 150.0C500.3 144.8 501.5 137.8 503.0 130.0C504.5 122.2 506.6 110.7 507.9 103.0C509.2 95.3 509.6 90.5 510.7 84.0C511.8 77.5 513.0 70.2 514.3 64.3C515.6 58.4 516.9 53.6 518.4 48.7C519.9 43.8 521.7 38.5 523.0 34.9C524.3 31.2 525.4 28.9 526.4 26.8C527.4 24.7 527.9 23.2 528.7 22.2C529.5 21.2 530.0 20.9 531.0 20.6C532.0 20.3 533.4 20.4 534.5 20.4C535.6 20.4 536.8 20.4 537.9 20.6C539.0 20.8 540.2 21.2 541.4 21.8C542.5 22.4 543.6 23.1 544.8 23.9C545.9 24.7 547.1 25.7 548.3 26.8C549.4 27.9 550.6 29.2 551.7 30.7C552.9 32.2 554.1 34.1 555.2 36.0C556.4 37.9 557.5 39.9 558.6 41.8C559.8 43.7 560.8 45.5 562.1 47.5C563.5 49.5 565.3 51.6 566.7 53.7C568.1 55.9 568.9 57.3 570.3 60.4C571.7 63.5 573.5 68.5 575.1 72.2C576.7 75.9 578.3 79.4 579.7 82.5C581.1 85.6 582.2 89.0 583.3 91.0C584.4 93.0 585.5 93.2 586.3 94.7C587.0 96.2 587.3 96.6 587.8 100.0C588.3 103.4 589.0 109.7 589.5 114.9C590.0 120.1 590.7 126.5 591.1 131.0C591.5 135.5 591.7 138.7 592.1 142.0C592.5 145.3 592.9 147.3 593.4 151.1C593.9 154.9 594.7 161.2 595.3 164.9C595.9 168.7 596.6 171.9 597.1 173.6C597.6 175.3 597.8 175.5 598.3 175.2C598.8 174.9 599.3 174.3 599.9 171.8C600.5 169.3 601.1 163.7 601.7 160.3C602.3 156.9 603.0 153.7 603.6 151.6C604.2 149.5 605.0 148.2 605.6 147.6C606.2 147.0 606.9 147.4 607.5 148.1C608.1 148.8 608.7 149.9 609.5 151.6C610.3 153.2 611.4 155.6 612.5 158.0C613.6 160.4 614.9 163.2 616.0 166.0C617.1 168.8 618.2 172.0 619.4 174.5C620.6 177.0 621.9 179.1 623.2 181.0C624.5 182.9 626.0 184.6 627.4 186.0C628.8 187.4 630.0 188.1 631.3 189.5C632.6 190.9 633.9 192.8 635.2 194.4C636.5 196.0 637.8 197.7 639.1 198.9C640.4 200.1 641.7 200.9 643.0 201.7C644.3 202.5 645.6 203.0 646.9 203.6C648.2 204.2 649.5 204.8 650.8 205.2C652.1 205.6 653.1 205.8 654.7 206.1C656.3 206.3 659.0 206.5 660.6 206.7C662.2 206.9 663.2 207.2 664.5 207.1C665.8 207.0 666.9 206.3 668.4 206.1C669.9 205.9 671.7 205.9 673.3 206.1C674.9 206.3 676.5 206.7 678.2 207.1C679.9 207.5 682.6 208.3 683.5 208.5" stroke="#111" stroke-width="1.2" fill="none" stroke-linejoin="round"/><g font-family="'Liberation Sans',Arial,sans-serif" font-size="12.3" fill="#111"><text x="429.3" y="235.3" text-anchor="middle">2.0</text><text x="466.7" y="235.3" text-anchor="middle">2.5</text><text x="504.0" y="235.3" text-anchor="middle">3.0</text><text x="541.4" y="235.3" text-anchor="middle">3.5</text><text x="578.8" y="235.3" text-anchor="middle">4.0</text><text x="616.1" y="235.3" text-anchor="middle">4.5</text><text x="653.5" y="235.3" text-anchor="middle">5.0</text><text x="407.4" y="213.2" text-anchor="end">0.0</text><text x="407.4" y="175.5" text-anchor="end">0.2</text><text x="407.4" y="137.8" text-anchor="end">0.4</text><text x="407.4" y="100.0" text-anchor="end">0.6</text><text x="407.4" y="62.3" text-anchor="end">0.8</text><text x="407.4" y="24.6" text-anchor="end">1.0</text><text x="549" y="256.6" text-anchor="middle">Wavelength (μm)</text><text transform="translate(377.9 180.3) rotate(-90)">Normalized Intensity (arb. u.)</text><text x="653.3" y="20.3" font-size="12">(b)</text></g></svg></div></body></html>
